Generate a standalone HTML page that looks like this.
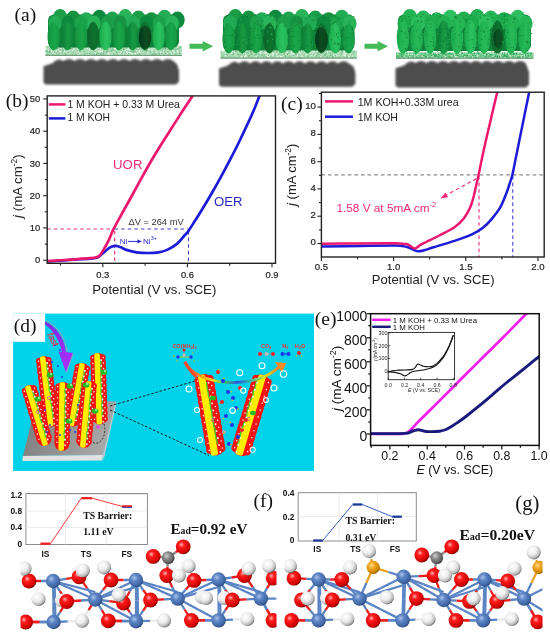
<!DOCTYPE html>
<html><head><meta charset="utf-8"><title>Figure</title>
<style>html,body{margin:0;padding:0;background:#fff;overflow:hidden;} svg{display:block;}</style></head>
<body><svg width="550" height="636" viewBox="0 0 550 636">
<rect width="550" height="636" fill="#fff"/>
<defs>
<filter id="shblur" x="-10%" y="-30%" width="120%" height="160%"><feGaussianBlur stdDeviation="1.1"/></filter>
<filter id="soft" x="-10%" y="-10%" width="120%" height="120%"><feGaussianBlur stdDeviation="0.45"/></filter>
<filter id="fuzz" x="-10%" y="-10%" width="120%" height="120%"><feTurbulence type="fractalNoise" baseFrequency="0.9" numOctaves="1" seed="3" result="n"/><feDisplacementMap in="SourceGraphic" in2="n" scale="2.2" xChannelSelector="R" yChannelSelector="G"/></filter>
<linearGradient id="bm" x1="0" x2="1"><stop offset="0" stop-color="#0c7a33"/><stop offset="0.55" stop-color="#159a44"/><stop offset="1" stop-color="#0f8539"/></linearGradient>
<linearGradient id="bl" x1="0" x2="1"><stop offset="0" stop-color="#18a84a"/><stop offset="0.55" stop-color="#2cc261"/><stop offset="1" stop-color="#20b253"/></linearGradient>
<linearGradient id="bd" x1="0" x2="1"><stop offset="0" stop-color="#07622a"/><stop offset="0.55" stop-color="#0b742f"/><stop offset="1" stop-color="#09682b"/></linearGradient>
<linearGradient id="bk" x1="0" x2="1"><stop offset="0" stop-color="#04361a"/><stop offset="0.55" stop-color="#094a20"/><stop offset="1" stop-color="#063e1a"/></linearGradient>
<linearGradient id="bb" x1="0" x2="1"><stop offset="0" stop-color="#11903d"/><stop offset="0.55" stop-color="#1aa64a"/><stop offset="1" stop-color="#149842"/></linearGradient>
<linearGradient id="b3" x1="0" x2="1"><stop offset="0" stop-color="#18a64a"/><stop offset="0.55" stop-color="#28ba58"/><stop offset="1" stop-color="#1fae50"/></linearGradient>
</defs>
<path d="M43.5,82.4 L43.5,66.3 L52.5,63.3 Q58.0,56.8 63.5,61.1 Q69.0,56.8 74.5,61.1 Q80.0,56.8 85.5,61.1 Q91.0,56.8 96.5,61.1 Q102.0,56.8 107.5,61.1 Q113.0,56.8 118.5,61.1 Q124.0,56.8 129.5,61.1 Q135.0,56.8 140.5,61.1 Q146.0,56.8 151.5,61.1 Q157.0,56.8 162.5,61.1 Q168.0,56.8 173.5,61.1 L177.0,64.3 L179.0,70.3 L179.0,81.4 L176.0,84.4 L45.5,84.4 Z" fill="#4d4d4d" filter="url(#shblur)"/>
<rect x="45.5" y="46.0" width="136.3" height="10.0" fill="#a6dab0"/>
<rect x="89.3" y="47.4" width="1.1" height="1.1" fill="#e6f6e8"/>
<rect x="55.3" y="50.8" width="1.1" height="1.1" fill="#d0eed6"/>
<rect x="124.4" y="54.2" width="1.1" height="1.1" fill="#7cc08a"/>
<rect x="50.6" y="49.9" width="1.1" height="1.1" fill="#e6f6e8"/>
<rect x="78.1" y="51.0" width="1.1" height="1.1" fill="#e6f6e8"/>
<rect x="157.4" y="47.1" width="1.1" height="1.1" fill="#7cc08a"/>
<rect x="130.8" y="51.2" width="1.1" height="1.1" fill="#e6f6e8"/>
<rect x="123.6" y="49.6" width="1.1" height="1.1" fill="#7cc08a"/>
<rect x="51.8" y="53.7" width="1.1" height="1.1" fill="#d0eed6"/>
<rect x="102.2" y="50.9" width="1.1" height="1.1" fill="#ffffff"/>
<rect x="87.2" y="53.3" width="1.1" height="1.1" fill="#7cc08a"/>
<rect x="59.4" y="51.1" width="1.1" height="1.1" fill="#7cc08a"/>
<rect x="95.9" y="50.9" width="1.1" height="1.1" fill="#e6f6e8"/>
<rect x="121.9" y="51.6" width="1.1" height="1.1" fill="#5faa70"/>
<rect x="137.6" y="49.8" width="1.1" height="1.1" fill="#d0eed6"/>
<rect x="108.5" y="54.3" width="1.1" height="1.1" fill="#d0eed6"/>
<rect x="86.1" y="53.1" width="1.1" height="1.1" fill="#7cc08a"/>
<rect x="56.6" y="48.7" width="1.1" height="1.1" fill="#5faa70"/>
<rect x="163.9" y="52.6" width="1.1" height="1.1" fill="#d0eed6"/>
<rect x="127.9" y="46.7" width="1.1" height="1.1" fill="#ffffff"/>
<rect x="102.1" y="52.8" width="1.1" height="1.1" fill="#7cc08a"/>
<rect x="171.8" y="49.8" width="1.1" height="1.1" fill="#e6f6e8"/>
<rect x="148.9" y="51.2" width="1.1" height="1.1" fill="#d0eed6"/>
<rect x="91.5" y="49.2" width="1.1" height="1.1" fill="#5faa70"/>
<rect x="124.0" y="50.1" width="1.1" height="1.1" fill="#e6f6e8"/>
<rect x="173.3" y="50.3" width="1.1" height="1.1" fill="#e6f6e8"/>
<rect x="53.7" y="52.3" width="1.1" height="1.1" fill="#ffffff"/>
<rect x="179.9" y="53.4" width="1.1" height="1.1" fill="#d0eed6"/>
<rect x="142.5" y="54.0" width="1.1" height="1.1" fill="#d0eed6"/>
<rect x="48.6" y="50.2" width="1.1" height="1.1" fill="#7cc08a"/>
<rect x="128.2" y="50.4" width="1.1" height="1.1" fill="#7cc08a"/>
<rect x="149.4" y="47.2" width="1.1" height="1.1" fill="#7cc08a"/>
<rect x="99.3" y="54.3" width="1.1" height="1.1" fill="#5faa70"/>
<rect x="56.4" y="50.0" width="1.1" height="1.1" fill="#ffffff"/>
<rect x="83.1" y="47.2" width="1.1" height="1.1" fill="#5faa70"/>
<rect x="162.4" y="48.5" width="1.1" height="1.1" fill="#5faa70"/>
<rect x="179.0" y="52.1" width="1.1" height="1.1" fill="#5faa70"/>
<rect x="175.1" y="47.4" width="1.1" height="1.1" fill="#7cc08a"/>
<rect x="66.0" y="51.9" width="1.1" height="1.1" fill="#e6f6e8"/>
<rect x="111.1" y="51.3" width="1.1" height="1.1" fill="#d0eed6"/>
<rect x="83.6" y="47.3" width="1.1" height="1.1" fill="#ffffff"/>
<rect x="95.5" y="51.1" width="1.1" height="1.1" fill="#7cc08a"/>
<rect x="138.9" y="50.6" width="1.1" height="1.1" fill="#ffffff"/>
<rect x="134.1" y="52.7" width="1.1" height="1.1" fill="#5faa70"/>
<rect x="167.2" y="53.0" width="1.1" height="1.1" fill="#ffffff"/>
<rect x="98.6" y="49.6" width="1.1" height="1.1" fill="#e6f6e8"/>
<rect x="110.7" y="49.6" width="1.1" height="1.1" fill="#7cc08a"/>
<rect x="54.6" y="47.9" width="1.1" height="1.1" fill="#7cc08a"/>
<rect x="60.4" y="51.4" width="1.1" height="1.1" fill="#e6f6e8"/>
<rect x="45.5" y="47.4" width="1.1" height="1.1" fill="#e6f6e8"/>
<rect x="173.9" y="51.5" width="1.1" height="1.1" fill="#e6f6e8"/>
<rect x="163.8" y="51.5" width="1.1" height="1.1" fill="#7cc08a"/>
<rect x="131.3" y="54.6" width="1.1" height="1.1" fill="#ffffff"/>
<rect x="94.8" y="47.1" width="1.1" height="1.1" fill="#5faa70"/>
<rect x="179.9" y="50.2" width="1.1" height="1.1" fill="#5faa70"/>
<rect x="87.7" y="47.3" width="1.1" height="1.1" fill="#d0eed6"/>
<rect x="145.7" y="50.3" width="1.1" height="1.1" fill="#7cc08a"/>
<rect x="115.4" y="47.8" width="1.1" height="1.1" fill="#ffffff"/>
<rect x="94.4" y="52.2" width="1.1" height="1.1" fill="#e6f6e8"/>
<rect x="148.1" y="48.7" width="1.1" height="1.1" fill="#e6f6e8"/>
<rect x="139.7" y="48.4" width="1.1" height="1.1" fill="#d0eed6"/>
<rect x="168.4" y="49.2" width="1.1" height="1.1" fill="#7cc08a"/>
<rect x="117.6" y="53.0" width="1.1" height="1.1" fill="#d0eed6"/>
<rect x="131.6" y="51.5" width="1.1" height="1.1" fill="#7cc08a"/>
<rect x="154.6" y="53.4" width="1.1" height="1.1" fill="#7cc08a"/>
<rect x="72.5" y="50.4" width="1.1" height="1.1" fill="#e6f6e8"/>
<rect x="179.4" y="53.1" width="1.1" height="1.1" fill="#5faa70"/>
<rect x="80.6" y="52.2" width="1.1" height="1.1" fill="#d0eed6"/>
<rect x="106.0" y="54.4" width="1.1" height="1.1" fill="#d0eed6"/>
<rect x="174.7" y="49.3" width="1.1" height="1.1" fill="#7cc08a"/>
<rect x="59.3" y="50.2" width="1.1" height="1.1" fill="#d0eed6"/>
<rect x="73.2" y="51.6" width="1.1" height="1.1" fill="#ffffff"/>
<rect x="159.2" y="50.3" width="1.1" height="1.1" fill="#d0eed6"/>
<rect x="153.7" y="46.8" width="1.1" height="1.1" fill="#e6f6e8"/>
<rect x="168.6" y="53.0" width="1.1" height="1.1" fill="#7cc08a"/>
<rect x="110.2" y="47.6" width="1.1" height="1.1" fill="#d0eed6"/>
<rect x="57.2" y="54.5" width="1.1" height="1.1" fill="#5faa70"/>
<rect x="108.2" y="52.7" width="1.1" height="1.1" fill="#e6f6e8"/>
<rect x="143.6" y="47.5" width="1.1" height="1.1" fill="#7cc08a"/>
<rect x="49.2" y="51.3" width="1.1" height="1.1" fill="#5faa70"/>
<rect x="154.6" y="47.3" width="1.1" height="1.1" fill="#ffffff"/>
<rect x="178.1" y="51.9" width="1.1" height="1.1" fill="#d0eed6"/>
<rect x="66.6" y="50.9" width="1.1" height="1.1" fill="#e6f6e8"/>
<rect x="47.4" y="54.7" width="1.1" height="1.1" fill="#e6f6e8"/>
<rect x="116.7" y="54.4" width="1.1" height="1.1" fill="#5faa70"/>
<rect x="179.0" y="47.8" width="1.1" height="1.1" fill="#7cc08a"/>
<rect x="49.3" y="47.9" width="1.1" height="1.1" fill="#ffffff"/>
<rect x="78.0" y="51.3" width="1.1" height="1.1" fill="#d0eed6"/>
<rect x="119.2" y="53.5" width="1.1" height="1.1" fill="#e6f6e8"/>
<rect x="168.6" y="49.2" width="1.1" height="1.1" fill="#5faa70"/>
<rect x="135.1" y="53.3" width="1.1" height="1.1" fill="#ffffff"/>
<rect x="102.4" y="54.3" width="1.1" height="1.1" fill="#ffffff"/>
<rect x="63.2" y="47.4" width="1.1" height="1.1" fill="#ffffff"/>
<rect x="48.0" y="50.0" width="1.1" height="1.1" fill="#7cc08a"/>
<rect x="127.8" y="53.0" width="1.1" height="1.1" fill="#7cc08a"/>
<rect x="68.8" y="50.3" width="1.1" height="1.1" fill="#e6f6e8"/>
<rect x="120.8" y="48.9" width="1.1" height="1.1" fill="#ffffff"/>
<rect x="117.3" y="50.3" width="1.1" height="1.1" fill="#e6f6e8"/>
<rect x="165.0" y="46.5" width="1.1" height="1.1" fill="#7cc08a"/>
<rect x="83.0" y="53.0" width="1.1" height="1.1" fill="#ffffff"/>
<rect x="106.7" y="46.3" width="1.1" height="1.1" fill="#e6f6e8"/>
<rect x="105.5" y="51.5" width="1.1" height="1.1" fill="#ffffff"/>
<rect x="127.5" y="47.8" width="1.1" height="1.1" fill="#d0eed6"/>
<rect x="106.7" y="50.8" width="1.1" height="1.1" fill="#5faa70"/>
<rect x="114.2" y="48.2" width="1.1" height="1.1" fill="#ffffff"/>
<rect x="164.1" y="54.5" width="1.1" height="1.1" fill="#d0eed6"/>
<rect x="170.4" y="54.0" width="1.1" height="1.1" fill="#7cc08a"/>
<rect x="159.2" y="47.2" width="1.1" height="1.1" fill="#e6f6e8"/>
<rect x="98.6" y="48.8" width="1.1" height="1.1" fill="#7cc08a"/>
<rect x="103.5" y="47.9" width="1.1" height="1.1" fill="#d0eed6"/>
<rect x="151.6" y="54.1" width="1.1" height="1.1" fill="#7cc08a"/>
<rect x="172.6" y="51.8" width="1.1" height="1.1" fill="#d0eed6"/>
<rect x="64.8" y="53.9" width="1.1" height="1.1" fill="#5faa70"/>
<rect x="75.2" y="54.6" width="1.1" height="1.1" fill="#5faa70"/>
<rect x="165.2" y="47.5" width="1.1" height="1.1" fill="#7cc08a"/>
<rect x="67.3" y="49.9" width="1.1" height="1.1" fill="#ffffff"/>
<rect x="100.1" y="49.8" width="1.1" height="1.1" fill="#d0eed6"/>
<rect x="88.6" y="52.5" width="1.1" height="1.1" fill="#e6f6e8"/>
<rect x="91.2" y="50.1" width="1.1" height="1.1" fill="#e6f6e8"/>
<rect x="97.5" y="50.7" width="1.1" height="1.1" fill="#d0eed6"/>
<rect x="114.8" y="46.6" width="1.1" height="1.1" fill="#7cc08a"/>
<rect x="177.0" y="46.9" width="1.1" height="1.1" fill="#d0eed6"/>
<rect x="82.3" y="54.2" width="1.1" height="1.1" fill="#7cc08a"/>
<rect x="82.1" y="47.2" width="1.1" height="1.1" fill="#5faa70"/>
<rect x="160.4" y="52.1" width="1.1" height="1.1" fill="#d0eed6"/>
<rect x="100.4" y="50.8" width="1.1" height="1.1" fill="#ffffff"/>
<rect x="122.7" y="52.3" width="1.1" height="1.1" fill="#e6f6e8"/>
<rect x="83.3" y="53.2" width="1.1" height="1.1" fill="#7cc08a"/>
<rect x="103.0" y="46.7" width="1.1" height="1.1" fill="#e6f6e8"/>
<rect x="131.3" y="53.2" width="1.1" height="1.1" fill="#e6f6e8"/>
<rect x="127.8" y="48.0" width="1.1" height="1.1" fill="#d0eed6"/>
<rect x="162.2" y="50.1" width="1.1" height="1.1" fill="#d0eed6"/>
<rect x="180.0" y="49.8" width="1.1" height="1.1" fill="#d0eed6"/>
<rect x="129.6" y="46.4" width="1.1" height="1.1" fill="#7cc08a"/>
<rect x="172.4" y="54.7" width="1.1" height="1.1" fill="#d0eed6"/>
<rect x="52.3" y="47.8" width="1.1" height="1.1" fill="#d0eed6"/>
<rect x="130.6" y="50.8" width="1.1" height="1.1" fill="#7cc08a"/>
<rect x="84.7" y="50.5" width="1.1" height="1.1" fill="#7cc08a"/>
<rect x="82.1" y="53.2" width="1.1" height="1.1" fill="#d0eed6"/>
<rect x="50.5" y="46.2" width="1.1" height="1.1" fill="#ffffff"/>
<rect x="120.1" y="47.7" width="1.1" height="1.1" fill="#5faa70"/>
<rect x="78.7" y="50.0" width="1.1" height="1.1" fill="#5faa70"/>
<rect x="134.3" y="50.9" width="1.1" height="1.1" fill="#5faa70"/>
<rect x="176.8" y="48.8" width="1.1" height="1.1" fill="#7cc08a"/>
<rect x="178.4" y="49.1" width="1.1" height="1.1" fill="#7cc08a"/>
<rect x="100.3" y="49.1" width="1.1" height="1.1" fill="#e6f6e8"/>
<rect x="158.7" y="46.1" width="1.1" height="1.1" fill="#d0eed6"/>
<rect x="103.8" y="46.5" width="1.1" height="1.1" fill="#5faa70"/>
<rect x="163.3" y="52.0" width="1.1" height="1.1" fill="#d0eed6"/>
<rect x="126.5" y="52.2" width="1.1" height="1.1" fill="#e6f6e8"/>
<rect x="107.7" y="47.4" width="1.1" height="1.1" fill="#5faa70"/>
<rect x="46.0" y="49.3" width="1.1" height="1.1" fill="#d0eed6"/>
<rect x="177.1" y="50.9" width="1.1" height="1.1" fill="#7cc08a"/>
<rect x="50.2" y="53.9" width="1.1" height="1.1" fill="#7cc08a"/>
<rect x="93.7" y="46.0" width="1.1" height="1.1" fill="#5faa70"/>
<rect x="56.9" y="48.5" width="1.1" height="1.1" fill="#7cc08a"/>
<rect x="79.1" y="53.0" width="1.1" height="1.1" fill="#e6f6e8"/>
<rect x="81.2" y="46.8" width="1.1" height="1.1" fill="#5faa70"/>
<rect x="124.9" y="49.5" width="1.1" height="1.1" fill="#d0eed6"/>
<rect x="86.7" y="48.1" width="1.1" height="1.1" fill="#ffffff"/>
<rect x="175.1" y="53.7" width="1.1" height="1.1" fill="#7cc08a"/>
<rect x="134.5" y="52.4" width="1.1" height="1.1" fill="#ffffff"/>
<rect x="98.2" y="48.9" width="1.1" height="1.1" fill="#5faa70"/>
<rect x="65.7" y="52.5" width="1.1" height="1.1" fill="#7cc08a"/>
<rect x="51.4" y="53.5" width="1.1" height="1.1" fill="#ffffff"/>
<rect x="130.4" y="52.6" width="1.1" height="1.1" fill="#ffffff"/>
<rect x="64.3" y="50.7" width="1.1" height="1.1" fill="#ffffff"/>
<rect x="122.4" y="53.3" width="1.1" height="1.1" fill="#e6f6e8"/>
<rect x="157.3" y="51.3" width="1.1" height="1.1" fill="#7cc08a"/>
<rect x="57.0" y="46.4" width="1.1" height="1.1" fill="#d0eed6"/>
<rect x="175.3" y="49.4" width="1.1" height="1.1" fill="#5faa70"/>
<rect x="121.1" y="51.6" width="1.1" height="1.1" fill="#ffffff"/>
<rect x="137.6" y="50.4" width="1.1" height="1.1" fill="#e6f6e8"/>
<rect x="107.3" y="46.6" width="1.1" height="1.1" fill="#ffffff"/>
<rect x="167.0" y="46.8" width="1.1" height="1.1" fill="#ffffff"/>
<rect x="54.4" y="52.6" width="1.1" height="1.1" fill="#d0eed6"/>
<rect x="155.0" y="53.6" width="1.1" height="1.1" fill="#7cc08a"/>
<rect x="144.2" y="47.8" width="1.1" height="1.1" fill="#5faa70"/>
<rect x="112.3" y="49.4" width="1.1" height="1.1" fill="#5faa70"/>
<rect x="168.7" y="48.6" width="1.1" height="1.1" fill="#e6f6e8"/>
<rect x="129.0" y="51.8" width="1.1" height="1.1" fill="#e6f6e8"/>
<rect x="126.6" y="49.0" width="1.1" height="1.1" fill="#d0eed6"/>
<rect x="129.5" y="47.2" width="1.1" height="1.1" fill="#5faa70"/>
<rect x="53.7" y="48.4" width="1.1" height="1.1" fill="#e6f6e8"/>
<rect x="139.2" y="52.1" width="1.1" height="1.1" fill="#d0eed6"/>
<rect x="141.4" y="48.6" width="1.1" height="1.1" fill="#5faa70"/>
<rect x="108.6" y="47.1" width="1.1" height="1.1" fill="#ffffff"/>
<rect x="72.5" y="54.8" width="1.1" height="1.1" fill="#5faa70"/>
<rect x="47.9" y="50.1" width="1.1" height="1.1" fill="#ffffff"/>
<rect x="176.5" y="50.0" width="1.1" height="1.1" fill="#d0eed6"/>
<rect x="97.8" y="54.2" width="1.1" height="1.1" fill="#7cc08a"/>
<rect x="55.6" y="46.8" width="1.1" height="1.1" fill="#ffffff"/>
<rect x="80.9" y="49.2" width="1.1" height="1.1" fill="#ffffff"/>
<rect x="156.5" y="50.6" width="1.1" height="1.1" fill="#e6f6e8"/>
<rect x="140.7" y="48.1" width="1.1" height="1.1" fill="#5faa70"/>
<rect x="98.8" y="47.4" width="1.1" height="1.1" fill="#5faa70"/>
<rect x="137.7" y="49.6" width="1.1" height="1.1" fill="#7cc08a"/>
<rect x="101.8" y="49.4" width="1.1" height="1.1" fill="#e6f6e8"/>
<rect x="159.2" y="46.0" width="1.1" height="1.1" fill="#d0eed6"/>
<rect x="159.0" y="47.1" width="1.1" height="1.1" fill="#7cc08a"/>
<rect x="142.0" y="54.1" width="1.1" height="1.1" fill="#d0eed6"/>
<rect x="79.8" y="46.6" width="1.1" height="1.1" fill="#5faa70"/>
<rect x="180.6" y="51.3" width="1.1" height="1.1" fill="#d0eed6"/>
<rect x="170.7" y="52.8" width="1.1" height="1.1" fill="#e6f6e8"/>
<rect x="83.5" y="46.5" width="1.1" height="1.1" fill="#d0eed6"/>
<rect x="131.4" y="47.3" width="1.1" height="1.1" fill="#d0eed6"/>
<rect x="104.5" y="48.8" width="1.1" height="1.1" fill="#d0eed6"/>
<rect x="151.7" y="49.8" width="1.1" height="1.1" fill="#e6f6e8"/>
<rect x="155.4" y="51.7" width="1.1" height="1.1" fill="#ffffff"/>
<rect x="119.8" y="52.5" width="1.1" height="1.1" fill="#e6f6e8"/>
<rect x="171.8" y="49.7" width="1.1" height="1.1" fill="#ffffff"/>
<rect x="147.3" y="51.8" width="1.1" height="1.1" fill="#d0eed6"/>
<rect x="111.2" y="54.2" width="1.1" height="1.1" fill="#ffffff"/>
<rect x="62.7" y="50.2" width="1.1" height="1.1" fill="#d0eed6"/>
<rect x="83.6" y="48.3" width="1.1" height="1.1" fill="#d0eed6"/>
<rect x="100.5" y="48.1" width="1.1" height="1.1" fill="#5faa70"/>
<rect x="120.9" y="49.5" width="1.1" height="1.1" fill="#7cc08a"/>
<rect x="132.5" y="46.7" width="1.1" height="1.1" fill="#ffffff"/>
<rect x="168.1" y="50.5" width="1.1" height="1.1" fill="#7cc08a"/>
<rect x="106.8" y="49.0" width="1.1" height="1.1" fill="#5faa70"/>
<rect x="103.3" y="50.9" width="1.1" height="1.1" fill="#7cc08a"/>
<rect x="57.8" y="49.1" width="1.1" height="1.1" fill="#e6f6e8"/>
<rect x="88.7" y="49.3" width="1.1" height="1.1" fill="#ffffff"/>
<rect x="72.8" y="46.2" width="1.1" height="1.1" fill="#5faa70"/>
<rect x="97.3" y="52.7" width="1.1" height="1.1" fill="#7cc08a"/>
<rect x="96.5" y="49.0" width="1.1" height="1.1" fill="#e6f6e8"/>
<rect x="112.9" y="51.2" width="1.1" height="1.1" fill="#d0eed6"/>
<rect x="62.5" y="50.5" width="1.1" height="1.1" fill="#7cc08a"/>
<rect x="58.0" y="54.1" width="1.1" height="1.1" fill="#5faa70"/>
<rect x="99.6" y="50.0" width="1.1" height="1.1" fill="#d0eed6"/>
<rect x="160.3" y="53.9" width="1.1" height="1.1" fill="#e6f6e8"/>
<rect x="62.7" y="49.8" width="1.1" height="1.1" fill="#5faa70"/>
<rect x="176.5" y="50.4" width="1.1" height="1.1" fill="#e6f6e8"/>
<rect x="98.5" y="54.3" width="1.1" height="1.1" fill="#ffffff"/>
<rect x="161.2" y="54.8" width="1.1" height="1.1" fill="#7cc08a"/>
<rect x="151.5" y="48.0" width="1.1" height="1.1" fill="#7cc08a"/>
<rect x="116.2" y="52.1" width="1.1" height="1.1" fill="#5faa70"/>
<rect x="57.0" y="53.0" width="1.1" height="1.1" fill="#e6f6e8"/>
<rect x="151.3" y="48.1" width="1.1" height="1.1" fill="#e6f6e8"/>
<rect x="132.8" y="48.7" width="1.1" height="1.1" fill="#7cc08a"/>
<rect x="130.3" y="50.8" width="1.1" height="1.1" fill="#5faa70"/>
<rect x="140.0" y="47.0" width="1.1" height="1.1" fill="#e6f6e8"/>
<rect x="86.1" y="54.5" width="1.1" height="1.1" fill="#7cc08a"/>
<rect x="98.0" y="48.0" width="1.1" height="1.1" fill="#ffffff"/>
<rect x="45.7" y="50.8" width="1.1" height="1.1" fill="#5faa70"/>
<rect x="83.2" y="48.8" width="1.1" height="1.1" fill="#7cc08a"/>
<rect x="109.8" y="48.1" width="1.1" height="1.1" fill="#7cc08a"/>
<rect x="49.5" y="49.7" width="1.1" height="1.1" fill="#d0eed6"/>
<rect x="53.0" y="47.7" width="1.1" height="1.1" fill="#5faa70"/>
<rect x="56.5" y="48.1" width="1.1" height="1.1" fill="#5faa70"/>
<rect x="170.7" y="48.0" width="1.1" height="1.1" fill="#e6f6e8"/>
<rect x="139.6" y="52.5" width="1.1" height="1.1" fill="#d0eed6"/>
<rect x="137.9" y="47.8" width="1.1" height="1.1" fill="#d0eed6"/>
<rect x="145.5" y="50.5" width="1.1" height="1.1" fill="#7cc08a"/>
<rect x="112.6" y="47.8" width="1.1" height="1.1" fill="#7cc08a"/>
<rect x="76.7" y="48.0" width="1.1" height="1.1" fill="#d0eed6"/>
<rect x="60.2" y="51.6" width="1.1" height="1.1" fill="#ffffff"/>
<rect x="70.8" y="48.0" width="1.1" height="1.1" fill="#5faa70"/>
<rect x="168.7" y="46.5" width="1.1" height="1.1" fill="#ffffff"/>
<rect x="65.3" y="49.5" width="1.1" height="1.1" fill="#7cc08a"/>
<rect x="48.7" y="51.4" width="1.1" height="1.1" fill="#5faa70"/>
<rect x="52.5" y="46.5" width="1.1" height="1.1" fill="#5faa70"/>
<rect x="106.3" y="52.4" width="1.1" height="1.1" fill="#d0eed6"/>
<rect x="144.6" y="55.0" width="1.1" height="1.1" fill="#7cc08a"/>
<rect x="90.0" y="47.7" width="1.1" height="1.1" fill="#ffffff"/>
<rect x="146.5" y="46.3" width="1.1" height="1.1" fill="#5faa70"/>
<rect x="159.0" y="54.9" width="1.1" height="1.1" fill="#5faa70"/>
<rect x="68.4" y="46.0" width="1.1" height="1.1" fill="#d0eed6"/>
<rect x="56.4" y="49.8" width="1.1" height="1.1" fill="#e6f6e8"/>
<rect x="121.4" y="52.8" width="1.1" height="1.1" fill="#5faa70"/>
<rect x="93.8" y="53.4" width="1.1" height="1.1" fill="#5faa70"/>
<rect x="57.4" y="52.3" width="1.1" height="1.1" fill="#7cc08a"/>
<rect x="95.9" y="54.3" width="1.1" height="1.1" fill="#7cc08a"/>
<rect x="89.2" y="52.6" width="1.1" height="1.1" fill="#5faa70"/>
<rect x="49.6" y="49.7" width="1.1" height="1.1" fill="#5faa70"/>
<rect x="51.0" y="46.3" width="1.1" height="1.1" fill="#e6f6e8"/>
<rect x="154.2" y="46.6" width="1.1" height="1.1" fill="#7cc08a"/>
<rect x="146.6" y="54.1" width="1.1" height="1.1" fill="#d0eed6"/>
<rect x="94.6" y="49.0" width="1.1" height="1.1" fill="#ffffff"/>
<rect x="51.4" y="52.7" width="1.1" height="1.1" fill="#d0eed6"/>
<rect x="170.5" y="48.7" width="1.1" height="1.1" fill="#ffffff"/>
<rect x="169.5" y="51.7" width="1.1" height="1.1" fill="#e6f6e8"/>
<rect x="48.8" y="48.1" width="1.1" height="1.1" fill="#5faa70"/>
<rect x="142.3" y="50.2" width="1.1" height="1.1" fill="#5faa70"/>
<rect x="152.4" y="54.2" width="1.1" height="1.1" fill="#5faa70"/>
<rect x="63.5" y="50.5" width="1.1" height="1.1" fill="#e6f6e8"/>
<rect x="154.1" y="52.6" width="1.1" height="1.1" fill="#7cc08a"/>
<rect x="127.7" y="49.0" width="1.1" height="1.1" fill="#d0eed6"/>
<rect x="107.8" y="53.1" width="1.1" height="1.1" fill="#ffffff"/>
<rect x="56.2" y="47.8" width="1.1" height="1.1" fill="#7cc08a"/>
<rect x="79.0" y="46.6" width="1.1" height="1.1" fill="#e6f6e8"/>
<rect x="110.7" y="50.9" width="1.1" height="1.1" fill="#7cc08a"/>
<rect x="178.1" y="54.0" width="1.1" height="1.1" fill="#e6f6e8"/>
<rect x="81.3" y="46.8" width="1.1" height="1.1" fill="#e6f6e8"/>
<rect x="102.5" y="54.9" width="1.1" height="1.1" fill="#5faa70"/>
<rect x="68.9" y="47.2" width="1.1" height="1.1" fill="#5faa70"/>
<rect x="129.4" y="52.1" width="1.1" height="1.1" fill="#ffffff"/>
<rect x="160.1" y="52.0" width="1.1" height="1.1" fill="#e6f6e8"/>
<rect x="151.0" y="48.6" width="1.1" height="1.1" fill="#d0eed6"/>
<rect x="122.2" y="49.4" width="1.1" height="1.1" fill="#d0eed6"/>
<rect x="72.5" y="48.2" width="1.1" height="1.1" fill="#7cc08a"/>
<rect x="77.4" y="48.5" width="1.1" height="1.1" fill="#ffffff"/>
<rect x="71.0" y="46.6" width="1.1" height="1.1" fill="#d0eed6"/>
<rect x="179.8" y="50.6" width="1.1" height="1.1" fill="#7cc08a"/>
<rect x="133.4" y="46.9" width="1.1" height="1.1" fill="#5faa70"/>
<rect x="179.6" y="46.9" width="1.1" height="1.1" fill="#5faa70"/>
<rect x="164.9" y="48.1" width="1.1" height="1.1" fill="#5faa70"/>
<rect x="169.2" y="46.4" width="1.1" height="1.1" fill="#d0eed6"/>
<rect x="77.0" y="46.5" width="1.1" height="1.1" fill="#ffffff"/>
<rect x="177.1" y="51.2" width="1.1" height="1.1" fill="#e6f6e8"/>
<rect x="95.9" y="53.8" width="1.1" height="1.1" fill="#5faa70"/>
<rect x="127.1" y="53.0" width="1.1" height="1.1" fill="#e6f6e8"/>
<rect x="59.8" y="51.4" width="1.1" height="1.1" fill="#ffffff"/>
<rect x="92.8" y="46.3" width="1.1" height="1.1" fill="#d0eed6"/>
<rect x="64.6" y="47.8" width="1.1" height="1.1" fill="#d0eed6"/>
<rect x="50.7" y="52.6" width="1.1" height="1.1" fill="#7cc08a"/>
<rect x="155.7" y="53.4" width="1.1" height="1.1" fill="#5faa70"/>
<rect x="137.3" y="47.7" width="1.1" height="1.1" fill="#d0eed6"/>
<rect x="56.0" y="46.3" width="1.1" height="1.1" fill="#5faa70"/>
<rect x="119.7" y="46.6" width="1.1" height="1.1" fill="#e6f6e8"/>
<rect x="153.2" y="52.0" width="1.1" height="1.1" fill="#7cc08a"/>
<rect x="132.0" y="46.8" width="1.1" height="1.1" fill="#7cc08a"/>
<rect x="99.3" y="48.4" width="1.1" height="1.1" fill="#d0eed6"/>
<rect x="135.9" y="49.8" width="1.1" height="1.1" fill="#e6f6e8"/>
<rect x="87.8" y="51.1" width="1.1" height="1.1" fill="#d0eed6"/>
<rect x="101.5" y="46.2" width="1.1" height="1.1" fill="#d0eed6"/>
<rect x="132.7" y="49.5" width="1.1" height="1.1" fill="#5faa70"/>
<rect x="73.1" y="46.1" width="1.1" height="1.1" fill="#7cc08a"/>
<rect x="102.8" y="53.4" width="1.1" height="1.1" fill="#5faa70"/>
<rect x="123.7" y="49.3" width="1.1" height="1.1" fill="#7cc08a"/>
<rect x="63.1" y="46.5" width="1.1" height="1.1" fill="#7cc08a"/>
<rect x="132.2" y="54.2" width="1.1" height="1.1" fill="#e6f6e8"/>
<rect x="123.0" y="54.3" width="1.1" height="1.1" fill="#ffffff"/>
<rect x="68.7" y="49.1" width="1.1" height="1.1" fill="#7cc08a"/>
<rect x="116.0" y="54.3" width="1.1" height="1.1" fill="#e6f6e8"/>
<rect x="97.4" y="52.8" width="1.1" height="1.1" fill="#7cc08a"/>
<rect x="86.3" y="53.5" width="1.1" height="1.1" fill="#e6f6e8"/>
<rect x="177.5" y="50.3" width="1.1" height="1.1" fill="#e6f6e8"/>
<rect x="127.7" y="51.7" width="1.1" height="1.1" fill="#e6f6e8"/>
<rect x="167.8" y="51.6" width="1.1" height="1.1" fill="#7cc08a"/>
<rect x="132.1" y="53.7" width="1.1" height="1.1" fill="#ffffff"/>
<rect x="100.2" y="53.6" width="1.1" height="1.1" fill="#5faa70"/>
<rect x="70.3" y="48.0" width="1.1" height="1.1" fill="#5faa70"/>
<rect x="172.5" y="47.4" width="1.1" height="1.1" fill="#d0eed6"/>
<rect x="62.1" y="48.2" width="1.1" height="1.1" fill="#7cc08a"/>
<rect x="51.1" y="51.1" width="1.1" height="1.1" fill="#e6f6e8"/>
<rect x="135.9" y="48.9" width="1.1" height="1.1" fill="#5faa70"/>
<rect x="126.6" y="51.0" width="1.1" height="1.1" fill="#d0eed6"/>
<rect x="133.3" y="48.8" width="1.1" height="1.1" fill="#7cc08a"/>
<rect x="103.1" y="51.9" width="1.1" height="1.1" fill="#5faa70"/>
<rect x="113.6" y="47.6" width="1.1" height="1.1" fill="#e6f6e8"/>
<rect x="129.2" y="50.4" width="1.1" height="1.1" fill="#7cc08a"/>
<rect x="106.0" y="51.6" width="1.1" height="1.1" fill="#5faa70"/>
<rect x="158.7" y="53.3" width="1.1" height="1.1" fill="#5faa70"/>
<rect x="60.0" y="47.2" width="1.1" height="1.1" fill="#5faa70"/>
<rect x="94.9" y="53.2" width="1.1" height="1.1" fill="#ffffff"/>
<rect x="114.5" y="46.4" width="1.1" height="1.1" fill="#7cc08a"/>
<rect x="56.6" y="52.6" width="1.1" height="1.1" fill="#ffffff"/>
<rect x="56.3" y="52.8" width="1.1" height="1.1" fill="#5faa70"/>
<rect x="133.8" y="53.1" width="1.1" height="1.1" fill="#e6f6e8"/>
<rect x="161.5" y="55.0" width="1.1" height="1.1" fill="#e6f6e8"/>
<rect x="71.7" y="54.8" width="1.1" height="1.1" fill="#5faa70"/>
<rect x="84.5" y="53.3" width="1.1" height="1.1" fill="#7cc08a"/>
<rect x="138.3" y="52.5" width="1.1" height="1.1" fill="#7cc08a"/>
<rect x="54.4" y="49.2" width="1.1" height="1.1" fill="#d0eed6"/>
<rect x="67.0" y="54.1" width="1.1" height="1.1" fill="#d0eed6"/>
<rect x="168.0" y="50.1" width="1.1" height="1.1" fill="#d0eed6"/>
<rect x="113.5" y="54.3" width="1.1" height="1.1" fill="#7cc08a"/>
<rect x="125.6" y="51.5" width="1.1" height="1.1" fill="#7cc08a"/>
<rect x="88.7" y="46.3" width="1.1" height="1.1" fill="#7cc08a"/>
<rect x="100.1" y="51.7" width="1.1" height="1.1" fill="#d0eed6"/>
<rect x="137.5" y="54.1" width="1.1" height="1.1" fill="#7cc08a"/>
<rect x="152.7" y="48.4" width="1.1" height="1.1" fill="#ffffff"/>
<rect x="52.1" y="53.7" width="1.1" height="1.1" fill="#5faa70"/>
<rect x="120.6" y="51.2" width="1.1" height="1.1" fill="#e6f6e8"/>
<rect x="79.6" y="50.8" width="1.1" height="1.1" fill="#5faa70"/>
<rect x="145.3" y="49.3" width="1.1" height="1.1" fill="#5faa70"/>
<rect x="179.5" y="51.2" width="1.1" height="1.1" fill="#d0eed6"/>
<rect x="90.3" y="46.7" width="1.1" height="1.1" fill="#7cc08a"/>
<rect x="69.4" y="52.7" width="1.1" height="1.1" fill="#e6f6e8"/>
<rect x="85.6" y="50.6" width="1.1" height="1.1" fill="#d0eed6"/>
<rect x="132.0" y="54.9" width="1.1" height="1.1" fill="#ffffff"/>
<rect x="171.1" y="54.1" width="1.1" height="1.1" fill="#e6f6e8"/>
<rect x="146.6" y="48.0" width="1.1" height="1.1" fill="#d0eed6"/>
<rect x="128.9" y="49.9" width="1.1" height="1.1" fill="#ffffff"/>
<rect x="94.8" y="46.4" width="1.1" height="1.1" fill="#5faa70"/>
<rect x="76.2" y="51.9" width="1.1" height="1.1" fill="#e6f6e8"/>
<rect x="52.9" y="51.1" width="1.1" height="1.1" fill="#d0eed6"/>
<rect x="59.9" y="49.2" width="1.1" height="1.1" fill="#7cc08a"/>
<rect x="101.4" y="48.7" width="1.1" height="1.1" fill="#7cc08a"/>
<rect x="73.1" y="51.6" width="1.1" height="1.1" fill="#5faa70"/>
<rect x="67.0" y="46.1" width="1.1" height="1.1" fill="#7cc08a"/>
<rect x="141.2" y="50.1" width="1.1" height="1.1" fill="#e6f6e8"/>
<rect x="131.8" y="53.8" width="1.1" height="1.1" fill="#d0eed6"/>
<rect x="99.9" y="48.4" width="1.1" height="1.1" fill="#e6f6e8"/>
<rect x="53.1" y="53.4" width="1.1" height="1.1" fill="#d0eed6"/>
<rect x="126.0" y="51.2" width="1.1" height="1.1" fill="#ffffff"/>
<rect x="172.3" y="52.6" width="1.1" height="1.1" fill="#7cc08a"/>
<rect x="67.8" y="46.0" width="1.1" height="1.1" fill="#e6f6e8"/>
<rect x="117.4" y="49.7" width="1.1" height="1.1" fill="#7cc08a"/>
<rect x="67.0" y="54.2" width="1.1" height="1.1" fill="#e6f6e8"/>
<rect x="47.2" y="51.0" width="1.1" height="1.1" fill="#7cc08a"/>
<rect x="64.7" y="47.8" width="1.1" height="1.1" fill="#ffffff"/>
<rect x="132.5" y="51.8" width="1.1" height="1.1" fill="#5faa70"/>
<rect x="155.6" y="47.6" width="1.1" height="1.1" fill="#d0eed6"/>
<rect x="54.1" y="51.6" width="1.1" height="1.1" fill="#5faa70"/>
<rect x="142.3" y="46.1" width="1.1" height="1.1" fill="#5faa70"/>
<rect x="146.3" y="50.2" width="1.1" height="1.1" fill="#5faa70"/>
<rect x="69.2" y="55.0" width="1.1" height="1.1" fill="#d0eed6"/>
<rect x="76.9" y="46.3" width="1.1" height="1.1" fill="#d0eed6"/>
<rect x="166.1" y="54.3" width="1.1" height="1.1" fill="#d0eed6"/>
<rect x="141.8" y="48.4" width="1.1" height="1.1" fill="#ffffff"/>
<rect x="137.4" y="52.2" width="1.1" height="1.1" fill="#ffffff"/>
<rect x="177.0" y="48.7" width="1.1" height="1.1" fill="#7cc08a"/>
<rect x="57.1" y="50.6" width="1.1" height="1.1" fill="#7cc08a"/>
<rect x="80.7" y="48.1" width="1.1" height="1.1" fill="#7cc08a"/>
<rect x="173.3" y="52.7" width="1.1" height="1.1" fill="#d0eed6"/>
<rect x="71.5" y="49.5" width="1.1" height="1.1" fill="#ffffff"/>
<rect x="77.9" y="54.2" width="1.1" height="1.1" fill="#ffffff"/>
<rect x="109.0" y="53.6" width="1.1" height="1.1" fill="#e6f6e8"/>
<rect x="161.5" y="49.9" width="1.1" height="1.1" fill="#7cc08a"/>
<rect x="122.7" y="48.8" width="1.1" height="1.1" fill="#7cc08a"/>
<rect x="98.5" y="51.3" width="1.1" height="1.1" fill="#ffffff"/>
<rect x="168.7" y="47.3" width="1.1" height="1.1" fill="#e6f6e8"/>
<rect x="60.6" y="51.6" width="1.1" height="1.1" fill="#7cc08a"/>
<rect x="92.2" y="47.3" width="1.1" height="1.1" fill="#e6f6e8"/>
<rect x="49.7" y="47.2" width="1.1" height="1.1" fill="#e6f6e8"/>
<rect x="139.8" y="52.6" width="1.1" height="1.1" fill="#e6f6e8"/>
<rect x="161.4" y="52.9" width="1.1" height="1.1" fill="#7cc08a"/>
<rect x="156.1" y="53.4" width="1.1" height="1.1" fill="#e6f6e8"/>
<rect x="164.5" y="52.8" width="1.1" height="1.1" fill="#5faa70"/>
<rect x="60.0" y="47.9" width="1.1" height="1.1" fill="#e6f6e8"/>
<rect x="50.1" y="54.5" width="1.1" height="1.1" fill="#e6f6e8"/>
<rect x="157.1" y="51.7" width="1.1" height="1.1" fill="#d0eed6"/>
<rect x="110.1" y="47.2" width="1.1" height="1.1" fill="#7cc08a"/>
<rect x="85.3" y="49.0" width="1.1" height="1.1" fill="#d0eed6"/>
<rect x="48.3" y="48.3" width="1.1" height="1.1" fill="#d0eed6"/>
<rect x="52.0" y="52.8" width="1.1" height="1.1" fill="#d0eed6"/>
<rect x="149.6" y="51.4" width="1.1" height="1.1" fill="#5faa70"/>
<rect x="160.7" y="51.6" width="1.1" height="1.1" fill="#e6f6e8"/>
<rect x="152.3" y="46.3" width="1.1" height="1.1" fill="#ffffff"/>
<rect x="150.1" y="49.1" width="1.1" height="1.1" fill="#e6f6e8"/>
<rect x="118.3" y="47.9" width="1.1" height="1.1" fill="#e6f6e8"/>
<rect x="123.2" y="48.6" width="1.1" height="1.1" fill="#5faa70"/>
<rect x="45.7" y="47.8" width="1.1" height="1.1" fill="#e6f6e8"/>
<rect x="46.1" y="50.4" width="1.1" height="1.1" fill="#5faa70"/>
<rect x="139.6" y="53.4" width="1.1" height="1.1" fill="#5faa70"/>
<rect x="125.7" y="54.6" width="1.1" height="1.1" fill="#ffffff"/>
<rect x="80.8" y="54.5" width="1.1" height="1.1" fill="#d0eed6"/>
<rect x="155.8" y="54.4" width="1.1" height="1.1" fill="#7cc08a"/>
<rect x="112.9" y="47.0" width="1.1" height="1.1" fill="#e6f6e8"/>
<rect x="111.8" y="54.9" width="1.1" height="1.1" fill="#ffffff"/>
<rect x="152.0" y="51.7" width="1.1" height="1.1" fill="#d0eed6"/>
<rect x="58.4" y="54.4" width="1.1" height="1.1" fill="#e6f6e8"/>
<rect x="102.6" y="51.8" width="1.1" height="1.1" fill="#d0eed6"/>
<rect x="73.4" y="48.4" width="1.1" height="1.1" fill="#ffffff"/>
<rect x="113.3" y="49.4" width="1.1" height="1.1" fill="#7cc08a"/>
<rect x="173.2" y="47.1" width="1.1" height="1.1" fill="#ffffff"/>
<rect x="147.6" y="52.8" width="1.1" height="1.1" fill="#e6f6e8"/>
<rect x="92.7" y="48.9" width="1.1" height="1.1" fill="#7cc08a"/>
<rect x="162.9" y="50.1" width="1.1" height="1.1" fill="#ffffff"/>
<rect x="145.9" y="47.5" width="1.1" height="1.1" fill="#5faa70"/>
<rect x="138.7" y="48.3" width="1.1" height="1.1" fill="#7cc08a"/>
<rect x="62.6" y="50.2" width="1.1" height="1.1" fill="#7cc08a"/>
<rect x="114.2" y="48.4" width="1.1" height="1.1" fill="#ffffff"/>
<rect x="66.4" y="47.4" width="1.1" height="1.1" fill="#7cc08a"/>
<rect x="143.3" y="51.4" width="1.1" height="1.1" fill="#d0eed6"/>
<rect x="67.3" y="49.0" width="1.1" height="1.1" fill="#7cc08a"/>
<rect x="80.5" y="54.6" width="1.1" height="1.1" fill="#e6f6e8"/>
<rect x="67.8" y="51.9" width="1.1" height="1.1" fill="#7cc08a"/>
<rect x="97.5" y="54.9" width="1.1" height="1.1" fill="#d0eed6"/>
<rect x="144.7" y="49.9" width="1.1" height="1.1" fill="#7cc08a"/>
<rect x="60.3" y="54.2" width="1.1" height="1.1" fill="#d0eed6"/>
<rect x="73.4" y="49.5" width="1.1" height="1.1" fill="#e6f6e8"/>
<rect x="47.2" y="53.7" width="1.1" height="1.1" fill="#5faa70"/>
<rect x="139.3" y="50.5" width="1.1" height="1.1" fill="#d0eed6"/>
<rect x="108.2" y="47.3" width="1.1" height="1.1" fill="#ffffff"/>
<rect x="45.5" y="54.8" width="136.3" height="1.2" fill="#6f9f7a"/>
<g filter="url(#soft)">
<rect x="48.0" y="14.5" width="131.0" height="33.0" rx="6" fill="#0f8238"/>
<ellipse cx="60.1" cy="17.5" rx="7.2" ry="8.5" fill="#1a9e4a"/>
<ellipse cx="73.2" cy="19.1" rx="7.2" ry="8.5" fill="#14923f"/>
<ellipse cx="86.2" cy="20.7" rx="7.2" ry="8.5" fill="#24ac54"/>
<ellipse cx="99.3" cy="18.3" rx="7.2" ry="8.5" fill="#108a3c"/>
<ellipse cx="112.3" cy="19.9" rx="7.2" ry="8.5" fill="#1ca24c"/>
<ellipse cx="125.3" cy="17.5" rx="7.2" ry="8.5" fill="#2ab45a"/>
<ellipse cx="138.4" cy="19.1" rx="7.2" ry="8.5" fill="#1a9e4a"/>
<ellipse cx="151.4" cy="20.7" rx="7.2" ry="8.5" fill="#14923f"/>
<ellipse cx="164.5" cy="18.3" rx="7.2" ry="8.5" fill="#24ac54"/>
<ellipse cx="177.5" cy="19.9" rx="7.2" ry="8.5" fill="#108a3c"/>
<ellipse cx="54.9" cy="23.5" rx="6.5" ry="8" fill="#24ac54"/>
<ellipse cx="68.0" cy="23.5" rx="6.5" ry="8" fill="#108a3c"/>
<ellipse cx="81.0" cy="23.5" rx="6.5" ry="8" fill="#1ca24c"/>
<ellipse cx="94.1" cy="23.5" rx="6.5" ry="8" fill="#2ab45a"/>
<ellipse cx="107.1" cy="23.5" rx="6.5" ry="8" fill="#1a9e4a"/>
<ellipse cx="120.2" cy="23.5" rx="6.5" ry="8" fill="#14923f"/>
<ellipse cx="133.2" cy="23.5" rx="6.5" ry="8" fill="#24ac54"/>
<ellipse cx="146.3" cy="23.5" rx="6.5" ry="8" fill="#108a3c"/>
<ellipse cx="159.3" cy="23.5" rx="6.5" ry="8" fill="#1ca24c"/>
<ellipse cx="172.3" cy="23.5" rx="6.5" ry="8" fill="#2ab45a"/>
<path d="M53.6,21.5 C61.3,24.4 62.0,48.3 53.6,50.5 C45.2,48.3 45.9,24.4 53.6,21.5 Z" fill="url(#bb)"/>
<path d="M67.3,21.5 C75.0,24.4 75.7,48.3 67.3,50.5 C58.9,48.3 59.6,24.4 67.3,21.5 Z" fill="url(#bm)"/>
<path d="M80.9,21.5 C88.6,24.4 89.3,48.3 80.9,50.5 C72.5,48.3 73.2,24.4 80.9,21.5 Z" fill="url(#bb)"/>
<path d="M93.2,21.5 C100.9,24.4 101.6,48.3 93.2,50.5 C84.8,48.3 85.5,24.4 93.2,21.5 Z" fill="url(#bd)"/>
<path d="M105.5,21.5 C113.2,24.4 113.9,48.3 105.5,50.5 C97.1,48.3 97.8,24.4 105.5,21.5 Z" fill="url(#bl)"/>
<path d="M119.0,21.5 C126.7,24.4 127.4,48.3 119.0,50.5 C110.6,48.3 111.3,24.4 119.0,21.5 Z" fill="url(#bb)"/>
<path d="M132.7,21.5 C140.4,24.4 141.1,48.3 132.7,50.5 C124.3,48.3 125.0,24.4 132.7,21.5 Z" fill="url(#bm)"/>
<path d="M145.0,21.5 C152.7,24.4 153.4,48.3 145.0,50.5 C136.6,48.3 137.3,24.4 145.0,21.5 Z" fill="url(#bd)"/>
<path d="M158.6,21.5 C166.3,24.4 167.0,48.3 158.6,50.5 C150.2,48.3 150.9,24.4 158.6,21.5 Z" fill="url(#bl)"/>
<path d="M171.0,21.5 C178.7,24.4 179.4,48.3 171.0,50.5 C162.6,48.3 163.3,24.4 171.0,21.5 Z" fill="url(#bb)"/>
</g>
<ellipse cx="145.0" cy="37.5" rx="6.3" ry="11.5" fill="url(#bk)" opacity="0.95" filter="url(#soft)"/>
<path d="M219.0,84.8 L219.0,68.6 L228.0,65.6 Q233.5,59.1 239.0,63.4 Q244.5,59.1 250.0,63.4 Q255.5,59.1 261.0,63.4 Q266.5,59.1 272.0,63.4 Q277.5,59.1 283.0,63.4 Q288.5,59.1 294.0,63.4 Q299.5,59.1 305.0,63.4 Q310.5,59.1 316.0,63.4 Q321.5,59.1 327.0,63.4 Q332.5,59.1 338.0,63.4 Q343.5,59.1 349.0,63.4 L353.4,66.6 L355.4,72.6 L355.4,83.8 L352.4,86.8 L221.0,86.8 Z" fill="#4d4d4d" filter="url(#shblur)"/>
<rect x="220.5" y="50.5" width="136.3" height="8.1" fill="#a6dab0"/>
<rect x="320.4" y="50.5" width="1.1" height="1.1" fill="#7cc08a"/>
<rect x="343.4" y="53.6" width="1.1" height="1.1" fill="#ffffff"/>
<rect x="300.0" y="55.1" width="1.1" height="1.1" fill="#7cc08a"/>
<rect x="310.9" y="55.1" width="1.1" height="1.1" fill="#ffffff"/>
<rect x="335.8" y="55.3" width="1.1" height="1.1" fill="#e6f6e8"/>
<rect x="281.9" y="52.7" width="1.1" height="1.1" fill="#e6f6e8"/>
<rect x="341.6" y="52.2" width="1.1" height="1.1" fill="#5faa70"/>
<rect x="317.0" y="55.0" width="1.1" height="1.1" fill="#d0eed6"/>
<rect x="335.4" y="53.9" width="1.1" height="1.1" fill="#e6f6e8"/>
<rect x="304.6" y="53.4" width="1.1" height="1.1" fill="#7cc08a"/>
<rect x="341.5" y="52.8" width="1.1" height="1.1" fill="#e6f6e8"/>
<rect x="273.1" y="54.0" width="1.1" height="1.1" fill="#e6f6e8"/>
<rect x="225.7" y="54.4" width="1.1" height="1.1" fill="#7cc08a"/>
<rect x="317.4" y="57.3" width="1.1" height="1.1" fill="#7cc08a"/>
<rect x="290.8" y="51.2" width="1.1" height="1.1" fill="#ffffff"/>
<rect x="282.3" y="52.0" width="1.1" height="1.1" fill="#5faa70"/>
<rect x="289.8" y="55.0" width="1.1" height="1.1" fill="#d0eed6"/>
<rect x="291.1" y="53.4" width="1.1" height="1.1" fill="#5faa70"/>
<rect x="248.9" y="55.4" width="1.1" height="1.1" fill="#5faa70"/>
<rect x="290.0" y="57.1" width="1.1" height="1.1" fill="#ffffff"/>
<rect x="268.6" y="50.9" width="1.1" height="1.1" fill="#d0eed6"/>
<rect x="272.2" y="50.9" width="1.1" height="1.1" fill="#e6f6e8"/>
<rect x="277.1" y="53.5" width="1.1" height="1.1" fill="#d0eed6"/>
<rect x="299.0" y="51.3" width="1.1" height="1.1" fill="#d0eed6"/>
<rect x="320.8" y="57.2" width="1.1" height="1.1" fill="#ffffff"/>
<rect x="351.9" y="57.6" width="1.1" height="1.1" fill="#5faa70"/>
<rect x="283.0" y="51.7" width="1.1" height="1.1" fill="#e6f6e8"/>
<rect x="330.0" y="55.0" width="1.1" height="1.1" fill="#5faa70"/>
<rect x="307.4" y="55.6" width="1.1" height="1.1" fill="#7cc08a"/>
<rect x="268.3" y="55.0" width="1.1" height="1.1" fill="#5faa70"/>
<rect x="283.8" y="52.6" width="1.1" height="1.1" fill="#ffffff"/>
<rect x="308.4" y="56.0" width="1.1" height="1.1" fill="#5faa70"/>
<rect x="268.5" y="56.5" width="1.1" height="1.1" fill="#d0eed6"/>
<rect x="315.8" y="55.4" width="1.1" height="1.1" fill="#5faa70"/>
<rect x="312.3" y="53.9" width="1.1" height="1.1" fill="#d0eed6"/>
<rect x="268.9" y="55.1" width="1.1" height="1.1" fill="#d0eed6"/>
<rect x="285.4" y="53.5" width="1.1" height="1.1" fill="#e6f6e8"/>
<rect x="309.7" y="53.1" width="1.1" height="1.1" fill="#d0eed6"/>
<rect x="336.1" y="50.9" width="1.1" height="1.1" fill="#ffffff"/>
<rect x="343.1" y="56.1" width="1.1" height="1.1" fill="#7cc08a"/>
<rect x="292.3" y="53.0" width="1.1" height="1.1" fill="#ffffff"/>
<rect x="222.5" y="50.6" width="1.1" height="1.1" fill="#e6f6e8"/>
<rect x="309.3" y="52.3" width="1.1" height="1.1" fill="#e6f6e8"/>
<rect x="298.8" y="56.6" width="1.1" height="1.1" fill="#7cc08a"/>
<rect x="325.5" y="53.0" width="1.1" height="1.1" fill="#7cc08a"/>
<rect x="248.7" y="53.4" width="1.1" height="1.1" fill="#ffffff"/>
<rect x="243.2" y="56.8" width="1.1" height="1.1" fill="#ffffff"/>
<rect x="352.7" y="51.1" width="1.1" height="1.1" fill="#ffffff"/>
<rect x="327.1" y="56.5" width="1.1" height="1.1" fill="#7cc08a"/>
<rect x="287.4" y="52.0" width="1.1" height="1.1" fill="#e6f6e8"/>
<rect x="320.9" y="53.6" width="1.1" height="1.1" fill="#e6f6e8"/>
<rect x="295.6" y="52.4" width="1.1" height="1.1" fill="#7cc08a"/>
<rect x="332.4" y="53.9" width="1.1" height="1.1" fill="#ffffff"/>
<rect x="228.4" y="53.8" width="1.1" height="1.1" fill="#7cc08a"/>
<rect x="315.3" y="52.3" width="1.1" height="1.1" fill="#7cc08a"/>
<rect x="293.5" y="56.6" width="1.1" height="1.1" fill="#e6f6e8"/>
<rect x="242.2" y="52.8" width="1.1" height="1.1" fill="#ffffff"/>
<rect x="287.8" y="52.6" width="1.1" height="1.1" fill="#5faa70"/>
<rect x="271.2" y="53.5" width="1.1" height="1.1" fill="#e6f6e8"/>
<rect x="244.9" y="53.1" width="1.1" height="1.1" fill="#e6f6e8"/>
<rect x="223.3" y="50.8" width="1.1" height="1.1" fill="#d0eed6"/>
<rect x="329.9" y="51.2" width="1.1" height="1.1" fill="#5faa70"/>
<rect x="286.1" y="56.9" width="1.1" height="1.1" fill="#e6f6e8"/>
<rect x="249.4" y="53.5" width="1.1" height="1.1" fill="#7cc08a"/>
<rect x="266.3" y="56.6" width="1.1" height="1.1" fill="#d0eed6"/>
<rect x="266.7" y="56.0" width="1.1" height="1.1" fill="#ffffff"/>
<rect x="324.8" y="52.0" width="1.1" height="1.1" fill="#5faa70"/>
<rect x="266.8" y="52.3" width="1.1" height="1.1" fill="#e6f6e8"/>
<rect x="332.4" y="52.6" width="1.1" height="1.1" fill="#5faa70"/>
<rect x="275.1" y="54.1" width="1.1" height="1.1" fill="#d0eed6"/>
<rect x="338.6" y="52.9" width="1.1" height="1.1" fill="#7cc08a"/>
<rect x="309.1" y="56.1" width="1.1" height="1.1" fill="#d0eed6"/>
<rect x="246.5" y="55.6" width="1.1" height="1.1" fill="#7cc08a"/>
<rect x="299.8" y="55.0" width="1.1" height="1.1" fill="#e6f6e8"/>
<rect x="274.5" y="54.4" width="1.1" height="1.1" fill="#5faa70"/>
<rect x="294.3" y="50.9" width="1.1" height="1.1" fill="#d0eed6"/>
<rect x="235.2" y="50.8" width="1.1" height="1.1" fill="#5faa70"/>
<rect x="302.9" y="55.2" width="1.1" height="1.1" fill="#ffffff"/>
<rect x="343.6" y="54.8" width="1.1" height="1.1" fill="#ffffff"/>
<rect x="240.4" y="55.3" width="1.1" height="1.1" fill="#ffffff"/>
<rect x="339.1" y="51.1" width="1.1" height="1.1" fill="#e6f6e8"/>
<rect x="310.7" y="53.8" width="1.1" height="1.1" fill="#7cc08a"/>
<rect x="234.2" y="51.8" width="1.1" height="1.1" fill="#e6f6e8"/>
<rect x="277.5" y="51.2" width="1.1" height="1.1" fill="#e6f6e8"/>
<rect x="270.4" y="56.3" width="1.1" height="1.1" fill="#d0eed6"/>
<rect x="296.6" y="52.3" width="1.1" height="1.1" fill="#d0eed6"/>
<rect x="245.5" y="50.7" width="1.1" height="1.1" fill="#e6f6e8"/>
<rect x="278.8" y="55.1" width="1.1" height="1.1" fill="#e6f6e8"/>
<rect x="287.8" y="54.2" width="1.1" height="1.1" fill="#e6f6e8"/>
<rect x="325.2" y="53.5" width="1.1" height="1.1" fill="#5faa70"/>
<rect x="280.9" y="50.6" width="1.1" height="1.1" fill="#5faa70"/>
<rect x="300.8" y="57.6" width="1.1" height="1.1" fill="#7cc08a"/>
<rect x="284.8" y="53.4" width="1.1" height="1.1" fill="#e6f6e8"/>
<rect x="231.7" y="53.9" width="1.1" height="1.1" fill="#7cc08a"/>
<rect x="305.3" y="53.5" width="1.1" height="1.1" fill="#e6f6e8"/>
<rect x="313.0" y="51.4" width="1.1" height="1.1" fill="#e6f6e8"/>
<rect x="250.0" y="51.4" width="1.1" height="1.1" fill="#5faa70"/>
<rect x="222.9" y="55.6" width="1.1" height="1.1" fill="#7cc08a"/>
<rect x="281.5" y="55.8" width="1.1" height="1.1" fill="#e6f6e8"/>
<rect x="270.0" y="55.8" width="1.1" height="1.1" fill="#7cc08a"/>
<rect x="319.2" y="51.1" width="1.1" height="1.1" fill="#ffffff"/>
<rect x="316.5" y="53.8" width="1.1" height="1.1" fill="#d0eed6"/>
<rect x="344.1" y="50.9" width="1.1" height="1.1" fill="#e6f6e8"/>
<rect x="222.0" y="50.6" width="1.1" height="1.1" fill="#ffffff"/>
<rect x="231.3" y="52.7" width="1.1" height="1.1" fill="#ffffff"/>
<rect x="243.0" y="56.6" width="1.1" height="1.1" fill="#5faa70"/>
<rect x="302.9" y="52.7" width="1.1" height="1.1" fill="#ffffff"/>
<rect x="319.0" y="53.8" width="1.1" height="1.1" fill="#7cc08a"/>
<rect x="240.1" y="56.2" width="1.1" height="1.1" fill="#d0eed6"/>
<rect x="349.6" y="51.7" width="1.1" height="1.1" fill="#5faa70"/>
<rect x="285.0" y="56.0" width="1.1" height="1.1" fill="#5faa70"/>
<rect x="348.3" y="56.1" width="1.1" height="1.1" fill="#ffffff"/>
<rect x="265.7" y="52.5" width="1.1" height="1.1" fill="#ffffff"/>
<rect x="352.3" y="55.5" width="1.1" height="1.1" fill="#ffffff"/>
<rect x="265.4" y="54.8" width="1.1" height="1.1" fill="#e6f6e8"/>
<rect x="333.0" y="54.8" width="1.1" height="1.1" fill="#d0eed6"/>
<rect x="299.6" y="57.4" width="1.1" height="1.1" fill="#7cc08a"/>
<rect x="271.5" y="55.4" width="1.1" height="1.1" fill="#ffffff"/>
<rect x="324.9" y="52.2" width="1.1" height="1.1" fill="#5faa70"/>
<rect x="258.8" y="50.5" width="1.1" height="1.1" fill="#d0eed6"/>
<rect x="256.8" y="51.6" width="1.1" height="1.1" fill="#e6f6e8"/>
<rect x="259.5" y="51.5" width="1.1" height="1.1" fill="#ffffff"/>
<rect x="240.4" y="57.4" width="1.1" height="1.1" fill="#ffffff"/>
<rect x="313.1" y="57.0" width="1.1" height="1.1" fill="#d0eed6"/>
<rect x="292.8" y="54.3" width="1.1" height="1.1" fill="#5faa70"/>
<rect x="328.4" y="51.9" width="1.1" height="1.1" fill="#7cc08a"/>
<rect x="262.4" y="50.9" width="1.1" height="1.1" fill="#5faa70"/>
<rect x="283.5" y="52.0" width="1.1" height="1.1" fill="#d0eed6"/>
<rect x="299.8" y="50.6" width="1.1" height="1.1" fill="#5faa70"/>
<rect x="282.7" y="51.1" width="1.1" height="1.1" fill="#d0eed6"/>
<rect x="325.0" y="52.2" width="1.1" height="1.1" fill="#ffffff"/>
<rect x="291.0" y="52.3" width="1.1" height="1.1" fill="#ffffff"/>
<rect x="263.9" y="54.1" width="1.1" height="1.1" fill="#7cc08a"/>
<rect x="246.1" y="51.9" width="1.1" height="1.1" fill="#7cc08a"/>
<rect x="329.5" y="52.6" width="1.1" height="1.1" fill="#ffffff"/>
<rect x="296.9" y="53.4" width="1.1" height="1.1" fill="#ffffff"/>
<rect x="336.4" y="52.2" width="1.1" height="1.1" fill="#5faa70"/>
<rect x="271.1" y="51.3" width="1.1" height="1.1" fill="#5faa70"/>
<rect x="327.0" y="51.6" width="1.1" height="1.1" fill="#ffffff"/>
<rect x="224.6" y="52.5" width="1.1" height="1.1" fill="#ffffff"/>
<rect x="223.3" y="50.7" width="1.1" height="1.1" fill="#ffffff"/>
<rect x="286.3" y="54.5" width="1.1" height="1.1" fill="#d0eed6"/>
<rect x="345.7" y="52.5" width="1.1" height="1.1" fill="#e6f6e8"/>
<rect x="348.6" y="55.9" width="1.1" height="1.1" fill="#ffffff"/>
<rect x="350.9" y="52.3" width="1.1" height="1.1" fill="#e6f6e8"/>
<rect x="266.3" y="57.6" width="1.1" height="1.1" fill="#5faa70"/>
<rect x="231.8" y="50.9" width="1.1" height="1.1" fill="#ffffff"/>
<rect x="270.5" y="55.5" width="1.1" height="1.1" fill="#5faa70"/>
<rect x="348.7" y="57.0" width="1.1" height="1.1" fill="#e6f6e8"/>
<rect x="337.3" y="55.0" width="1.1" height="1.1" fill="#e6f6e8"/>
<rect x="316.1" y="51.1" width="1.1" height="1.1" fill="#d0eed6"/>
<rect x="296.9" y="55.0" width="1.1" height="1.1" fill="#ffffff"/>
<rect x="273.7" y="53.7" width="1.1" height="1.1" fill="#7cc08a"/>
<rect x="270.7" y="52.2" width="1.1" height="1.1" fill="#7cc08a"/>
<rect x="243.8" y="57.2" width="1.1" height="1.1" fill="#d0eed6"/>
<rect x="228.5" y="54.4" width="1.1" height="1.1" fill="#e6f6e8"/>
<rect x="333.8" y="50.8" width="1.1" height="1.1" fill="#ffffff"/>
<rect x="316.5" y="55.1" width="1.1" height="1.1" fill="#5faa70"/>
<rect x="228.0" y="51.5" width="1.1" height="1.1" fill="#e6f6e8"/>
<rect x="347.6" y="55.3" width="1.1" height="1.1" fill="#d0eed6"/>
<rect x="300.3" y="53.6" width="1.1" height="1.1" fill="#e6f6e8"/>
<rect x="284.2" y="53.1" width="1.1" height="1.1" fill="#5faa70"/>
<rect x="237.3" y="53.9" width="1.1" height="1.1" fill="#7cc08a"/>
<rect x="280.2" y="56.2" width="1.1" height="1.1" fill="#e6f6e8"/>
<rect x="283.8" y="57.0" width="1.1" height="1.1" fill="#e6f6e8"/>
<rect x="241.7" y="56.4" width="1.1" height="1.1" fill="#e6f6e8"/>
<rect x="346.9" y="56.7" width="1.1" height="1.1" fill="#7cc08a"/>
<rect x="325.8" y="57.3" width="1.1" height="1.1" fill="#5faa70"/>
<rect x="334.5" y="55.0" width="1.1" height="1.1" fill="#5faa70"/>
<rect x="352.1" y="52.8" width="1.1" height="1.1" fill="#7cc08a"/>
<rect x="285.1" y="55.0" width="1.1" height="1.1" fill="#7cc08a"/>
<rect x="265.4" y="55.7" width="1.1" height="1.1" fill="#7cc08a"/>
<rect x="317.1" y="54.4" width="1.1" height="1.1" fill="#7cc08a"/>
<rect x="279.9" y="51.6" width="1.1" height="1.1" fill="#5faa70"/>
<rect x="276.2" y="51.6" width="1.1" height="1.1" fill="#d0eed6"/>
<rect x="297.8" y="52.6" width="1.1" height="1.1" fill="#7cc08a"/>
<rect x="255.8" y="51.3" width="1.1" height="1.1" fill="#5faa70"/>
<rect x="342.7" y="51.3" width="1.1" height="1.1" fill="#ffffff"/>
<rect x="228.2" y="56.9" width="1.1" height="1.1" fill="#7cc08a"/>
<rect x="296.3" y="56.4" width="1.1" height="1.1" fill="#e6f6e8"/>
<rect x="255.4" y="51.9" width="1.1" height="1.1" fill="#d0eed6"/>
<rect x="279.0" y="52.4" width="1.1" height="1.1" fill="#7cc08a"/>
<rect x="345.7" y="51.2" width="1.1" height="1.1" fill="#d0eed6"/>
<rect x="276.7" y="51.7" width="1.1" height="1.1" fill="#d0eed6"/>
<rect x="240.0" y="55.0" width="1.1" height="1.1" fill="#5faa70"/>
<rect x="329.7" y="52.9" width="1.1" height="1.1" fill="#7cc08a"/>
<rect x="280.4" y="56.1" width="1.1" height="1.1" fill="#ffffff"/>
<rect x="259.2" y="53.1" width="1.1" height="1.1" fill="#e6f6e8"/>
<rect x="343.9" y="52.0" width="1.1" height="1.1" fill="#ffffff"/>
<rect x="244.9" y="56.5" width="1.1" height="1.1" fill="#ffffff"/>
<rect x="324.7" y="55.6" width="1.1" height="1.1" fill="#7cc08a"/>
<rect x="301.8" y="56.4" width="1.1" height="1.1" fill="#ffffff"/>
<rect x="319.4" y="55.9" width="1.1" height="1.1" fill="#7cc08a"/>
<rect x="248.4" y="54.8" width="1.1" height="1.1" fill="#7cc08a"/>
<rect x="299.4" y="51.9" width="1.1" height="1.1" fill="#e6f6e8"/>
<rect x="314.2" y="54.2" width="1.1" height="1.1" fill="#e6f6e8"/>
<rect x="290.6" y="53.0" width="1.1" height="1.1" fill="#d0eed6"/>
<rect x="334.4" y="56.6" width="1.1" height="1.1" fill="#5faa70"/>
<rect x="232.7" y="53.4" width="1.1" height="1.1" fill="#5faa70"/>
<rect x="238.5" y="55.2" width="1.1" height="1.1" fill="#7cc08a"/>
<rect x="245.7" y="56.4" width="1.1" height="1.1" fill="#d0eed6"/>
<rect x="225.5" y="55.5" width="1.1" height="1.1" fill="#ffffff"/>
<rect x="301.0" y="50.5" width="1.1" height="1.1" fill="#ffffff"/>
<rect x="346.6" y="57.4" width="1.1" height="1.1" fill="#e6f6e8"/>
<rect x="236.8" y="55.6" width="1.1" height="1.1" fill="#d0eed6"/>
<rect x="325.9" y="56.7" width="1.1" height="1.1" fill="#ffffff"/>
<rect x="322.2" y="50.9" width="1.1" height="1.1" fill="#e6f6e8"/>
<rect x="349.6" y="54.0" width="1.1" height="1.1" fill="#ffffff"/>
<rect x="224.0" y="56.2" width="1.1" height="1.1" fill="#7cc08a"/>
<rect x="223.3" y="57.4" width="1.1" height="1.1" fill="#7cc08a"/>
<rect x="304.3" y="51.7" width="1.1" height="1.1" fill="#d0eed6"/>
<rect x="254.4" y="56.3" width="1.1" height="1.1" fill="#e6f6e8"/>
<rect x="223.1" y="57.1" width="1.1" height="1.1" fill="#7cc08a"/>
<rect x="255.9" y="56.4" width="1.1" height="1.1" fill="#ffffff"/>
<rect x="283.3" y="52.2" width="1.1" height="1.1" fill="#5faa70"/>
<rect x="234.4" y="56.7" width="1.1" height="1.1" fill="#7cc08a"/>
<rect x="226.6" y="51.4" width="1.1" height="1.1" fill="#5faa70"/>
<rect x="299.8" y="55.9" width="1.1" height="1.1" fill="#e6f6e8"/>
<rect x="237.0" y="53.4" width="1.1" height="1.1" fill="#7cc08a"/>
<rect x="293.8" y="52.1" width="1.1" height="1.1" fill="#7cc08a"/>
<rect x="240.4" y="54.6" width="1.1" height="1.1" fill="#5faa70"/>
<rect x="242.7" y="56.4" width="1.1" height="1.1" fill="#5faa70"/>
<rect x="314.4" y="54.7" width="1.1" height="1.1" fill="#ffffff"/>
<rect x="291.6" y="53.3" width="1.1" height="1.1" fill="#e6f6e8"/>
<rect x="325.6" y="52.9" width="1.1" height="1.1" fill="#7cc08a"/>
<rect x="334.0" y="55.6" width="1.1" height="1.1" fill="#ffffff"/>
<rect x="329.3" y="57.0" width="1.1" height="1.1" fill="#5faa70"/>
<rect x="335.2" y="50.9" width="1.1" height="1.1" fill="#ffffff"/>
<rect x="240.3" y="55.3" width="1.1" height="1.1" fill="#d0eed6"/>
<rect x="254.2" y="53.5" width="1.1" height="1.1" fill="#e6f6e8"/>
<rect x="269.8" y="54.3" width="1.1" height="1.1" fill="#e6f6e8"/>
<rect x="264.4" y="51.9" width="1.1" height="1.1" fill="#e6f6e8"/>
<rect x="251.0" y="53.5" width="1.1" height="1.1" fill="#5faa70"/>
<rect x="325.6" y="57.2" width="1.1" height="1.1" fill="#e6f6e8"/>
<rect x="330.0" y="56.8" width="1.1" height="1.1" fill="#e6f6e8"/>
<rect x="225.2" y="55.1" width="1.1" height="1.1" fill="#d0eed6"/>
<rect x="344.7" y="54.9" width="1.1" height="1.1" fill="#ffffff"/>
<rect x="329.6" y="50.8" width="1.1" height="1.1" fill="#e6f6e8"/>
<rect x="254.4" y="54.2" width="1.1" height="1.1" fill="#5faa70"/>
<rect x="252.5" y="50.8" width="1.1" height="1.1" fill="#e6f6e8"/>
<rect x="261.8" y="55.1" width="1.1" height="1.1" fill="#e6f6e8"/>
<rect x="228.7" y="57.3" width="1.1" height="1.1" fill="#ffffff"/>
<rect x="342.5" y="51.1" width="1.1" height="1.1" fill="#ffffff"/>
<rect x="292.7" y="51.6" width="1.1" height="1.1" fill="#e6f6e8"/>
<rect x="289.7" y="56.8" width="1.1" height="1.1" fill="#5faa70"/>
<rect x="298.6" y="52.4" width="1.1" height="1.1" fill="#e6f6e8"/>
<rect x="320.7" y="52.5" width="1.1" height="1.1" fill="#5faa70"/>
<rect x="303.0" y="54.5" width="1.1" height="1.1" fill="#5faa70"/>
<rect x="247.7" y="55.5" width="1.1" height="1.1" fill="#5faa70"/>
<rect x="341.2" y="52.7" width="1.1" height="1.1" fill="#5faa70"/>
<rect x="284.0" y="52.7" width="1.1" height="1.1" fill="#7cc08a"/>
<rect x="265.6" y="51.8" width="1.1" height="1.1" fill="#ffffff"/>
<rect x="272.3" y="54.7" width="1.1" height="1.1" fill="#e6f6e8"/>
<rect x="345.5" y="51.7" width="1.1" height="1.1" fill="#7cc08a"/>
<rect x="264.3" y="52.8" width="1.1" height="1.1" fill="#d0eed6"/>
<rect x="259.0" y="57.5" width="1.1" height="1.1" fill="#d0eed6"/>
<rect x="228.2" y="50.7" width="1.1" height="1.1" fill="#ffffff"/>
<rect x="229.5" y="56.7" width="1.1" height="1.1" fill="#5faa70"/>
<rect x="309.5" y="54.2" width="1.1" height="1.1" fill="#5faa70"/>
<rect x="268.4" y="55.9" width="1.1" height="1.1" fill="#ffffff"/>
<rect x="251.0" y="57.3" width="1.1" height="1.1" fill="#7cc08a"/>
<rect x="276.9" y="55.2" width="1.1" height="1.1" fill="#7cc08a"/>
<rect x="311.9" y="54.9" width="1.1" height="1.1" fill="#d0eed6"/>
<rect x="331.6" y="54.2" width="1.1" height="1.1" fill="#5faa70"/>
<rect x="256.9" y="55.0" width="1.1" height="1.1" fill="#7cc08a"/>
<rect x="276.4" y="51.2" width="1.1" height="1.1" fill="#5faa70"/>
<rect x="324.1" y="54.7" width="1.1" height="1.1" fill="#5faa70"/>
<rect x="274.3" y="57.5" width="1.1" height="1.1" fill="#7cc08a"/>
<rect x="277.0" y="56.1" width="1.1" height="1.1" fill="#ffffff"/>
<rect x="302.7" y="53.2" width="1.1" height="1.1" fill="#5faa70"/>
<rect x="314.2" y="52.5" width="1.1" height="1.1" fill="#d0eed6"/>
<rect x="260.1" y="53.3" width="1.1" height="1.1" fill="#ffffff"/>
<rect x="301.1" y="55.1" width="1.1" height="1.1" fill="#e6f6e8"/>
<rect x="327.0" y="56.5" width="1.1" height="1.1" fill="#5faa70"/>
<rect x="272.0" y="52.6" width="1.1" height="1.1" fill="#ffffff"/>
<rect x="261.6" y="51.5" width="1.1" height="1.1" fill="#ffffff"/>
<rect x="271.5" y="52.1" width="1.1" height="1.1" fill="#d0eed6"/>
<rect x="264.3" y="56.5" width="1.1" height="1.1" fill="#7cc08a"/>
<rect x="350.2" y="52.0" width="1.1" height="1.1" fill="#5faa70"/>
<rect x="341.1" y="57.3" width="1.1" height="1.1" fill="#e6f6e8"/>
<rect x="226.9" y="54.5" width="1.1" height="1.1" fill="#5faa70"/>
<rect x="261.1" y="54.3" width="1.1" height="1.1" fill="#d0eed6"/>
<rect x="293.4" y="57.6" width="1.1" height="1.1" fill="#ffffff"/>
<rect x="332.2" y="55.7" width="1.1" height="1.1" fill="#5faa70"/>
<rect x="273.2" y="53.0" width="1.1" height="1.1" fill="#ffffff"/>
<rect x="312.0" y="53.7" width="1.1" height="1.1" fill="#e6f6e8"/>
<rect x="312.0" y="54.2" width="1.1" height="1.1" fill="#e6f6e8"/>
<rect x="275.9" y="54.1" width="1.1" height="1.1" fill="#ffffff"/>
<rect x="346.1" y="51.6" width="1.1" height="1.1" fill="#7cc08a"/>
<rect x="351.0" y="54.0" width="1.1" height="1.1" fill="#5faa70"/>
<rect x="324.3" y="56.9" width="1.1" height="1.1" fill="#ffffff"/>
<rect x="266.9" y="54.3" width="1.1" height="1.1" fill="#e6f6e8"/>
<rect x="243.6" y="52.8" width="1.1" height="1.1" fill="#e6f6e8"/>
<rect x="332.3" y="54.1" width="1.1" height="1.1" fill="#e6f6e8"/>
<rect x="309.2" y="52.6" width="1.1" height="1.1" fill="#d0eed6"/>
<rect x="331.5" y="57.5" width="1.1" height="1.1" fill="#5faa70"/>
<rect x="305.9" y="54.2" width="1.1" height="1.1" fill="#ffffff"/>
<rect x="248.6" y="56.8" width="1.1" height="1.1" fill="#5faa70"/>
<rect x="245.2" y="55.0" width="1.1" height="1.1" fill="#ffffff"/>
<rect x="234.9" y="54.5" width="1.1" height="1.1" fill="#e6f6e8"/>
<rect x="314.1" y="50.6" width="1.1" height="1.1" fill="#e6f6e8"/>
<rect x="262.0" y="55.4" width="1.1" height="1.1" fill="#e6f6e8"/>
<rect x="344.6" y="53.3" width="1.1" height="1.1" fill="#e6f6e8"/>
<rect x="299.8" y="55.2" width="1.1" height="1.1" fill="#7cc08a"/>
<rect x="244.2" y="56.0" width="1.1" height="1.1" fill="#ffffff"/>
<rect x="256.5" y="55.1" width="1.1" height="1.1" fill="#ffffff"/>
<rect x="290.1" y="51.5" width="1.1" height="1.1" fill="#7cc08a"/>
<rect x="276.1" y="51.4" width="1.1" height="1.1" fill="#7cc08a"/>
<rect x="290.6" y="54.1" width="1.1" height="1.1" fill="#e6f6e8"/>
<rect x="234.0" y="51.7" width="1.1" height="1.1" fill="#ffffff"/>
<rect x="286.9" y="53.8" width="1.1" height="1.1" fill="#5faa70"/>
<rect x="329.6" y="50.9" width="1.1" height="1.1" fill="#e6f6e8"/>
<rect x="313.1" y="54.6" width="1.1" height="1.1" fill="#7cc08a"/>
<rect x="317.3" y="53.0" width="1.1" height="1.1" fill="#7cc08a"/>
<rect x="225.0" y="55.0" width="1.1" height="1.1" fill="#ffffff"/>
<rect x="229.0" y="51.9" width="1.1" height="1.1" fill="#ffffff"/>
<rect x="272.7" y="50.9" width="1.1" height="1.1" fill="#5faa70"/>
<rect x="299.3" y="57.3" width="1.1" height="1.1" fill="#5faa70"/>
<rect x="227.9" y="52.2" width="1.1" height="1.1" fill="#7cc08a"/>
<rect x="226.5" y="57.1" width="1.1" height="1.1" fill="#7cc08a"/>
<rect x="263.1" y="56.9" width="1.1" height="1.1" fill="#5faa70"/>
<rect x="261.6" y="54.8" width="1.1" height="1.1" fill="#5faa70"/>
<rect x="353.0" y="51.0" width="1.1" height="1.1" fill="#5faa70"/>
<rect x="311.8" y="54.7" width="1.1" height="1.1" fill="#5faa70"/>
<rect x="262.3" y="56.7" width="1.1" height="1.1" fill="#5faa70"/>
<rect x="223.5" y="56.7" width="1.1" height="1.1" fill="#e6f6e8"/>
<rect x="244.0" y="53.0" width="1.1" height="1.1" fill="#7cc08a"/>
<rect x="221.5" y="56.8" width="1.1" height="1.1" fill="#5faa70"/>
<rect x="296.5" y="51.3" width="1.1" height="1.1" fill="#ffffff"/>
<rect x="338.4" y="52.9" width="1.1" height="1.1" fill="#e6f6e8"/>
<rect x="350.6" y="53.5" width="1.1" height="1.1" fill="#d0eed6"/>
<rect x="295.4" y="53.3" width="1.1" height="1.1" fill="#5faa70"/>
<rect x="258.9" y="52.2" width="1.1" height="1.1" fill="#e6f6e8"/>
<rect x="258.3" y="50.7" width="1.1" height="1.1" fill="#7cc08a"/>
<rect x="253.2" y="51.4" width="1.1" height="1.1" fill="#7cc08a"/>
<rect x="257.0" y="56.4" width="1.1" height="1.1" fill="#7cc08a"/>
<rect x="295.6" y="53.8" width="1.1" height="1.1" fill="#7cc08a"/>
<rect x="242.0" y="53.0" width="1.1" height="1.1" fill="#5faa70"/>
<rect x="271.5" y="57.3" width="1.1" height="1.1" fill="#7cc08a"/>
<rect x="260.7" y="53.9" width="1.1" height="1.1" fill="#7cc08a"/>
<rect x="251.3" y="53.7" width="1.1" height="1.1" fill="#7cc08a"/>
<rect x="348.0" y="57.6" width="1.1" height="1.1" fill="#ffffff"/>
<rect x="342.2" y="54.7" width="1.1" height="1.1" fill="#d0eed6"/>
<rect x="292.8" y="53.4" width="1.1" height="1.1" fill="#ffffff"/>
<rect x="249.3" y="56.7" width="1.1" height="1.1" fill="#e6f6e8"/>
<rect x="312.2" y="51.1" width="1.1" height="1.1" fill="#d0eed6"/>
<rect x="320.1" y="55.9" width="1.1" height="1.1" fill="#e6f6e8"/>
<rect x="309.5" y="54.5" width="1.1" height="1.1" fill="#d0eed6"/>
<rect x="222.5" y="55.5" width="1.1" height="1.1" fill="#7cc08a"/>
<rect x="325.5" y="52.1" width="1.1" height="1.1" fill="#7cc08a"/>
<rect x="310.2" y="51.3" width="1.1" height="1.1" fill="#ffffff"/>
<rect x="344.1" y="56.2" width="1.1" height="1.1" fill="#d0eed6"/>
<rect x="246.6" y="55.6" width="1.1" height="1.1" fill="#e6f6e8"/>
<rect x="251.1" y="51.4" width="1.1" height="1.1" fill="#5faa70"/>
<rect x="258.7" y="53.4" width="1.1" height="1.1" fill="#5faa70"/>
<rect x="325.4" y="56.8" width="1.1" height="1.1" fill="#7cc08a"/>
<rect x="347.2" y="51.8" width="1.1" height="1.1" fill="#d0eed6"/>
<rect x="312.5" y="55.2" width="1.1" height="1.1" fill="#d0eed6"/>
<rect x="341.9" y="50.7" width="1.1" height="1.1" fill="#5faa70"/>
<rect x="254.1" y="56.5" width="1.1" height="1.1" fill="#d0eed6"/>
<rect x="343.1" y="51.2" width="1.1" height="1.1" fill="#d0eed6"/>
<rect x="236.1" y="57.0" width="1.1" height="1.1" fill="#7cc08a"/>
<rect x="316.9" y="50.8" width="1.1" height="1.1" fill="#e6f6e8"/>
<rect x="302.8" y="53.6" width="1.1" height="1.1" fill="#d0eed6"/>
<rect x="241.6" y="55.7" width="1.1" height="1.1" fill="#ffffff"/>
<rect x="262.6" y="55.0" width="1.1" height="1.1" fill="#7cc08a"/>
<rect x="296.9" y="52.1" width="1.1" height="1.1" fill="#5faa70"/>
<rect x="317.5" y="52.3" width="1.1" height="1.1" fill="#5faa70"/>
<rect x="311.2" y="54.6" width="1.1" height="1.1" fill="#e6f6e8"/>
<rect x="235.6" y="55.9" width="1.1" height="1.1" fill="#d0eed6"/>
<rect x="342.4" y="56.7" width="1.1" height="1.1" fill="#ffffff"/>
<rect x="302.7" y="50.8" width="1.1" height="1.1" fill="#7cc08a"/>
<rect x="312.6" y="50.8" width="1.1" height="1.1" fill="#d0eed6"/>
<rect x="248.9" y="57.0" width="1.1" height="1.1" fill="#e6f6e8"/>
<rect x="277.0" y="55.8" width="1.1" height="1.1" fill="#ffffff"/>
<rect x="332.6" y="52.5" width="1.1" height="1.1" fill="#e6f6e8"/>
<rect x="267.7" y="57.2" width="1.1" height="1.1" fill="#5faa70"/>
<rect x="346.4" y="55.4" width="1.1" height="1.1" fill="#5faa70"/>
<rect x="289.3" y="55.3" width="1.1" height="1.1" fill="#7cc08a"/>
<rect x="278.5" y="54.1" width="1.1" height="1.1" fill="#7cc08a"/>
<rect x="286.7" y="51.8" width="1.1" height="1.1" fill="#ffffff"/>
<rect x="255.8" y="54.4" width="1.1" height="1.1" fill="#7cc08a"/>
<rect x="294.1" y="52.3" width="1.1" height="1.1" fill="#e6f6e8"/>
<rect x="243.2" y="53.0" width="1.1" height="1.1" fill="#e6f6e8"/>
<rect x="247.8" y="52.7" width="1.1" height="1.1" fill="#7cc08a"/>
<rect x="313.3" y="54.0" width="1.1" height="1.1" fill="#5faa70"/>
<rect x="220.5" y="57.4" width="136.3" height="1.2" fill="#6f9f7a"/>
<g filter="url(#soft)">
<rect x="223.0" y="14.5" width="131.5" height="36.0" rx="6" fill="#0f8238"/>
<ellipse cx="235.3" cy="17.5" rx="7.3" ry="8.5" fill="#1a9e4a"/>
<ellipse cx="248.6" cy="19.1" rx="7.3" ry="8.5" fill="#14923f"/>
<ellipse cx="261.9" cy="20.7" rx="7.3" ry="8.5" fill="#24ac54"/>
<ellipse cx="275.3" cy="18.3" rx="7.3" ry="8.5" fill="#108a3c"/>
<ellipse cx="288.6" cy="19.9" rx="7.3" ry="8.5" fill="#1ca24c"/>
<ellipse cx="301.9" cy="17.5" rx="7.3" ry="8.5" fill="#2ab45a"/>
<ellipse cx="315.3" cy="19.1" rx="7.3" ry="8.5" fill="#1a9e4a"/>
<ellipse cx="328.6" cy="20.7" rx="7.3" ry="8.5" fill="#14923f"/>
<ellipse cx="341.9" cy="18.3" rx="7.3" ry="8.5" fill="#24ac54"/>
<ellipse cx="229.9" cy="23.5" rx="6.7" ry="8" fill="#24ac54"/>
<ellipse cx="243.3" cy="23.5" rx="6.7" ry="8" fill="#108a3c"/>
<ellipse cx="256.6" cy="23.5" rx="6.7" ry="8" fill="#1ca24c"/>
<ellipse cx="269.9" cy="23.5" rx="6.7" ry="8" fill="#2ab45a"/>
<ellipse cx="283.3" cy="23.5" rx="6.7" ry="8" fill="#1a9e4a"/>
<ellipse cx="296.6" cy="23.5" rx="6.7" ry="8" fill="#14923f"/>
<ellipse cx="309.9" cy="23.5" rx="6.7" ry="8" fill="#24ac54"/>
<ellipse cx="323.3" cy="23.5" rx="6.7" ry="8" fill="#108a3c"/>
<ellipse cx="336.6" cy="23.5" rx="6.7" ry="8" fill="#1ca24c"/>
<ellipse cx="349.9" cy="23.5" rx="6.7" ry="8" fill="#2ab45a"/>
<path d="M228.6,23.0 C236.4,26.0 237.2,51.2 228.6,53.5 C220.0,51.2 220.8,26.0 228.6,23.0 Z" fill="url(#bb)"/>
<path d="M242.3,23.0 C250.1,26.0 250.9,51.2 242.3,53.5 C233.7,51.2 234.5,26.0 242.3,23.0 Z" fill="url(#bm)"/>
<path d="M256.0,23.0 C263.8,26.0 264.6,51.2 256.0,53.5 C247.4,51.2 248.2,26.0 256.0,23.0 Z" fill="url(#bb)"/>
<path d="M269.5,23.0 C277.3,26.0 278.1,51.2 269.5,53.5 C260.9,51.2 261.7,26.0 269.5,23.0 Z" fill="url(#bd)"/>
<path d="M281.8,23.0 C289.6,26.0 290.4,51.2 281.8,53.5 C273.2,51.2 274.0,26.0 281.8,23.0 Z" fill="url(#bl)"/>
<path d="M295.4,23.0 C303.2,26.0 304.0,51.2 295.4,53.5 C286.8,51.2 287.6,26.0 295.4,23.0 Z" fill="url(#bb)"/>
<path d="M307.7,23.0 C315.5,26.0 316.3,51.2 307.7,53.5 C299.1,51.2 299.9,26.0 307.7,23.0 Z" fill="url(#bm)"/>
<path d="M321.4,23.0 C329.2,26.0 330.0,51.2 321.4,53.5 C312.8,51.2 313.6,26.0 321.4,23.0 Z" fill="url(#bd)"/>
<path d="M335.0,23.0 C342.8,26.0 343.6,51.2 335.0,53.5 C326.4,51.2 327.2,26.0 335.0,23.0 Z" fill="url(#bl)"/>
<path d="M348.6,23.0 C356.4,26.0 357.2,51.2 348.6,53.5 C340.0,51.2 340.8,26.0 348.6,23.0 Z" fill="url(#bb)"/>
</g>
<rect x="254.8" y="22.7" width="1" height="1" fill="#0d7a34" opacity="0.85"/>
<rect x="313.6" y="18.6" width="1" height="1" fill="#2fc062" opacity="0.85"/>
<rect x="314.4" y="18.6" width="1" height="1" fill="#1a9e48" opacity="0.85"/>
<rect x="300.1" y="22.6" width="1" height="1" fill="#0b6e2e" opacity="0.85"/>
<rect x="295.0" y="42.4" width="1" height="1" fill="#1a9e48" opacity="0.85"/>
<rect x="311.7" y="19.4" width="1" height="1" fill="#0a6a2c" opacity="0.85"/>
<rect x="332.7" y="28.9" width="1" height="1" fill="#1a9e48" opacity="0.85"/>
<rect x="238.8" y="24.5" width="1" height="1" fill="#2fc062" opacity="0.85"/>
<rect x="287.0" y="15.1" width="1" height="1" fill="#2fc062" opacity="0.85"/>
<rect x="263.4" y="17.7" width="1" height="1" fill="#2fc062" opacity="0.85"/>
<rect x="282.0" y="17.8" width="1" height="1" fill="#2fc062" opacity="0.85"/>
<rect x="281.6" y="35.1" width="1" height="1" fill="#2fc062" opacity="0.85"/>
<rect x="245.8" y="16.2" width="1" height="1" fill="#0b6e2e" opacity="0.85"/>
<rect x="284.7" y="50.7" width="1" height="1" fill="#0a6a2c" opacity="0.85"/>
<rect x="234.9" y="40.8" width="1" height="1" fill="#0d7a34" opacity="0.85"/>
<rect x="258.2" y="38.0" width="1" height="1" fill="#0a6a2c" opacity="0.85"/>
<rect x="287.2" y="43.3" width="1" height="1" fill="#2fc062" opacity="0.85"/>
<rect x="225.1" y="48.4" width="1" height="1" fill="#2fc062" opacity="0.85"/>
<rect x="305.3" y="49.0" width="1" height="1" fill="#2fc062" opacity="0.85"/>
<rect x="308.6" y="16.5" width="1" height="1" fill="#0b6e2e" opacity="0.85"/>
<rect x="227.3" y="28.5" width="1" height="1" fill="#1a9e48" opacity="0.85"/>
<rect x="262.4" y="20.6" width="1" height="1" fill="#0d7a34" opacity="0.85"/>
<rect x="333.5" y="48.7" width="1" height="1" fill="#1a9e48" opacity="0.85"/>
<rect x="237.2" y="40.8" width="1" height="1" fill="#2fc062" opacity="0.85"/>
<rect x="320.1" y="25.9" width="1" height="1" fill="#1a9e48" opacity="0.85"/>
<rect x="307.8" y="27.0" width="1" height="1" fill="#1a9e48" opacity="0.85"/>
<rect x="271.7" y="34.4" width="1" height="1" fill="#2fc062" opacity="0.85"/>
<rect x="332.5" y="23.1" width="1" height="1" fill="#0b6e2e" opacity="0.85"/>
<rect x="229.3" y="35.0" width="1" height="1" fill="#0a6a2c" opacity="0.85"/>
<rect x="341.2" y="49.4" width="1" height="1" fill="#0a6a2c" opacity="0.85"/>
<rect x="278.8" y="41.3" width="1" height="1" fill="#2fc062" opacity="0.85"/>
<rect x="302.0" y="37.3" width="1" height="1" fill="#1a9e48" opacity="0.85"/>
<rect x="313.1" y="19.7" width="1" height="1" fill="#0a6a2c" opacity="0.85"/>
<rect x="306.5" y="28.8" width="1" height="1" fill="#0b6e2e" opacity="0.85"/>
<rect x="334.2" y="31.7" width="1" height="1" fill="#1a9e48" opacity="0.85"/>
<rect x="317.6" y="13.6" width="1" height="1" fill="#0d7a34" opacity="0.85"/>
<rect x="334.8" y="43.4" width="1" height="1" fill="#0a6a2c" opacity="0.85"/>
<rect x="242.5" y="16.2" width="1" height="1" fill="#0b6e2e" opacity="0.85"/>
<rect x="290.6" y="29.5" width="1" height="1" fill="#2fc062" opacity="0.85"/>
<rect x="232.1" y="13.8" width="1" height="1" fill="#1a9e48" opacity="0.85"/>
<rect x="341.1" y="19.7" width="1" height="1" fill="#2fc062" opacity="0.85"/>
<rect x="224.5" y="44.1" width="1" height="1" fill="#2fc062" opacity="0.85"/>
<rect x="297.5" y="31.3" width="1" height="1" fill="#0d7a34" opacity="0.85"/>
<rect x="265.9" y="31.0" width="1" height="1" fill="#0d7a34" opacity="0.85"/>
<rect x="341.7" y="46.4" width="1" height="1" fill="#0a6a2c" opacity="0.85"/>
<rect x="348.6" y="37.1" width="1" height="1" fill="#0b6e2e" opacity="0.85"/>
<rect x="317.6" y="26.1" width="1" height="1" fill="#2fc062" opacity="0.85"/>
<rect x="297.2" y="29.5" width="1" height="1" fill="#2fc062" opacity="0.85"/>
<rect x="286.3" y="38.1" width="1" height="1" fill="#2fc062" opacity="0.85"/>
<rect x="336.1" y="33.7" width="1" height="1" fill="#0b6e2e" opacity="0.85"/>
<rect x="333.8" y="22.0" width="1" height="1" fill="#0a6a2c" opacity="0.85"/>
<rect x="313.5" y="19.1" width="1" height="1" fill="#0d7a34" opacity="0.85"/>
<rect x="272.2" y="35.6" width="1" height="1" fill="#0a6a2c" opacity="0.85"/>
<rect x="270.6" y="22.6" width="1" height="1" fill="#0a6a2c" opacity="0.85"/>
<rect x="275.3" y="17.8" width="1" height="1" fill="#1a9e48" opacity="0.85"/>
<rect x="349.4" y="21.2" width="1" height="1" fill="#0b6e2e" opacity="0.85"/>
<rect x="252.7" y="45.3" width="1" height="1" fill="#0b6e2e" opacity="0.85"/>
<rect x="248.3" y="39.0" width="1" height="1" fill="#0a6a2c" opacity="0.85"/>
<rect x="253.4" y="30.9" width="1" height="1" fill="#0d7a34" opacity="0.85"/>
<rect x="298.2" y="17.8" width="1" height="1" fill="#0d7a34" opacity="0.85"/>
<rect x="341.7" y="35.0" width="1" height="1" fill="#0a6a2c" opacity="0.85"/>
<rect x="312.0" y="43.9" width="1" height="1" fill="#1a9e48" opacity="0.85"/>
<rect x="335.8" y="34.4" width="1" height="1" fill="#0b6e2e" opacity="0.85"/>
<rect x="305.1" y="50.0" width="1" height="1" fill="#0d7a34" opacity="0.85"/>
<rect x="237.2" y="45.0" width="1" height="1" fill="#0a6a2c" opacity="0.85"/>
<rect x="294.5" y="50.3" width="1" height="1" fill="#1a9e48" opacity="0.85"/>
<rect x="296.9" y="42.9" width="1" height="1" fill="#1a9e48" opacity="0.85"/>
<rect x="272.4" y="37.0" width="1" height="1" fill="#0a6a2c" opacity="0.85"/>
<rect x="254.7" y="27.6" width="1" height="1" fill="#0b6e2e" opacity="0.85"/>
<rect x="314.9" y="49.8" width="1" height="1" fill="#0a6a2c" opacity="0.85"/>
<rect x="262.8" y="40.4" width="1" height="1" fill="#0a6a2c" opacity="0.85"/>
<rect x="341.7" y="16.8" width="1" height="1" fill="#1a9e48" opacity="0.85"/>
<rect x="296.9" y="48.4" width="1" height="1" fill="#2fc062" opacity="0.85"/>
<rect x="245.8" y="41.8" width="1" height="1" fill="#2fc062" opacity="0.85"/>
<rect x="328.1" y="41.5" width="1" height="1" fill="#0b6e2e" opacity="0.85"/>
<rect x="330.9" y="18.2" width="1" height="1" fill="#2fc062" opacity="0.85"/>
<rect x="290.5" y="33.4" width="1" height="1" fill="#2fc062" opacity="0.85"/>
<rect x="317.5" y="15.2" width="1" height="1" fill="#0d7a34" opacity="0.85"/>
<rect x="269.8" y="27.0" width="1" height="1" fill="#2fc062" opacity="0.85"/>
<rect x="328.0" y="17.8" width="1" height="1" fill="#1a9e48" opacity="0.85"/>
<rect x="257.0" y="20.8" width="1" height="1" fill="#0a6a2c" opacity="0.85"/>
<rect x="226.8" y="51.1" width="1" height="1" fill="#0a6a2c" opacity="0.85"/>
<rect x="238.7" y="14.3" width="1" height="1" fill="#0b6e2e" opacity="0.85"/>
<rect x="233.6" y="23.3" width="1" height="1" fill="#1a9e48" opacity="0.85"/>
<rect x="295.8" y="24.5" width="1" height="1" fill="#0a6a2c" opacity="0.85"/>
<rect x="332.3" y="35.9" width="1" height="1" fill="#2fc062" opacity="0.85"/>
<rect x="293.7" y="39.7" width="1" height="1" fill="#2fc062" opacity="0.85"/>
<rect x="346.9" y="14.0" width="1" height="1" fill="#2fc062" opacity="0.85"/>
<rect x="352.8" y="32.0" width="1" height="1" fill="#0a6a2c" opacity="0.85"/>
<rect x="337.1" y="43.9" width="1" height="1" fill="#0b6e2e" opacity="0.85"/>
<rect x="233.7" y="37.1" width="1" height="1" fill="#0d7a34" opacity="0.85"/>
<rect x="274.8" y="31.6" width="1" height="1" fill="#1a9e48" opacity="0.85"/>
<rect x="313.7" y="30.5" width="1" height="1" fill="#1a9e48" opacity="0.85"/>
<rect x="337.1" y="36.7" width="1" height="1" fill="#0b6e2e" opacity="0.85"/>
<rect x="270.7" y="33.6" width="1" height="1" fill="#2fc062" opacity="0.85"/>
<rect x="339.8" y="35.9" width="1" height="1" fill="#0b6e2e" opacity="0.85"/>
<rect x="251.4" y="44.6" width="1" height="1" fill="#0a6a2c" opacity="0.85"/>
<rect x="266.9" y="31.3" width="1" height="1" fill="#2fc062" opacity="0.85"/>
<rect x="264.7" y="26.2" width="1" height="1" fill="#0a6a2c" opacity="0.85"/>
<rect x="267.2" y="14.3" width="1" height="1" fill="#0a6a2c" opacity="0.85"/>
<rect x="337.5" y="36.6" width="1" height="1" fill="#1a9e48" opacity="0.85"/>
<rect x="318.1" y="19.0" width="1" height="1" fill="#0a6a2c" opacity="0.85"/>
<rect x="259.4" y="32.5" width="1" height="1" fill="#2fc062" opacity="0.85"/>
<rect x="270.2" y="35.3" width="1" height="1" fill="#0d7a34" opacity="0.85"/>
<rect x="347.9" y="51.2" width="1" height="1" fill="#0b6e2e" opacity="0.85"/>
<rect x="342.5" y="47.8" width="1" height="1" fill="#0b6e2e" opacity="0.85"/>
<rect x="337.0" y="42.9" width="1" height="1" fill="#0d7a34" opacity="0.85"/>
<rect x="306.2" y="27.3" width="1" height="1" fill="#2fc062" opacity="0.85"/>
<rect x="326.7" y="22.5" width="1" height="1" fill="#1a9e48" opacity="0.85"/>
<rect x="312.2" y="25.1" width="1" height="1" fill="#2fc062" opacity="0.85"/>
<rect x="319.8" y="32.8" width="1" height="1" fill="#1a9e48" opacity="0.85"/>
<rect x="269.4" y="34.4" width="1" height="1" fill="#0a6a2c" opacity="0.85"/>
<rect x="267.3" y="40.3" width="1" height="1" fill="#2fc062" opacity="0.85"/>
<rect x="338.4" y="43.2" width="1" height="1" fill="#0d7a34" opacity="0.85"/>
<rect x="271.6" y="22.8" width="1" height="1" fill="#1a9e48" opacity="0.85"/>
<rect x="353.1" y="19.2" width="1" height="1" fill="#1a9e48" opacity="0.85"/>
<rect x="224.9" y="46.6" width="1" height="1" fill="#0a6a2c" opacity="0.85"/>
<rect x="276.4" y="28.6" width="1" height="1" fill="#2fc062" opacity="0.85"/>
<rect x="344.4" y="35.8" width="1" height="1" fill="#1a9e48" opacity="0.85"/>
<rect x="263.0" y="25.2" width="1" height="1" fill="#0d7a34" opacity="0.85"/>
<rect x="295.4" y="49.1" width="1" height="1" fill="#2fc062" opacity="0.85"/>
<rect x="233.5" y="20.7" width="1" height="1" fill="#0b6e2e" opacity="0.85"/>
<rect x="299.7" y="25.1" width="1" height="1" fill="#2fc062" opacity="0.85"/>
<rect x="351.9" y="27.1" width="1" height="1" fill="#0a6a2c" opacity="0.85"/>
<rect x="317.4" y="48.5" width="1" height="1" fill="#0a6a2c" opacity="0.85"/>
<rect x="265.3" y="20.2" width="1" height="1" fill="#2fc062" opacity="0.85"/>
<rect x="294.8" y="42.3" width="1" height="1" fill="#2fc062" opacity="0.85"/>
<rect x="254.7" y="14.3" width="1" height="1" fill="#0b6e2e" opacity="0.85"/>
<rect x="275.7" y="21.1" width="1" height="1" fill="#0d7a34" opacity="0.85"/>
<rect x="260.6" y="32.6" width="1" height="1" fill="#0b6e2e" opacity="0.85"/>
<rect x="249.5" y="41.4" width="1" height="1" fill="#1a9e48" opacity="0.85"/>
<rect x="301.8" y="16.5" width="1" height="1" fill="#0d7a34" opacity="0.85"/>
<rect x="268.2" y="18.7" width="1" height="1" fill="#1a9e48" opacity="0.85"/>
<rect x="259.0" y="37.9" width="1" height="1" fill="#0b6e2e" opacity="0.85"/>
<rect x="306.9" y="48.6" width="1" height="1" fill="#1a9e48" opacity="0.85"/>
<rect x="265.6" y="46.5" width="1" height="1" fill="#0b6e2e" opacity="0.85"/>
<rect x="308.0" y="28.9" width="1" height="1" fill="#2fc062" opacity="0.85"/>
<rect x="246.6" y="46.3" width="1" height="1" fill="#0b6e2e" opacity="0.85"/>
<rect x="235.3" y="36.8" width="1" height="1" fill="#0a6a2c" opacity="0.85"/>
<rect x="351.9" y="28.7" width="1" height="1" fill="#0a6a2c" opacity="0.85"/>
<rect x="337.1" y="14.5" width="1" height="1" fill="#2fc062" opacity="0.85"/>
<rect x="297.1" y="51.0" width="1" height="1" fill="#0b6e2e" opacity="0.85"/>
<rect x="277.8" y="40.5" width="1" height="1" fill="#2fc062" opacity="0.85"/>
<rect x="244.3" y="14.2" width="1" height="1" fill="#1a9e48" opacity="0.85"/>
<rect x="242.5" y="42.7" width="1" height="1" fill="#0b6e2e" opacity="0.85"/>
<rect x="270.3" y="27.2" width="1" height="1" fill="#2fc062" opacity="0.85"/>
<rect x="293.8" y="35.9" width="1" height="1" fill="#0d7a34" opacity="0.85"/>
<rect x="243.9" y="50.8" width="1" height="1" fill="#0d7a34" opacity="0.85"/>
<rect x="266.8" y="41.7" width="1" height="1" fill="#2fc062" opacity="0.85"/>
<rect x="329.3" y="31.6" width="1" height="1" fill="#0b6e2e" opacity="0.85"/>
<rect x="324.5" y="25.3" width="1" height="1" fill="#0d7a34" opacity="0.85"/>
<rect x="350.6" y="30.7" width="1" height="1" fill="#2fc062" opacity="0.85"/>
<rect x="270.8" y="33.6" width="1" height="1" fill="#2fc062" opacity="0.85"/>
<rect x="241.1" y="13.8" width="1" height="1" fill="#0a6a2c" opacity="0.85"/>
<rect x="236.9" y="44.2" width="1" height="1" fill="#2fc062" opacity="0.85"/>
<rect x="243.5" y="37.4" width="1" height="1" fill="#0a6a2c" opacity="0.85"/>
<rect x="322.0" y="16.9" width="1" height="1" fill="#0b6e2e" opacity="0.85"/>
<rect x="304.9" y="18.1" width="1" height="1" fill="#0d7a34" opacity="0.85"/>
<rect x="289.0" y="34.6" width="1" height="1" fill="#1a9e48" opacity="0.85"/>
<rect x="257.6" y="36.5" width="1" height="1" fill="#1a9e48" opacity="0.85"/>
<rect x="340.9" y="46.6" width="1" height="1" fill="#1a9e48" opacity="0.85"/>
<rect x="292.4" y="26.8" width="1" height="1" fill="#1a9e48" opacity="0.85"/>
<rect x="281.2" y="46.2" width="1" height="1" fill="#1a9e48" opacity="0.85"/>
<rect x="306.4" y="26.6" width="1" height="1" fill="#0a6a2c" opacity="0.85"/>
<rect x="283.6" y="25.8" width="1" height="1" fill="#0b6e2e" opacity="0.85"/>
<rect x="238.0" y="41.4" width="1" height="1" fill="#0b6e2e" opacity="0.85"/>
<rect x="328.5" y="48.2" width="1" height="1" fill="#2fc062" opacity="0.85"/>
<rect x="231.8" y="34.9" width="1" height="1" fill="#0a6a2c" opacity="0.85"/>
<rect x="341.5" y="27.8" width="1" height="1" fill="#1a9e48" opacity="0.85"/>
<rect x="228.0" y="14.3" width="1" height="1" fill="#0a6a2c" opacity="0.85"/>
<rect x="255.3" y="27.0" width="1" height="1" fill="#2fc062" opacity="0.85"/>
<rect x="322.3" y="37.9" width="1" height="1" fill="#2fc062" opacity="0.85"/>
<rect x="337.9" y="32.4" width="1" height="1" fill="#0d7a34" opacity="0.85"/>
<rect x="326.4" y="31.6" width="1" height="1" fill="#2fc062" opacity="0.85"/>
<rect x="347.6" y="18.7" width="1" height="1" fill="#2fc062" opacity="0.85"/>
<rect x="260.6" y="26.1" width="1" height="1" fill="#0a6a2c" opacity="0.85"/>
<rect x="336.9" y="23.0" width="1" height="1" fill="#2fc062" opacity="0.85"/>
<rect x="312.4" y="36.2" width="1" height="1" fill="#0a6a2c" opacity="0.85"/>
<rect x="251.5" y="15.5" width="1" height="1" fill="#1a9e48" opacity="0.85"/>
<rect x="334.2" y="41.4" width="1" height="1" fill="#0b6e2e" opacity="0.85"/>
<rect x="325.0" y="46.3" width="1" height="1" fill="#1a9e48" opacity="0.85"/>
<rect x="280.3" y="18.8" width="1" height="1" fill="#2fc062" opacity="0.85"/>
<rect x="312.7" y="44.1" width="1" height="1" fill="#1a9e48" opacity="0.85"/>
<rect x="350.2" y="13.9" width="1" height="1" fill="#2fc062" opacity="0.85"/>
<rect x="243.5" y="41.5" width="1" height="1" fill="#0b6e2e" opacity="0.85"/>
<rect x="321.3" y="31.2" width="1" height="1" fill="#0a6a2c" opacity="0.85"/>
<rect x="235.7" y="26.4" width="1" height="1" fill="#0a6a2c" opacity="0.85"/>
<rect x="338.2" y="50.7" width="1" height="1" fill="#0b6e2e" opacity="0.85"/>
<rect x="299.8" y="21.2" width="1" height="1" fill="#0b6e2e" opacity="0.85"/>
<rect x="228.9" y="32.7" width="1" height="1" fill="#1a9e48" opacity="0.85"/>
<rect x="298.4" y="40.0" width="1" height="1" fill="#0b6e2e" opacity="0.85"/>
<rect x="230.3" y="47.5" width="1" height="1" fill="#0b6e2e" opacity="0.85"/>
<rect x="337.8" y="18.1" width="1" height="1" fill="#0a6a2c" opacity="0.85"/>
<rect x="349.7" y="33.5" width="1" height="1" fill="#0b6e2e" opacity="0.85"/>
<rect x="247.2" y="39.5" width="1" height="1" fill="#1a9e48" opacity="0.85"/>
<rect x="306.0" y="34.2" width="1" height="1" fill="#0b6e2e" opacity="0.85"/>
<rect x="292.6" y="45.4" width="1" height="1" fill="#0b6e2e" opacity="0.85"/>
<rect x="269.3" y="21.7" width="1" height="1" fill="#1a9e48" opacity="0.85"/>
<rect x="318.7" y="23.9" width="1" height="1" fill="#1a9e48" opacity="0.85"/>
<rect x="226.0" y="23.7" width="1" height="1" fill="#0b6e2e" opacity="0.85"/>
<rect x="249.4" y="15.3" width="1" height="1" fill="#0d7a34" opacity="0.85"/>
<rect x="347.3" y="23.7" width="1" height="1" fill="#2fc062" opacity="0.85"/>
<rect x="313.1" y="38.3" width="1" height="1" fill="#0d7a34" opacity="0.85"/>
<rect x="260.5" y="26.1" width="1" height="1" fill="#0a6a2c" opacity="0.85"/>
<rect x="351.2" y="46.7" width="1" height="1" fill="#2fc062" opacity="0.85"/>
<rect x="275.7" y="25.6" width="1" height="1" fill="#0a6a2c" opacity="0.85"/>
<rect x="273.6" y="19.2" width="1" height="1" fill="#0a6a2c" opacity="0.85"/>
<rect x="338.2" y="44.0" width="1" height="1" fill="#0b6e2e" opacity="0.85"/>
<rect x="255.0" y="32.5" width="1" height="1" fill="#2fc062" opacity="0.85"/>
<rect x="313.8" y="41.2" width="1" height="1" fill="#1a9e48" opacity="0.85"/>
<rect x="330.9" y="38.7" width="1" height="1" fill="#0b6e2e" opacity="0.85"/>
<rect x="333.2" y="43.3" width="1" height="1" fill="#0b6e2e" opacity="0.85"/>
<rect x="276.6" y="34.7" width="1" height="1" fill="#0a6a2c" opacity="0.85"/>
<rect x="295.1" y="25.5" width="1" height="1" fill="#0d7a34" opacity="0.85"/>
<rect x="224.1" y="41.9" width="1" height="1" fill="#0a6a2c" opacity="0.85"/>
<rect x="290.1" y="36.0" width="1" height="1" fill="#0a6a2c" opacity="0.85"/>
<rect x="254.4" y="37.4" width="1" height="1" fill="#0a6a2c" opacity="0.85"/>
<rect x="270.0" y="15.9" width="1" height="1" fill="#0d7a34" opacity="0.85"/>
<rect x="258.5" y="38.6" width="1" height="1" fill="#2fc062" opacity="0.85"/>
<rect x="233.3" y="43.8" width="1" height="1" fill="#1a9e48" opacity="0.85"/>
<rect x="343.7" y="42.6" width="1" height="1" fill="#2fc062" opacity="0.85"/>
<rect x="341.7" y="31.5" width="1" height="1" fill="#2fc062" opacity="0.85"/>
<rect x="291.6" y="31.6" width="1" height="1" fill="#1a9e48" opacity="0.85"/>
<rect x="353.4" y="16.0" width="1" height="1" fill="#0d7a34" opacity="0.85"/>
<rect x="271.2" y="21.3" width="1" height="1" fill="#1a9e48" opacity="0.85"/>
<rect x="329.3" y="22.6" width="1" height="1" fill="#1a9e48" opacity="0.85"/>
<rect x="243.7" y="38.6" width="1" height="1" fill="#1a9e48" opacity="0.85"/>
<rect x="306.9" y="44.9" width="1" height="1" fill="#0b6e2e" opacity="0.85"/>
<rect x="265.7" y="27.2" width="1" height="1" fill="#0a6a2c" opacity="0.85"/>
<rect x="239.9" y="19.3" width="1" height="1" fill="#2fc062" opacity="0.85"/>
<rect x="272.6" y="27.4" width="1" height="1" fill="#0d7a34" opacity="0.85"/>
<rect x="291.5" y="30.7" width="1" height="1" fill="#0b6e2e" opacity="0.85"/>
<rect x="259.6" y="24.5" width="1" height="1" fill="#0a6a2c" opacity="0.85"/>
<rect x="314.0" y="30.6" width="1" height="1" fill="#0a6a2c" opacity="0.85"/>
<rect x="318.6" y="20.1" width="1" height="1" fill="#0d7a34" opacity="0.85"/>
<rect x="243.4" y="39.3" width="1" height="1" fill="#2fc062" opacity="0.85"/>
<rect x="287.3" y="38.6" width="1" height="1" fill="#0d7a34" opacity="0.85"/>
<rect x="272.0" y="26.4" width="1" height="1" fill="#0a6a2c" opacity="0.85"/>
<rect x="256.7" y="34.6" width="1" height="1" fill="#0b6e2e" opacity="0.85"/>
<rect x="297.9" y="15.7" width="1" height="1" fill="#1a9e48" opacity="0.85"/>
<rect x="263.7" y="34.2" width="1" height="1" fill="#2fc062" opacity="0.85"/>
<rect x="257.1" y="23.6" width="1" height="1" fill="#0a6a2c" opacity="0.85"/>
<rect x="235.8" y="37.7" width="1" height="1" fill="#0b6e2e" opacity="0.85"/>
<rect x="250.1" y="29.6" width="1" height="1" fill="#2fc062" opacity="0.85"/>
<rect x="304.0" y="27.6" width="1" height="1" fill="#0b6e2e" opacity="0.85"/>
<rect x="316.9" y="27.8" width="1" height="1" fill="#0b6e2e" opacity="0.85"/>
<rect x="316.3" y="24.7" width="1" height="1" fill="#0a6a2c" opacity="0.85"/>
<rect x="279.8" y="36.6" width="1" height="1" fill="#2fc062" opacity="0.85"/>
<rect x="269.6" y="28.1" width="1" height="1" fill="#0d7a34" opacity="0.85"/>
<rect x="240.8" y="37.0" width="1" height="1" fill="#0d7a34" opacity="0.85"/>
<rect x="272.2" y="38.8" width="1" height="1" fill="#2fc062" opacity="0.85"/>
<rect x="335.4" y="16.5" width="1" height="1" fill="#0a6a2c" opacity="0.85"/>
<rect x="273.1" y="33.5" width="1" height="1" fill="#0a6a2c" opacity="0.85"/>
<rect x="345.2" y="37.9" width="1" height="1" fill="#0b6e2e" opacity="0.85"/>
<rect x="238.0" y="34.9" width="1" height="1" fill="#0a6a2c" opacity="0.85"/>
<rect x="314.8" y="30.1" width="1" height="1" fill="#0a6a2c" opacity="0.85"/>
<rect x="246.8" y="16.0" width="1" height="1" fill="#0a6a2c" opacity="0.85"/>
<rect x="287.6" y="32.9" width="1" height="1" fill="#0b6e2e" opacity="0.85"/>
<rect x="310.8" y="41.6" width="1" height="1" fill="#0a6a2c" opacity="0.85"/>
<rect x="294.1" y="48.7" width="1" height="1" fill="#2fc062" opacity="0.85"/>
<ellipse cx="321.4" cy="39.8" rx="6.4" ry="12.2" fill="url(#bk)" opacity="0.95" filter="url(#soft)"/>
<path d="M395.5,85.4 L395.5,68.3 L404.5,65.3 Q410.0,58.8 415.5,63.1 Q421.0,58.8 426.5,63.1 Q432.0,58.8 437.5,63.1 Q443.0,58.8 448.5,63.1 Q454.0,58.8 459.5,63.1 Q465.0,58.8 470.5,63.1 Q476.0,58.8 481.5,63.1 Q487.0,58.8 492.5,63.1 Q498.0,58.8 503.5,63.1 Q509.0,58.8 514.5,63.1 Q520.0,58.8 525.5,63.1 L527.0,66.3 L529.0,72.3 L529.0,84.4 L526.0,87.4 L397.5,87.4 Z" fill="#4d4d4d" filter="url(#shblur)"/>
<rect x="396.0" y="52.5" width="137.5" height="6.3" fill="#6cc88a"/>
<rect x="471.6" y="56.6" width="1.1" height="1.1" fill="#1c9a44"/>
<rect x="412.1" y="53.7" width="1.1" height="1.1" fill="#e0f4e4"/>
<rect x="473.9" y="52.6" width="1.1" height="1.1" fill="#1c9a44"/>
<rect x="408.0" y="56.5" width="1.1" height="1.1" fill="#1c9a44"/>
<rect x="403.5" y="56.1" width="1.1" height="1.1" fill="#c8ecd0"/>
<rect x="461.9" y="52.8" width="1.1" height="1.1" fill="#1c9a44"/>
<rect x="511.2" y="53.2" width="1.1" height="1.1" fill="#1c9a44"/>
<rect x="507.5" y="57.1" width="1.1" height="1.1" fill="#2aa850"/>
<rect x="439.7" y="53.5" width="1.1" height="1.1" fill="#e0f4e4"/>
<rect x="421.4" y="55.4" width="1.1" height="1.1" fill="#c8ecd0"/>
<rect x="407.8" y="54.5" width="1.1" height="1.1" fill="#c8ecd0"/>
<rect x="471.9" y="55.2" width="1.1" height="1.1" fill="#1c9a44"/>
<rect x="489.0" y="54.1" width="1.1" height="1.1" fill="#2aa850"/>
<rect x="514.3" y="56.8" width="1.1" height="1.1" fill="#c8ecd0"/>
<rect x="437.6" y="53.2" width="1.1" height="1.1" fill="#2aa850"/>
<rect x="469.3" y="54.5" width="1.1" height="1.1" fill="#1c9a44"/>
<rect x="485.6" y="56.3" width="1.1" height="1.1" fill="#2aa850"/>
<rect x="445.9" y="56.7" width="1.1" height="1.1" fill="#2aa850"/>
<rect x="458.3" y="56.2" width="1.1" height="1.1" fill="#e0f4e4"/>
<rect x="495.5" y="52.5" width="1.1" height="1.1" fill="#e0f4e4"/>
<rect x="451.8" y="55.5" width="1.1" height="1.1" fill="#c8ecd0"/>
<rect x="400.8" y="53.7" width="1.1" height="1.1" fill="#1c9a44"/>
<rect x="435.8" y="56.3" width="1.1" height="1.1" fill="#1c9a44"/>
<rect x="451.4" y="56.4" width="1.1" height="1.1" fill="#2aa850"/>
<rect x="515.9" y="52.8" width="1.1" height="1.1" fill="#1c9a44"/>
<rect x="513.1" y="53.2" width="1.1" height="1.1" fill="#2aa850"/>
<rect x="513.7" y="52.9" width="1.1" height="1.1" fill="#1c9a44"/>
<rect x="420.6" y="57.4" width="1.1" height="1.1" fill="#2aa850"/>
<rect x="464.0" y="56.1" width="1.1" height="1.1" fill="#c8ecd0"/>
<rect x="505.5" y="55.3" width="1.1" height="1.1" fill="#2aa850"/>
<rect x="415.9" y="57.4" width="1.1" height="1.1" fill="#2aa850"/>
<rect x="466.5" y="55.0" width="1.1" height="1.1" fill="#2aa850"/>
<rect x="503.1" y="57.5" width="1.1" height="1.1" fill="#1c9a44"/>
<rect x="426.5" y="56.9" width="1.1" height="1.1" fill="#1c9a44"/>
<rect x="489.6" y="53.3" width="1.1" height="1.1" fill="#e0f4e4"/>
<rect x="522.1" y="53.2" width="1.1" height="1.1" fill="#2aa850"/>
<rect x="510.1" y="54.1" width="1.1" height="1.1" fill="#2aa850"/>
<rect x="515.4" y="56.7" width="1.1" height="1.1" fill="#2aa850"/>
<rect x="438.3" y="53.9" width="1.1" height="1.1" fill="#2aa850"/>
<rect x="416.7" y="56.7" width="1.1" height="1.1" fill="#2aa850"/>
<rect x="449.4" y="52.7" width="1.1" height="1.1" fill="#1c9a44"/>
<rect x="417.3" y="54.0" width="1.1" height="1.1" fill="#e0f4e4"/>
<rect x="423.0" y="53.3" width="1.1" height="1.1" fill="#2aa850"/>
<rect x="454.7" y="56.1" width="1.1" height="1.1" fill="#e0f4e4"/>
<rect x="401.3" y="54.4" width="1.1" height="1.1" fill="#2aa850"/>
<rect x="532.0" y="57.5" width="1.1" height="1.1" fill="#e0f4e4"/>
<rect x="435.7" y="54.3" width="1.1" height="1.1" fill="#1c9a44"/>
<rect x="517.4" y="57.3" width="1.1" height="1.1" fill="#2aa850"/>
<rect x="462.2" y="57.1" width="1.1" height="1.1" fill="#e0f4e4"/>
<rect x="423.5" y="55.0" width="1.1" height="1.1" fill="#2aa850"/>
<rect x="475.0" y="54.1" width="1.1" height="1.1" fill="#e0f4e4"/>
<rect x="528.0" y="54.3" width="1.1" height="1.1" fill="#2aa850"/>
<rect x="485.6" y="52.8" width="1.1" height="1.1" fill="#c8ecd0"/>
<rect x="443.8" y="55.0" width="1.1" height="1.1" fill="#c8ecd0"/>
<rect x="497.3" y="53.4" width="1.1" height="1.1" fill="#c8ecd0"/>
<rect x="506.4" y="56.3" width="1.1" height="1.1" fill="#1c9a44"/>
<rect x="409.1" y="55.4" width="1.1" height="1.1" fill="#2aa850"/>
<rect x="477.3" y="54.9" width="1.1" height="1.1" fill="#e0f4e4"/>
<rect x="401.4" y="55.6" width="1.1" height="1.1" fill="#1c9a44"/>
<rect x="484.3" y="53.2" width="1.1" height="1.1" fill="#c8ecd0"/>
<rect x="406.4" y="56.4" width="1.1" height="1.1" fill="#2aa850"/>
<rect x="445.1" y="56.0" width="1.1" height="1.1" fill="#e0f4e4"/>
<rect x="441.3" y="57.0" width="1.1" height="1.1" fill="#1c9a44"/>
<rect x="437.4" y="53.9" width="1.1" height="1.1" fill="#e0f4e4"/>
<rect x="516.0" y="53.1" width="1.1" height="1.1" fill="#1c9a44"/>
<rect x="432.9" y="55.4" width="1.1" height="1.1" fill="#c8ecd0"/>
<rect x="459.9" y="53.4" width="1.1" height="1.1" fill="#e0f4e4"/>
<rect x="465.2" y="54.4" width="1.1" height="1.1" fill="#2aa850"/>
<rect x="434.7" y="55.4" width="1.1" height="1.1" fill="#2aa850"/>
<rect x="520.0" y="56.4" width="1.1" height="1.1" fill="#2aa850"/>
<rect x="517.6" y="52.6" width="1.1" height="1.1" fill="#e0f4e4"/>
<rect x="462.7" y="56.7" width="1.1" height="1.1" fill="#2aa850"/>
<rect x="490.0" y="53.7" width="1.1" height="1.1" fill="#2aa850"/>
<rect x="417.0" y="53.9" width="1.1" height="1.1" fill="#e0f4e4"/>
<rect x="453.9" y="55.8" width="1.1" height="1.1" fill="#e0f4e4"/>
<rect x="435.9" y="57.2" width="1.1" height="1.1" fill="#e0f4e4"/>
<rect x="486.6" y="53.7" width="1.1" height="1.1" fill="#2aa850"/>
<rect x="477.3" y="56.7" width="1.1" height="1.1" fill="#e0f4e4"/>
<rect x="508.1" y="52.9" width="1.1" height="1.1" fill="#c8ecd0"/>
<rect x="530.2" y="52.7" width="1.1" height="1.1" fill="#2aa850"/>
<rect x="507.2" y="54.3" width="1.1" height="1.1" fill="#1c9a44"/>
<rect x="476.8" y="53.5" width="1.1" height="1.1" fill="#c8ecd0"/>
<rect x="524.4" y="54.7" width="1.1" height="1.1" fill="#1c9a44"/>
<rect x="400.4" y="56.7" width="1.1" height="1.1" fill="#2aa850"/>
<rect x="496.2" y="56.1" width="1.1" height="1.1" fill="#2aa850"/>
<rect x="504.9" y="56.6" width="1.1" height="1.1" fill="#2aa850"/>
<rect x="423.1" y="53.7" width="1.1" height="1.1" fill="#c8ecd0"/>
<rect x="492.7" y="52.9" width="1.1" height="1.1" fill="#e0f4e4"/>
<rect x="504.1" y="55.0" width="1.1" height="1.1" fill="#1c9a44"/>
<rect x="467.7" y="54.2" width="1.1" height="1.1" fill="#e0f4e4"/>
<rect x="498.6" y="55.9" width="1.1" height="1.1" fill="#2aa850"/>
<rect x="514.3" y="52.8" width="1.1" height="1.1" fill="#c8ecd0"/>
<rect x="503.4" y="53.0" width="1.1" height="1.1" fill="#c8ecd0"/>
<rect x="475.5" y="56.8" width="1.1" height="1.1" fill="#1c9a44"/>
<rect x="487.8" y="56.5" width="1.1" height="1.1" fill="#2aa850"/>
<rect x="431.4" y="56.2" width="1.1" height="1.1" fill="#c8ecd0"/>
<rect x="519.5" y="56.4" width="1.1" height="1.1" fill="#2aa850"/>
<rect x="455.4" y="56.9" width="1.1" height="1.1" fill="#c8ecd0"/>
<rect x="498.1" y="55.6" width="1.1" height="1.1" fill="#e0f4e4"/>
<rect x="405.3" y="56.7" width="1.1" height="1.1" fill="#c8ecd0"/>
<rect x="498.5" y="57.0" width="1.1" height="1.1" fill="#2aa850"/>
<rect x="423.0" y="54.9" width="1.1" height="1.1" fill="#2aa850"/>
<rect x="515.8" y="55.5" width="1.1" height="1.1" fill="#e0f4e4"/>
<rect x="449.5" y="56.7" width="1.1" height="1.1" fill="#c8ecd0"/>
<rect x="508.7" y="54.7" width="1.1" height="1.1" fill="#e0f4e4"/>
<rect x="427.2" y="56.1" width="1.1" height="1.1" fill="#c8ecd0"/>
<rect x="486.5" y="57.3" width="1.1" height="1.1" fill="#1c9a44"/>
<rect x="504.2" y="52.5" width="1.1" height="1.1" fill="#1c9a44"/>
<rect x="478.4" y="57.5" width="1.1" height="1.1" fill="#1c9a44"/>
<rect x="453.1" y="55.7" width="1.1" height="1.1" fill="#1c9a44"/>
<rect x="415.9" y="55.4" width="1.1" height="1.1" fill="#e0f4e4"/>
<rect x="444.3" y="57.0" width="1.1" height="1.1" fill="#e0f4e4"/>
<rect x="435.9" y="53.0" width="1.1" height="1.1" fill="#c8ecd0"/>
<rect x="421.6" y="57.2" width="1.1" height="1.1" fill="#1c9a44"/>
<rect x="486.2" y="56.8" width="1.1" height="1.1" fill="#e0f4e4"/>
<rect x="425.5" y="55.8" width="1.1" height="1.1" fill="#1c9a44"/>
<rect x="508.3" y="53.5" width="1.1" height="1.1" fill="#c8ecd0"/>
<rect x="441.4" y="53.3" width="1.1" height="1.1" fill="#2aa850"/>
<rect x="426.6" y="57.2" width="1.1" height="1.1" fill="#1c9a44"/>
<rect x="438.1" y="54.2" width="1.1" height="1.1" fill="#2aa850"/>
<rect x="512.9" y="57.6" width="1.1" height="1.1" fill="#1c9a44"/>
<rect x="468.0" y="52.5" width="1.1" height="1.1" fill="#2aa850"/>
<rect x="410.2" y="53.8" width="1.1" height="1.1" fill="#c8ecd0"/>
<rect x="496.5" y="56.1" width="1.1" height="1.1" fill="#1c9a44"/>
<rect x="414.4" y="56.5" width="1.1" height="1.1" fill="#c8ecd0"/>
<rect x="487.0" y="52.9" width="1.1" height="1.1" fill="#c8ecd0"/>
<rect x="456.6" y="57.6" width="1.1" height="1.1" fill="#c8ecd0"/>
<rect x="437.7" y="56.3" width="1.1" height="1.1" fill="#1c9a44"/>
<rect x="524.0" y="56.8" width="1.1" height="1.1" fill="#e0f4e4"/>
<rect x="519.8" y="55.1" width="1.1" height="1.1" fill="#c8ecd0"/>
<rect x="490.4" y="52.6" width="1.1" height="1.1" fill="#e0f4e4"/>
<rect x="472.1" y="54.9" width="1.1" height="1.1" fill="#2aa850"/>
<rect x="495.5" y="56.5" width="1.1" height="1.1" fill="#e0f4e4"/>
<rect x="525.4" y="55.1" width="1.1" height="1.1" fill="#e0f4e4"/>
<rect x="526.1" y="57.2" width="1.1" height="1.1" fill="#2aa850"/>
<rect x="421.6" y="57.4" width="1.1" height="1.1" fill="#e0f4e4"/>
<rect x="532.2" y="53.4" width="1.1" height="1.1" fill="#c8ecd0"/>
<rect x="481.6" y="53.8" width="1.1" height="1.1" fill="#e0f4e4"/>
<rect x="453.4" y="57.7" width="1.1" height="1.1" fill="#e0f4e4"/>
<rect x="505.9" y="56.1" width="1.1" height="1.1" fill="#1c9a44"/>
<rect x="463.3" y="57.7" width="1.1" height="1.1" fill="#c8ecd0"/>
<rect x="490.3" y="54.0" width="1.1" height="1.1" fill="#2aa850"/>
<rect x="509.8" y="55.1" width="1.1" height="1.1" fill="#e0f4e4"/>
<rect x="504.3" y="54.3" width="1.1" height="1.1" fill="#2aa850"/>
<rect x="423.4" y="56.8" width="1.1" height="1.1" fill="#e0f4e4"/>
<rect x="418.1" y="56.4" width="1.1" height="1.1" fill="#2aa850"/>
<rect x="489.0" y="57.3" width="1.1" height="1.1" fill="#c8ecd0"/>
<rect x="528.6" y="56.6" width="1.1" height="1.1" fill="#c8ecd0"/>
<rect x="527.3" y="53.5" width="1.1" height="1.1" fill="#c8ecd0"/>
<rect x="517.7" y="55.0" width="1.1" height="1.1" fill="#c8ecd0"/>
<rect x="522.7" y="54.6" width="1.1" height="1.1" fill="#c8ecd0"/>
<rect x="445.4" y="54.2" width="1.1" height="1.1" fill="#1c9a44"/>
<rect x="432.4" y="53.6" width="1.1" height="1.1" fill="#1c9a44"/>
<rect x="464.4" y="54.7" width="1.1" height="1.1" fill="#2aa850"/>
<rect x="502.3" y="54.2" width="1.1" height="1.1" fill="#2aa850"/>
<rect x="434.1" y="55.3" width="1.1" height="1.1" fill="#1c9a44"/>
<rect x="498.7" y="54.0" width="1.1" height="1.1" fill="#c8ecd0"/>
<rect x="493.9" y="54.6" width="1.1" height="1.1" fill="#c8ecd0"/>
<rect x="512.2" y="53.1" width="1.1" height="1.1" fill="#1c9a44"/>
<rect x="501.3" y="52.7" width="1.1" height="1.1" fill="#c8ecd0"/>
<rect x="444.3" y="57.5" width="1.1" height="1.1" fill="#c8ecd0"/>
<rect x="529.8" y="57.2" width="1.1" height="1.1" fill="#e0f4e4"/>
<rect x="498.9" y="56.1" width="1.1" height="1.1" fill="#1c9a44"/>
<rect x="509.9" y="56.3" width="1.1" height="1.1" fill="#c8ecd0"/>
<rect x="418.6" y="53.4" width="1.1" height="1.1" fill="#e0f4e4"/>
<rect x="501.7" y="54.6" width="1.1" height="1.1" fill="#c8ecd0"/>
<rect x="450.6" y="55.1" width="1.1" height="1.1" fill="#c8ecd0"/>
<rect x="443.7" y="53.5" width="1.1" height="1.1" fill="#2aa850"/>
<rect x="468.6" y="55.3" width="1.1" height="1.1" fill="#c8ecd0"/>
<rect x="414.2" y="54.3" width="1.1" height="1.1" fill="#e0f4e4"/>
<rect x="522.2" y="52.9" width="1.1" height="1.1" fill="#e0f4e4"/>
<rect x="512.3" y="56.0" width="1.1" height="1.1" fill="#1c9a44"/>
<rect x="451.1" y="55.5" width="1.1" height="1.1" fill="#c8ecd0"/>
<rect x="503.2" y="56.1" width="1.1" height="1.1" fill="#2aa850"/>
<rect x="416.6" y="56.1" width="1.1" height="1.1" fill="#2aa850"/>
<rect x="464.3" y="57.3" width="1.1" height="1.1" fill="#e0f4e4"/>
<rect x="497.4" y="56.9" width="1.1" height="1.1" fill="#1c9a44"/>
<rect x="515.9" y="53.2" width="1.1" height="1.1" fill="#1c9a44"/>
<rect x="479.6" y="54.0" width="1.1" height="1.1" fill="#e0f4e4"/>
<rect x="501.3" y="55.7" width="1.1" height="1.1" fill="#c8ecd0"/>
<rect x="478.9" y="57.3" width="1.1" height="1.1" fill="#c8ecd0"/>
<rect x="408.8" y="56.1" width="1.1" height="1.1" fill="#e0f4e4"/>
<rect x="445.1" y="56.2" width="1.1" height="1.1" fill="#e0f4e4"/>
<rect x="412.6" y="57.6" width="1.1" height="1.1" fill="#2aa850"/>
<rect x="396.5" y="55.8" width="1.1" height="1.1" fill="#2aa850"/>
<rect x="457.0" y="55.2" width="1.1" height="1.1" fill="#1c9a44"/>
<rect x="476.6" y="55.7" width="1.1" height="1.1" fill="#e0f4e4"/>
<rect x="401.4" y="56.9" width="1.1" height="1.1" fill="#e0f4e4"/>
<rect x="462.0" y="54.1" width="1.1" height="1.1" fill="#c8ecd0"/>
<rect x="527.7" y="55.3" width="1.1" height="1.1" fill="#2aa850"/>
<rect x="425.7" y="56.7" width="1.1" height="1.1" fill="#2aa850"/>
<rect x="434.5" y="57.7" width="1.1" height="1.1" fill="#e0f4e4"/>
<rect x="426.4" y="53.4" width="1.1" height="1.1" fill="#c8ecd0"/>
<rect x="453.9" y="52.8" width="1.1" height="1.1" fill="#c8ecd0"/>
<rect x="494.9" y="55.6" width="1.1" height="1.1" fill="#1c9a44"/>
<rect x="449.3" y="57.6" width="1.1" height="1.1" fill="#1c9a44"/>
<rect x="426.9" y="57.1" width="1.1" height="1.1" fill="#e0f4e4"/>
<rect x="505.8" y="57.6" width="1.1" height="1.1" fill="#c8ecd0"/>
<rect x="485.8" y="53.8" width="1.1" height="1.1" fill="#1c9a44"/>
<rect x="474.6" y="54.8" width="1.1" height="1.1" fill="#1c9a44"/>
<rect x="422.0" y="55.8" width="1.1" height="1.1" fill="#e0f4e4"/>
<rect x="451.0" y="54.0" width="1.1" height="1.1" fill="#2aa850"/>
<rect x="406.4" y="57.3" width="1.1" height="1.1" fill="#e0f4e4"/>
<rect x="455.9" y="53.5" width="1.1" height="1.1" fill="#2aa850"/>
<rect x="501.6" y="53.6" width="1.1" height="1.1" fill="#c8ecd0"/>
<rect x="498.1" y="57.5" width="1.1" height="1.1" fill="#e0f4e4"/>
<rect x="404.6" y="53.6" width="1.1" height="1.1" fill="#e0f4e4"/>
<rect x="510.0" y="55.9" width="1.1" height="1.1" fill="#c8ecd0"/>
<rect x="472.1" y="55.8" width="1.1" height="1.1" fill="#c8ecd0"/>
<rect x="531.3" y="54.1" width="1.1" height="1.1" fill="#e0f4e4"/>
<rect x="496.9" y="56.2" width="1.1" height="1.1" fill="#1c9a44"/>
<rect x="518.7" y="56.8" width="1.1" height="1.1" fill="#1c9a44"/>
<rect x="501.5" y="54.3" width="1.1" height="1.1" fill="#2aa850"/>
<rect x="445.7" y="57.2" width="1.1" height="1.1" fill="#1c9a44"/>
<rect x="531.2" y="57.3" width="1.1" height="1.1" fill="#c8ecd0"/>
<rect x="461.0" y="56.9" width="1.1" height="1.1" fill="#2aa850"/>
<rect x="512.0" y="55.3" width="1.1" height="1.1" fill="#c8ecd0"/>
<rect x="465.3" y="53.6" width="1.1" height="1.1" fill="#c8ecd0"/>
<rect x="485.6" y="57.5" width="1.1" height="1.1" fill="#2aa850"/>
<rect x="492.9" y="57.5" width="1.1" height="1.1" fill="#1c9a44"/>
<rect x="501.7" y="56.3" width="1.1" height="1.1" fill="#2aa850"/>
<rect x="506.8" y="57.0" width="1.1" height="1.1" fill="#2aa850"/>
<rect x="414.9" y="53.1" width="1.1" height="1.1" fill="#1c9a44"/>
<rect x="399.8" y="56.8" width="1.1" height="1.1" fill="#e0f4e4"/>
<rect x="459.3" y="52.7" width="1.1" height="1.1" fill="#e0f4e4"/>
<rect x="513.2" y="54.3" width="1.1" height="1.1" fill="#1c9a44"/>
<rect x="462.1" y="55.9" width="1.1" height="1.1" fill="#2aa850"/>
<rect x="397.0" y="53.6" width="1.1" height="1.1" fill="#c8ecd0"/>
<rect x="448.2" y="53.1" width="1.1" height="1.1" fill="#2aa850"/>
<rect x="525.0" y="54.8" width="1.1" height="1.1" fill="#1c9a44"/>
<rect x="500.0" y="55.5" width="1.1" height="1.1" fill="#e0f4e4"/>
<rect x="513.6" y="53.4" width="1.1" height="1.1" fill="#2aa850"/>
<rect x="493.8" y="55.0" width="1.1" height="1.1" fill="#1c9a44"/>
<rect x="478.7" y="53.1" width="1.1" height="1.1" fill="#1c9a44"/>
<rect x="477.8" y="52.8" width="1.1" height="1.1" fill="#2aa850"/>
<rect x="505.2" y="57.2" width="1.1" height="1.1" fill="#e0f4e4"/>
<rect x="449.5" y="56.7" width="1.1" height="1.1" fill="#2aa850"/>
<rect x="482.5" y="56.4" width="1.1" height="1.1" fill="#e0f4e4"/>
<rect x="429.1" y="57.3" width="1.1" height="1.1" fill="#2aa850"/>
<rect x="505.6" y="52.7" width="1.1" height="1.1" fill="#e0f4e4"/>
<rect x="450.9" y="57.5" width="1.1" height="1.1" fill="#2aa850"/>
<rect x="501.8" y="52.7" width="1.1" height="1.1" fill="#1c9a44"/>
<rect x="431.9" y="53.3" width="1.1" height="1.1" fill="#e0f4e4"/>
<rect x="461.4" y="57.6" width="1.1" height="1.1" fill="#e0f4e4"/>
<rect x="421.5" y="56.8" width="1.1" height="1.1" fill="#2aa850"/>
<rect x="480.1" y="54.2" width="1.1" height="1.1" fill="#1c9a44"/>
<rect x="521.1" y="52.5" width="1.1" height="1.1" fill="#e0f4e4"/>
<rect x="471.9" y="56.9" width="1.1" height="1.1" fill="#e0f4e4"/>
<rect x="492.4" y="56.0" width="1.1" height="1.1" fill="#c8ecd0"/>
<rect x="458.4" y="56.1" width="1.1" height="1.1" fill="#2aa850"/>
<rect x="399.3" y="56.9" width="1.1" height="1.1" fill="#1c9a44"/>
<rect x="424.5" y="56.3" width="1.1" height="1.1" fill="#2aa850"/>
<rect x="487.7" y="57.7" width="1.1" height="1.1" fill="#e0f4e4"/>
<rect x="470.5" y="54.4" width="1.1" height="1.1" fill="#e0f4e4"/>
<rect x="408.0" y="53.8" width="1.1" height="1.1" fill="#e0f4e4"/>
<rect x="408.3" y="54.0" width="1.1" height="1.1" fill="#c8ecd0"/>
<rect x="500.1" y="53.3" width="1.1" height="1.1" fill="#c8ecd0"/>
<rect x="500.9" y="52.5" width="1.1" height="1.1" fill="#e0f4e4"/>
<rect x="401.9" y="56.1" width="1.1" height="1.1" fill="#2aa850"/>
<rect x="467.0" y="54.9" width="1.1" height="1.1" fill="#1c9a44"/>
<rect x="522.1" y="55.5" width="1.1" height="1.1" fill="#2aa850"/>
<rect x="521.1" y="56.4" width="1.1" height="1.1" fill="#e0f4e4"/>
<rect x="520.6" y="56.9" width="1.1" height="1.1" fill="#e0f4e4"/>
<rect x="487.5" y="53.2" width="1.1" height="1.1" fill="#1c9a44"/>
<rect x="505.4" y="52.8" width="1.1" height="1.1" fill="#c8ecd0"/>
<rect x="456.3" y="56.2" width="1.1" height="1.1" fill="#c8ecd0"/>
<rect x="503.5" y="57.0" width="1.1" height="1.1" fill="#e0f4e4"/>
<rect x="440.3" y="53.0" width="1.1" height="1.1" fill="#1c9a44"/>
<rect x="418.2" y="57.5" width="1.1" height="1.1" fill="#1c9a44"/>
<rect x="500.1" y="56.9" width="1.1" height="1.1" fill="#c8ecd0"/>
<rect x="433.4" y="53.8" width="1.1" height="1.1" fill="#1c9a44"/>
<rect x="469.4" y="54.3" width="1.1" height="1.1" fill="#c8ecd0"/>
<rect x="521.7" y="54.2" width="1.1" height="1.1" fill="#2aa850"/>
<rect x="517.5" y="56.7" width="1.1" height="1.1" fill="#2aa850"/>
<rect x="410.3" y="56.9" width="1.1" height="1.1" fill="#c8ecd0"/>
<rect x="454.0" y="54.3" width="1.1" height="1.1" fill="#e0f4e4"/>
<rect x="469.3" y="57.6" width="1.1" height="1.1" fill="#2aa850"/>
<rect x="424.9" y="52.8" width="1.1" height="1.1" fill="#2aa850"/>
<rect x="524.0" y="54.7" width="1.1" height="1.1" fill="#e0f4e4"/>
<rect x="484.4" y="53.7" width="1.1" height="1.1" fill="#e0f4e4"/>
<rect x="493.5" y="54.8" width="1.1" height="1.1" fill="#e0f4e4"/>
<rect x="531.1" y="53.4" width="1.1" height="1.1" fill="#1c9a44"/>
<rect x="479.8" y="53.4" width="1.1" height="1.1" fill="#c8ecd0"/>
<rect x="498.8" y="53.8" width="1.1" height="1.1" fill="#c8ecd0"/>
<rect x="527.1" y="53.0" width="1.1" height="1.1" fill="#2aa850"/>
<rect x="483.5" y="55.8" width="1.1" height="1.1" fill="#2aa850"/>
<rect x="485.6" y="55.7" width="1.1" height="1.1" fill="#1c9a44"/>
<rect x="437.5" y="52.8" width="1.1" height="1.1" fill="#e0f4e4"/>
<rect x="469.1" y="52.9" width="1.1" height="1.1" fill="#e0f4e4"/>
<rect x="415.4" y="53.1" width="1.1" height="1.1" fill="#1c9a44"/>
<rect x="484.5" y="55.2" width="1.1" height="1.1" fill="#c8ecd0"/>
<rect x="521.7" y="54.9" width="1.1" height="1.1" fill="#e0f4e4"/>
<rect x="430.8" y="54.6" width="1.1" height="1.1" fill="#2aa850"/>
<rect x="456.7" y="56.4" width="1.1" height="1.1" fill="#e0f4e4"/>
<rect x="513.6" y="54.9" width="1.1" height="1.1" fill="#c8ecd0"/>
<rect x="509.6" y="52.7" width="1.1" height="1.1" fill="#2aa850"/>
<rect x="410.5" y="53.6" width="1.1" height="1.1" fill="#c8ecd0"/>
<rect x="487.6" y="54.0" width="1.1" height="1.1" fill="#e0f4e4"/>
<rect x="511.4" y="52.9" width="1.1" height="1.1" fill="#e0f4e4"/>
<rect x="417.6" y="56.0" width="1.1" height="1.1" fill="#c8ecd0"/>
<rect x="486.3" y="53.5" width="1.1" height="1.1" fill="#2aa850"/>
<rect x="461.7" y="56.9" width="1.1" height="1.1" fill="#e0f4e4"/>
<rect x="448.3" y="56.0" width="1.1" height="1.1" fill="#2aa850"/>
<rect x="396.0" y="57.6" width="137.5" height="1.2" fill="#6f9f7a"/>
<g filter="url(#fuzz)">
<rect x="398.0" y="14.5" width="133.0" height="36.5" rx="6" fill="#0f8238"/>
<ellipse cx="409.8" cy="17.5" rx="7.4" ry="8.5" fill="#22b252"/>
<ellipse cx="423.2" cy="19.1" rx="7.4" ry="8.5" fill="#26b657"/>
<ellipse cx="436.8" cy="20.7" rx="7.4" ry="8.5" fill="#1caa4c"/>
<ellipse cx="450.2" cy="18.3" rx="7.4" ry="8.5" fill="#2fc060"/>
<ellipse cx="463.8" cy="19.9" rx="7.4" ry="8.5" fill="#20ae50"/>
<ellipse cx="477.2" cy="17.5" rx="7.4" ry="8.5" fill="#22b252"/>
<ellipse cx="490.8" cy="19.1" rx="7.4" ry="8.5" fill="#26b657"/>
<ellipse cx="504.2" cy="20.7" rx="7.4" ry="8.5" fill="#1caa4c"/>
<ellipse cx="517.8" cy="18.3" rx="7.4" ry="8.5" fill="#2fc060"/>
<ellipse cx="404.3" cy="23.5" rx="6.8" ry="8" fill="#1caa4c"/>
<ellipse cx="417.8" cy="23.5" rx="6.8" ry="8" fill="#2fc060"/>
<ellipse cx="431.3" cy="23.5" rx="6.8" ry="8" fill="#20ae50"/>
<ellipse cx="444.8" cy="23.5" rx="6.8" ry="8" fill="#22b252"/>
<ellipse cx="458.3" cy="23.5" rx="6.8" ry="8" fill="#26b657"/>
<ellipse cx="471.8" cy="23.5" rx="6.8" ry="8" fill="#1caa4c"/>
<ellipse cx="485.3" cy="23.5" rx="6.8" ry="8" fill="#2fc060"/>
<ellipse cx="498.8" cy="23.5" rx="6.8" ry="8" fill="#20ae50"/>
<ellipse cx="512.3" cy="23.5" rx="6.8" ry="8" fill="#22b252"/>
<ellipse cx="525.8" cy="23.5" rx="6.8" ry="8" fill="#26b657"/>
<path d="M403.0,20.0 C410.9,23.4 411.7,51.5 403.0,54.0 C394.3,51.5 395.1,23.4 403.0,20.0 Z" fill="url(#b3)"/>
<path d="M416.5,20.0 C424.4,23.4 425.2,51.5 416.5,54.0 C407.8,51.5 408.6,23.4 416.5,20.0 Z" fill="url(#b3)"/>
<path d="M430.0,20.0 C437.9,23.4 438.7,51.5 430.0,54.0 C421.3,51.5 422.1,23.4 430.0,20.0 Z" fill="url(#b3)"/>
<path d="M443.5,20.0 C451.4,23.4 452.2,51.5 443.5,54.0 C434.8,51.5 435.6,23.4 443.5,20.0 Z" fill="url(#bm)"/>
<path d="M457.0,20.0 C464.9,23.4 465.7,51.5 457.0,54.0 C448.3,51.5 449.1,23.4 457.0,20.0 Z" fill="url(#b3)"/>
<path d="M470.5,20.0 C478.4,23.4 479.2,51.5 470.5,54.0 C461.8,51.5 462.6,23.4 470.5,20.0 Z" fill="url(#bl)"/>
<path d="M484.0,20.0 C491.9,23.4 492.7,51.5 484.0,54.0 C475.3,51.5 476.1,23.4 484.0,20.0 Z" fill="url(#b3)"/>
<path d="M497.5,20.0 C505.4,23.4 506.2,51.5 497.5,54.0 C488.8,51.5 489.6,23.4 497.5,20.0 Z" fill="url(#bd)"/>
<path d="M511.0,20.0 C518.9,23.4 519.7,51.5 511.0,54.0 C502.3,51.5 503.1,23.4 511.0,20.0 Z" fill="url(#b3)"/>
<path d="M524.5,20.0 C532.4,23.4 533.2,51.5 524.5,54.0 C515.8,51.5 516.6,23.4 524.5,20.0 Z" fill="url(#b3)"/>
</g>
<rect x="407.1" y="24.9" width="1" height="1" fill="#2fc062" opacity="0.85"/>
<rect x="510.7" y="18.5" width="1" height="1" fill="#2fc062" opacity="0.85"/>
<rect x="446.6" y="41.3" width="1" height="1" fill="#1a9e48" opacity="0.85"/>
<rect x="447.4" y="41.9" width="1" height="1" fill="#2fc062" opacity="0.85"/>
<rect x="447.0" y="33.6" width="1" height="1" fill="#0b6e2e" opacity="0.85"/>
<rect x="513.3" y="48.5" width="1" height="1" fill="#1a9e48" opacity="0.85"/>
<rect x="436.4" y="28.2" width="1" height="1" fill="#0b6e2e" opacity="0.85"/>
<rect x="428.3" y="21.0" width="1" height="1" fill="#1a9e48" opacity="0.85"/>
<rect x="498.9" y="46.3" width="1" height="1" fill="#1a9e48" opacity="0.85"/>
<rect x="483.0" y="31.7" width="1" height="1" fill="#0b6e2e" opacity="0.85"/>
<rect x="405.6" y="39.0" width="1" height="1" fill="#2fc062" opacity="0.85"/>
<rect x="429.8" y="14.6" width="1" height="1" fill="#0a6a2c" opacity="0.85"/>
<rect x="462.9" y="17.7" width="1" height="1" fill="#0d7a34" opacity="0.85"/>
<rect x="492.2" y="17.1" width="1" height="1" fill="#0b6e2e" opacity="0.85"/>
<rect x="462.5" y="49.0" width="1" height="1" fill="#1a9e48" opacity="0.85"/>
<rect x="454.8" y="15.8" width="1" height="1" fill="#1a9e48" opacity="0.85"/>
<rect x="407.9" y="27.4" width="1" height="1" fill="#0a6a2c" opacity="0.85"/>
<rect x="430.3" y="26.5" width="1" height="1" fill="#0b6e2e" opacity="0.85"/>
<rect x="408.4" y="22.1" width="1" height="1" fill="#1a9e48" opacity="0.85"/>
<rect x="472.7" y="47.0" width="1" height="1" fill="#0a6a2c" opacity="0.85"/>
<rect x="413.4" y="49.8" width="1" height="1" fill="#0d7a34" opacity="0.85"/>
<rect x="406.3" y="33.6" width="1" height="1" fill="#0d7a34" opacity="0.85"/>
<rect x="512.3" y="21.7" width="1" height="1" fill="#0b6e2e" opacity="0.85"/>
<rect x="461.5" y="31.5" width="1" height="1" fill="#0a6a2c" opacity="0.85"/>
<rect x="501.8" y="18.6" width="1" height="1" fill="#0a6a2c" opacity="0.85"/>
<rect x="481.7" y="17.3" width="1" height="1" fill="#2fc062" opacity="0.85"/>
<rect x="485.8" y="27.4" width="1" height="1" fill="#0b6e2e" opacity="0.85"/>
<rect x="491.2" y="31.8" width="1" height="1" fill="#2fc062" opacity="0.85"/>
<rect x="422.6" y="13.9" width="1" height="1" fill="#0d7a34" opacity="0.85"/>
<rect x="517.2" y="38.3" width="1" height="1" fill="#0b6e2e" opacity="0.85"/>
<rect x="469.4" y="22.5" width="1" height="1" fill="#0a6a2c" opacity="0.85"/>
<rect x="486.0" y="18.9" width="1" height="1" fill="#2fc062" opacity="0.85"/>
<rect x="418.0" y="44.4" width="1" height="1" fill="#2fc062" opacity="0.85"/>
<rect x="496.0" y="46.5" width="1" height="1" fill="#2fc062" opacity="0.85"/>
<rect x="485.0" y="38.6" width="1" height="1" fill="#1a9e48" opacity="0.85"/>
<rect x="401.1" y="31.2" width="1" height="1" fill="#0b6e2e" opacity="0.85"/>
<rect x="457.9" y="46.2" width="1" height="1" fill="#2fc062" opacity="0.85"/>
<rect x="456.5" y="18.9" width="1" height="1" fill="#1a9e48" opacity="0.85"/>
<rect x="438.9" y="25.6" width="1" height="1" fill="#1a9e48" opacity="0.85"/>
<rect x="522.1" y="29.0" width="1" height="1" fill="#1a9e48" opacity="0.85"/>
<rect x="400.7" y="50.0" width="1" height="1" fill="#1a9e48" opacity="0.85"/>
<rect x="407.6" y="27.9" width="1" height="1" fill="#0a6a2c" opacity="0.85"/>
<rect x="487.1" y="21.7" width="1" height="1" fill="#1a9e48" opacity="0.85"/>
<rect x="424.2" y="31.6" width="1" height="1" fill="#2fc062" opacity="0.85"/>
<rect x="529.9" y="31.1" width="1" height="1" fill="#1a9e48" opacity="0.85"/>
<rect x="526.7" y="42.6" width="1" height="1" fill="#0b6e2e" opacity="0.85"/>
<rect x="452.3" y="26.7" width="1" height="1" fill="#0b6e2e" opacity="0.85"/>
<rect x="473.5" y="43.1" width="1" height="1" fill="#1a9e48" opacity="0.85"/>
<rect x="507.5" y="13.5" width="1" height="1" fill="#0d7a34" opacity="0.85"/>
<rect x="505.3" y="36.9" width="1" height="1" fill="#0a6a2c" opacity="0.85"/>
<rect x="472.6" y="40.9" width="1" height="1" fill="#1a9e48" opacity="0.85"/>
<rect x="433.2" y="35.1" width="1" height="1" fill="#2fc062" opacity="0.85"/>
<rect x="524.8" y="19.2" width="1" height="1" fill="#1a9e48" opacity="0.85"/>
<rect x="529.8" y="18.7" width="1" height="1" fill="#2fc062" opacity="0.85"/>
<rect x="515.1" y="15.7" width="1" height="1" fill="#1a9e48" opacity="0.85"/>
<rect x="454.4" y="16.6" width="1" height="1" fill="#0a6a2c" opacity="0.85"/>
<rect x="502.5" y="23.2" width="1" height="1" fill="#0d7a34" opacity="0.85"/>
<rect x="485.7" y="46.6" width="1" height="1" fill="#2fc062" opacity="0.85"/>
<rect x="525.8" y="40.9" width="1" height="1" fill="#0b6e2e" opacity="0.85"/>
<rect x="405.8" y="48.7" width="1" height="1" fill="#0b6e2e" opacity="0.85"/>
<rect x="525.7" y="48.3" width="1" height="1" fill="#0b6e2e" opacity="0.85"/>
<rect x="436.9" y="50.7" width="1" height="1" fill="#1a9e48" opacity="0.85"/>
<rect x="454.0" y="33.9" width="1" height="1" fill="#2fc062" opacity="0.85"/>
<rect x="504.7" y="38.7" width="1" height="1" fill="#0d7a34" opacity="0.85"/>
<rect x="475.4" y="30.7" width="1" height="1" fill="#0a6a2c" opacity="0.85"/>
<rect x="485.2" y="36.1" width="1" height="1" fill="#2fc062" opacity="0.85"/>
<rect x="516.7" y="50.6" width="1" height="1" fill="#1a9e48" opacity="0.85"/>
<rect x="456.1" y="36.3" width="1" height="1" fill="#2fc062" opacity="0.85"/>
<rect x="473.7" y="20.5" width="1" height="1" fill="#2fc062" opacity="0.85"/>
<rect x="483.3" y="29.4" width="1" height="1" fill="#0d7a34" opacity="0.85"/>
<rect x="432.7" y="45.1" width="1" height="1" fill="#0b6e2e" opacity="0.85"/>
<rect x="480.8" y="31.7" width="1" height="1" fill="#2fc062" opacity="0.85"/>
<rect x="503.7" y="13.9" width="1" height="1" fill="#0a6a2c" opacity="0.85"/>
<rect x="443.5" y="42.8" width="1" height="1" fill="#1a9e48" opacity="0.85"/>
<rect x="460.0" y="26.0" width="1" height="1" fill="#1a9e48" opacity="0.85"/>
<rect x="527.1" y="16.9" width="1" height="1" fill="#1a9e48" opacity="0.85"/>
<rect x="470.1" y="28.9" width="1" height="1" fill="#1a9e48" opacity="0.85"/>
<rect x="516.9" y="22.5" width="1" height="1" fill="#2fc062" opacity="0.85"/>
<rect x="448.8" y="32.5" width="1" height="1" fill="#2fc062" opacity="0.85"/>
<rect x="415.7" y="22.1" width="1" height="1" fill="#1a9e48" opacity="0.85"/>
<rect x="514.1" y="17.9" width="1" height="1" fill="#0d7a34" opacity="0.85"/>
<rect x="416.8" y="29.1" width="1" height="1" fill="#0a6a2c" opacity="0.85"/>
<rect x="483.7" y="31.6" width="1" height="1" fill="#0a6a2c" opacity="0.85"/>
<rect x="522.5" y="35.7" width="1" height="1" fill="#2fc062" opacity="0.85"/>
<rect x="444.2" y="42.7" width="1" height="1" fill="#2fc062" opacity="0.85"/>
<rect x="422.0" y="32.0" width="1" height="1" fill="#0b6e2e" opacity="0.85"/>
<rect x="487.6" y="43.6" width="1" height="1" fill="#0a6a2c" opacity="0.85"/>
<rect x="447.4" y="50.6" width="1" height="1" fill="#2fc062" opacity="0.85"/>
<rect x="508.5" y="38.2" width="1" height="1" fill="#1a9e48" opacity="0.85"/>
<rect x="491.3" y="50.7" width="1" height="1" fill="#1a9e48" opacity="0.85"/>
<rect x="447.4" y="46.2" width="1" height="1" fill="#2fc062" opacity="0.85"/>
<rect x="420.4" y="16.0" width="1" height="1" fill="#0a6a2c" opacity="0.85"/>
<rect x="510.3" y="47.2" width="1" height="1" fill="#0d7a34" opacity="0.85"/>
<rect x="405.0" y="48.0" width="1" height="1" fill="#0d7a34" opacity="0.85"/>
<rect x="469.1" y="41.4" width="1" height="1" fill="#2fc062" opacity="0.85"/>
<rect x="402.8" y="44.2" width="1" height="1" fill="#1a9e48" opacity="0.85"/>
<rect x="410.2" y="23.1" width="1" height="1" fill="#1a9e48" opacity="0.85"/>
<rect x="429.1" y="23.7" width="1" height="1" fill="#1a9e48" opacity="0.85"/>
<rect x="401.5" y="17.9" width="1" height="1" fill="#0b6e2e" opacity="0.85"/>
<rect x="526.1" y="19.2" width="1" height="1" fill="#2fc062" opacity="0.85"/>
<rect x="408.6" y="26.9" width="1" height="1" fill="#2fc062" opacity="0.85"/>
<rect x="453.7" y="31.9" width="1" height="1" fill="#2fc062" opacity="0.85"/>
<rect x="442.6" y="49.2" width="1" height="1" fill="#2fc062" opacity="0.85"/>
<rect x="420.3" y="17.0" width="1" height="1" fill="#0d7a34" opacity="0.85"/>
<rect x="405.9" y="51.0" width="1" height="1" fill="#1a9e48" opacity="0.85"/>
<rect x="502.7" y="41.6" width="1" height="1" fill="#2fc062" opacity="0.85"/>
<rect x="464.7" y="18.9" width="1" height="1" fill="#0d7a34" opacity="0.85"/>
<rect x="520.7" y="35.1" width="1" height="1" fill="#0b6e2e" opacity="0.85"/>
<rect x="497.4" y="45.8" width="1" height="1" fill="#0a6a2c" opacity="0.85"/>
<rect x="449.5" y="41.1" width="1" height="1" fill="#1a9e48" opacity="0.85"/>
<rect x="439.8" y="16.3" width="1" height="1" fill="#0a6a2c" opacity="0.85"/>
<rect x="411.3" y="36.1" width="1" height="1" fill="#1a9e48" opacity="0.85"/>
<rect x="503.0" y="30.9" width="1" height="1" fill="#0a6a2c" opacity="0.85"/>
<rect x="502.7" y="22.4" width="1" height="1" fill="#0b6e2e" opacity="0.85"/>
<rect x="507.1" y="31.7" width="1" height="1" fill="#0a6a2c" opacity="0.85"/>
<rect x="417.1" y="20.9" width="1" height="1" fill="#0d7a34" opacity="0.85"/>
<rect x="427.3" y="45.8" width="1" height="1" fill="#0a6a2c" opacity="0.85"/>
<rect x="430.6" y="23.5" width="1" height="1" fill="#0a6a2c" opacity="0.85"/>
<rect x="467.4" y="26.3" width="1" height="1" fill="#0b6e2e" opacity="0.85"/>
<rect x="403.0" y="41.4" width="1" height="1" fill="#1a9e48" opacity="0.85"/>
<rect x="466.2" y="21.6" width="1" height="1" fill="#0a6a2c" opacity="0.85"/>
<rect x="479.5" y="48.2" width="1" height="1" fill="#1a9e48" opacity="0.85"/>
<rect x="528.2" y="51.8" width="1" height="1" fill="#2fc062" opacity="0.85"/>
<rect x="416.2" y="15.9" width="1" height="1" fill="#0a6a2c" opacity="0.85"/>
<rect x="500.0" y="45.3" width="1" height="1" fill="#2fc062" opacity="0.85"/>
<rect x="450.9" y="33.6" width="1" height="1" fill="#2fc062" opacity="0.85"/>
<rect x="406.3" y="37.0" width="1" height="1" fill="#0b6e2e" opacity="0.85"/>
<rect x="437.4" y="26.0" width="1" height="1" fill="#1a9e48" opacity="0.85"/>
<rect x="418.8" y="49.4" width="1" height="1" fill="#1a9e48" opacity="0.85"/>
<rect x="459.5" y="21.1" width="1" height="1" fill="#0b6e2e" opacity="0.85"/>
<rect x="501.8" y="41.2" width="1" height="1" fill="#2fc062" opacity="0.85"/>
<rect x="488.8" y="31.8" width="1" height="1" fill="#2fc062" opacity="0.85"/>
<rect x="500.6" y="17.6" width="1" height="1" fill="#0b6e2e" opacity="0.85"/>
<rect x="480.7" y="30.3" width="1" height="1" fill="#0b6e2e" opacity="0.85"/>
<rect x="432.1" y="39.2" width="1" height="1" fill="#1a9e48" opacity="0.85"/>
<rect x="457.9" y="46.3" width="1" height="1" fill="#0a6a2c" opacity="0.85"/>
<rect x="499.9" y="27.8" width="1" height="1" fill="#0a6a2c" opacity="0.85"/>
<rect x="501.1" y="41.4" width="1" height="1" fill="#2fc062" opacity="0.85"/>
<rect x="480.1" y="17.5" width="1" height="1" fill="#0a6a2c" opacity="0.85"/>
<rect x="410.5" y="49.0" width="1" height="1" fill="#1a9e48" opacity="0.85"/>
<rect x="403.9" y="51.3" width="1" height="1" fill="#0d7a34" opacity="0.85"/>
<rect x="415.9" y="31.4" width="1" height="1" fill="#0d7a34" opacity="0.85"/>
<rect x="403.6" y="38.8" width="1" height="1" fill="#2fc062" opacity="0.85"/>
<rect x="456.3" y="16.8" width="1" height="1" fill="#0a6a2c" opacity="0.85"/>
<rect x="490.4" y="41.1" width="1" height="1" fill="#0b6e2e" opacity="0.85"/>
<rect x="403.2" y="48.5" width="1" height="1" fill="#1a9e48" opacity="0.85"/>
<rect x="468.4" y="40.5" width="1" height="1" fill="#2fc062" opacity="0.85"/>
<rect x="420.5" y="34.0" width="1" height="1" fill="#0a6a2c" opacity="0.85"/>
<rect x="421.2" y="20.2" width="1" height="1" fill="#0a6a2c" opacity="0.85"/>
<rect x="491.7" y="27.5" width="1" height="1" fill="#1a9e48" opacity="0.85"/>
<rect x="459.0" y="34.7" width="1" height="1" fill="#0b6e2e" opacity="0.85"/>
<rect x="433.0" y="42.0" width="1" height="1" fill="#0a6a2c" opacity="0.85"/>
<rect x="460.9" y="50.3" width="1" height="1" fill="#0d7a34" opacity="0.85"/>
<rect x="505.2" y="42.7" width="1" height="1" fill="#0a6a2c" opacity="0.85"/>
<rect x="492.8" y="41.8" width="1" height="1" fill="#1a9e48" opacity="0.85"/>
<rect x="497.1" y="48.7" width="1" height="1" fill="#0a6a2c" opacity="0.85"/>
<rect x="413.0" y="44.8" width="1" height="1" fill="#2fc062" opacity="0.85"/>
<rect x="504.1" y="14.6" width="1" height="1" fill="#0d7a34" opacity="0.85"/>
<rect x="460.5" y="51.6" width="1" height="1" fill="#1a9e48" opacity="0.85"/>
<rect x="526.9" y="37.2" width="1" height="1" fill="#2fc062" opacity="0.85"/>
<rect x="421.6" y="42.2" width="1" height="1" fill="#2fc062" opacity="0.85"/>
<rect x="488.4" y="38.9" width="1" height="1" fill="#0b6e2e" opacity="0.85"/>
<rect x="506.6" y="46.7" width="1" height="1" fill="#0d7a34" opacity="0.85"/>
<rect x="444.0" y="43.8" width="1" height="1" fill="#2fc062" opacity="0.85"/>
<rect x="478.5" y="48.1" width="1" height="1" fill="#2fc062" opacity="0.85"/>
<rect x="428.9" y="25.7" width="1" height="1" fill="#2fc062" opacity="0.85"/>
<rect x="523.4" y="25.1" width="1" height="1" fill="#0d7a34" opacity="0.85"/>
<rect x="445.2" y="28.1" width="1" height="1" fill="#0b6e2e" opacity="0.85"/>
<rect x="522.5" y="14.0" width="1" height="1" fill="#0a6a2c" opacity="0.85"/>
<rect x="498.1" y="43.1" width="1" height="1" fill="#0d7a34" opacity="0.85"/>
<rect x="498.0" y="22.9" width="1" height="1" fill="#0b6e2e" opacity="0.85"/>
<rect x="528.8" y="41.5" width="1" height="1" fill="#1a9e48" opacity="0.85"/>
<rect x="505.5" y="23.2" width="1" height="1" fill="#2fc062" opacity="0.85"/>
<rect x="448.9" y="45.8" width="1" height="1" fill="#1a9e48" opacity="0.85"/>
<rect x="430.4" y="41.0" width="1" height="1" fill="#0b6e2e" opacity="0.85"/>
<rect x="444.2" y="46.0" width="1" height="1" fill="#2fc062" opacity="0.85"/>
<rect x="514.1" y="18.9" width="1" height="1" fill="#0d7a34" opacity="0.85"/>
<rect x="484.5" y="15.3" width="1" height="1" fill="#0d7a34" opacity="0.85"/>
<rect x="527.3" y="49.9" width="1" height="1" fill="#0a6a2c" opacity="0.85"/>
<rect x="501.6" y="43.6" width="1" height="1" fill="#1a9e48" opacity="0.85"/>
<rect x="494.6" y="27.4" width="1" height="1" fill="#0b6e2e" opacity="0.85"/>
<rect x="412.2" y="26.1" width="1" height="1" fill="#0b6e2e" opacity="0.85"/>
<rect x="517.3" y="14.5" width="1" height="1" fill="#2fc062" opacity="0.85"/>
<rect x="408.3" y="16.1" width="1" height="1" fill="#0b6e2e" opacity="0.85"/>
<rect x="425.0" y="31.3" width="1" height="1" fill="#0a6a2c" opacity="0.85"/>
<rect x="439.8" y="31.9" width="1" height="1" fill="#0a6a2c" opacity="0.85"/>
<rect x="439.6" y="37.8" width="1" height="1" fill="#0d7a34" opacity="0.85"/>
<rect x="460.6" y="48.1" width="1" height="1" fill="#2fc062" opacity="0.85"/>
<rect x="495.8" y="27.1" width="1" height="1" fill="#0b6e2e" opacity="0.85"/>
<rect x="477.6" y="51.9" width="1" height="1" fill="#0d7a34" opacity="0.85"/>
<rect x="408.0" y="30.7" width="1" height="1" fill="#0b6e2e" opacity="0.85"/>
<rect x="514.3" y="39.1" width="1" height="1" fill="#1a9e48" opacity="0.85"/>
<rect x="426.3" y="34.4" width="1" height="1" fill="#0b6e2e" opacity="0.85"/>
<rect x="484.8" y="35.4" width="1" height="1" fill="#0a6a2c" opacity="0.85"/>
<rect x="476.4" y="30.1" width="1" height="1" fill="#1a9e48" opacity="0.85"/>
<rect x="455.2" y="17.1" width="1" height="1" fill="#0d7a34" opacity="0.85"/>
<rect x="437.1" y="33.3" width="1" height="1" fill="#2fc062" opacity="0.85"/>
<rect x="412.3" y="44.1" width="1" height="1" fill="#0d7a34" opacity="0.85"/>
<rect x="504.0" y="21.9" width="1" height="1" fill="#0a6a2c" opacity="0.85"/>
<rect x="419.7" y="38.0" width="1" height="1" fill="#0b6e2e" opacity="0.85"/>
<rect x="520.8" y="21.3" width="1" height="1" fill="#2fc062" opacity="0.85"/>
<rect x="528.9" y="33.3" width="1" height="1" fill="#1a9e48" opacity="0.85"/>
<rect x="463.4" y="42.5" width="1" height="1" fill="#0b6e2e" opacity="0.85"/>
<rect x="486.6" y="19.0" width="1" height="1" fill="#0a6a2c" opacity="0.85"/>
<rect x="530.0" y="35.1" width="1" height="1" fill="#1a9e48" opacity="0.85"/>
<rect x="423.0" y="48.5" width="1" height="1" fill="#0d7a34" opacity="0.85"/>
<rect x="514.1" y="17.8" width="1" height="1" fill="#0d7a34" opacity="0.85"/>
<rect x="446.4" y="49.1" width="1" height="1" fill="#1a9e48" opacity="0.85"/>
<rect x="465.1" y="48.2" width="1" height="1" fill="#1a9e48" opacity="0.85"/>
<rect x="465.9" y="49.4" width="1" height="1" fill="#0d7a34" opacity="0.85"/>
<rect x="427.0" y="19.4" width="1" height="1" fill="#0a6a2c" opacity="0.85"/>
<rect x="504.2" y="29.8" width="1" height="1" fill="#0d7a34" opacity="0.85"/>
<rect x="489.1" y="36.8" width="1" height="1" fill="#1a9e48" opacity="0.85"/>
<rect x="454.1" y="33.3" width="1" height="1" fill="#0a6a2c" opacity="0.85"/>
<rect x="406.1" y="43.3" width="1" height="1" fill="#2fc062" opacity="0.85"/>
<rect x="517.3" y="19.9" width="1" height="1" fill="#1a9e48" opacity="0.85"/>
<rect x="469.6" y="22.4" width="1" height="1" fill="#1a9e48" opacity="0.85"/>
<rect x="429.4" y="20.2" width="1" height="1" fill="#1a9e48" opacity="0.85"/>
<rect x="526.9" y="41.3" width="1" height="1" fill="#0b6e2e" opacity="0.85"/>
<rect x="497.1" y="40.9" width="1" height="1" fill="#1a9e48" opacity="0.85"/>
<rect x="434.7" y="45.8" width="1" height="1" fill="#0d7a34" opacity="0.85"/>
<rect x="405.9" y="49.8" width="1" height="1" fill="#0a6a2c" opacity="0.85"/>
<rect x="512.9" y="46.9" width="1" height="1" fill="#0d7a34" opacity="0.85"/>
<rect x="487.8" y="19.0" width="1" height="1" fill="#0a6a2c" opacity="0.85"/>
<rect x="421.5" y="21.8" width="1" height="1" fill="#0d7a34" opacity="0.85"/>
<rect x="443.0" y="43.0" width="1" height="1" fill="#1a9e48" opacity="0.85"/>
<rect x="529.5" y="22.3" width="1" height="1" fill="#0a6a2c" opacity="0.85"/>
<rect x="445.7" y="30.3" width="1" height="1" fill="#2fc062" opacity="0.85"/>
<rect x="420.2" y="21.9" width="1" height="1" fill="#0b6e2e" opacity="0.85"/>
<rect x="417.7" y="36.2" width="1" height="1" fill="#0b6e2e" opacity="0.85"/>
<rect x="465.1" y="20.6" width="1" height="1" fill="#0a6a2c" opacity="0.85"/>
<rect x="509.0" y="43.1" width="1" height="1" fill="#0d7a34" opacity="0.85"/>
<rect x="462.7" y="49.9" width="1" height="1" fill="#0a6a2c" opacity="0.85"/>
<rect x="466.9" y="31.7" width="1" height="1" fill="#0d7a34" opacity="0.85"/>
<rect x="417.9" y="20.0" width="1" height="1" fill="#0b6e2e" opacity="0.85"/>
<rect x="445.1" y="28.3" width="1" height="1" fill="#0b6e2e" opacity="0.85"/>
<rect x="451.8" y="27.1" width="1" height="1" fill="#0a6a2c" opacity="0.85"/>
<rect x="443.0" y="40.6" width="1" height="1" fill="#0a6a2c" opacity="0.85"/>
<rect x="483.6" y="31.4" width="1" height="1" fill="#0d7a34" opacity="0.85"/>
<rect x="470.8" y="15.1" width="1" height="1" fill="#0a6a2c" opacity="0.85"/>
<rect x="445.4" y="37.8" width="1" height="1" fill="#0a6a2c" opacity="0.85"/>
<rect x="523.7" y="37.4" width="1" height="1" fill="#1a9e48" opacity="0.85"/>
<rect x="471.6" y="39.0" width="1" height="1" fill="#0b6e2e" opacity="0.85"/>
<rect x="523.4" y="19.1" width="1" height="1" fill="#2fc062" opacity="0.85"/>
<rect x="487.8" y="28.9" width="1" height="1" fill="#2fc062" opacity="0.85"/>
<rect x="476.3" y="39.6" width="1" height="1" fill="#2fc062" opacity="0.85"/>
<rect x="503.9" y="19.5" width="1" height="1" fill="#0d7a34" opacity="0.85"/>
<rect x="451.7" y="20.5" width="1" height="1" fill="#0b6e2e" opacity="0.85"/>
<rect x="416.8" y="48.3" width="1" height="1" fill="#0b6e2e" opacity="0.85"/>
<rect x="479.7" y="44.6" width="1" height="1" fill="#0a6a2c" opacity="0.85"/>
<rect x="463.9" y="27.5" width="1" height="1" fill="#0b6e2e" opacity="0.85"/>
<rect x="444.8" y="34.0" width="1" height="1" fill="#2fc062" opacity="0.85"/>
<rect x="482.7" y="31.9" width="1" height="1" fill="#2fc062" opacity="0.85"/>
<rect x="432.3" y="37.0" width="1" height="1" fill="#0d7a34" opacity="0.85"/>
<rect x="502.0" y="23.5" width="1" height="1" fill="#2fc062" opacity="0.85"/>
<rect x="503.8" y="16.1" width="1" height="1" fill="#0d7a34" opacity="0.85"/>
<rect x="400.6" y="47.8" width="1" height="1" fill="#2fc062" opacity="0.85"/>
<rect x="506.6" y="19.7" width="1" height="1" fill="#0a6a2c" opacity="0.85"/>
<rect x="401.9" y="20.9" width="1" height="1" fill="#0b6e2e" opacity="0.85"/>
<rect x="495.5" y="18.9" width="1" height="1" fill="#2fc062" opacity="0.85"/>
<rect x="428.9" y="15.7" width="1" height="1" fill="#2fc062" opacity="0.85"/>
<rect x="415.0" y="50.9" width="1" height="1" fill="#0b6e2e" opacity="0.85"/>
<rect x="523.0" y="34.7" width="1" height="1" fill="#0b6e2e" opacity="0.85"/>
<rect x="500.2" y="19.2" width="1" height="1" fill="#1a9e48" opacity="0.85"/>
<rect x="404.2" y="32.6" width="1" height="1" fill="#0a6a2c" opacity="0.85"/>
<rect x="454.3" y="37.7" width="1" height="1" fill="#1a9e48" opacity="0.85"/>
<rect x="477.2" y="51.1" width="1" height="1" fill="#0b6e2e" opacity="0.85"/>
<rect x="410.0" y="19.7" width="1" height="1" fill="#0b6e2e" opacity="0.85"/>
<rect x="401.9" y="40.8" width="1" height="1" fill="#1a9e48" opacity="0.85"/>
<rect x="413.7" y="19.7" width="1" height="1" fill="#1a9e48" opacity="0.85"/>
<rect x="424.9" y="27.3" width="1" height="1" fill="#1a9e48" opacity="0.85"/>
<rect x="446.2" y="51.2" width="1" height="1" fill="#0a6a2c" opacity="0.85"/>
<rect x="441.6" y="29.2" width="1" height="1" fill="#0a6a2c" opacity="0.85"/>
<rect x="429.5" y="51.0" width="1" height="1" fill="#1a9e48" opacity="0.85"/>
<rect x="420.7" y="47.9" width="1" height="1" fill="#2fc062" opacity="0.85"/>
<rect x="481.0" y="38.7" width="1" height="1" fill="#0a6a2c" opacity="0.85"/>
<rect x="468.5" y="39.7" width="1" height="1" fill="#0b6e2e" opacity="0.85"/>
<rect x="501.6" y="34.6" width="1" height="1" fill="#0d7a34" opacity="0.85"/>
<rect x="400.8" y="30.4" width="1" height="1" fill="#0b6e2e" opacity="0.85"/>
<rect x="477.7" y="26.5" width="1" height="1" fill="#0a6a2c" opacity="0.85"/>
<rect x="466.0" y="19.2" width="1" height="1" fill="#0b6e2e" opacity="0.85"/>
<rect x="518.8" y="35.1" width="1" height="1" fill="#1a9e48" opacity="0.85"/>
<rect x="464.1" y="40.0" width="1" height="1" fill="#1a9e48" opacity="0.85"/>
<rect x="489.5" y="13.7" width="1" height="1" fill="#0d7a34" opacity="0.85"/>
<rect x="522.0" y="46.0" width="1" height="1" fill="#2fc062" opacity="0.85"/>
<rect x="453.2" y="39.3" width="1" height="1" fill="#0d7a34" opacity="0.85"/>
<rect x="448.8" y="39.0" width="1" height="1" fill="#2fc062" opacity="0.85"/>
<rect x="524.8" y="50.3" width="1" height="1" fill="#0d7a34" opacity="0.85"/>
<rect x="420.1" y="48.0" width="1" height="1" fill="#1a9e48" opacity="0.85"/>
<rect x="434.2" y="48.3" width="1" height="1" fill="#0d7a34" opacity="0.85"/>
<rect x="506.6" y="51.6" width="1" height="1" fill="#2fc062" opacity="0.85"/>
<rect x="440.7" y="42.7" width="1" height="1" fill="#2fc062" opacity="0.85"/>
<rect x="503.9" y="26.5" width="1" height="1" fill="#0d7a34" opacity="0.85"/>
<rect x="511.4" y="32.3" width="1" height="1" fill="#2fc062" opacity="0.85"/>
<rect x="511.5" y="51.6" width="1" height="1" fill="#0a6a2c" opacity="0.85"/>
<rect x="520.9" y="42.6" width="1" height="1" fill="#1a9e48" opacity="0.85"/>
<rect x="455.1" y="16.7" width="1" height="1" fill="#0a6a2c" opacity="0.85"/>
<rect x="517.8" y="36.1" width="1" height="1" fill="#0a6a2c" opacity="0.85"/>
<rect x="491.4" y="13.7" width="1" height="1" fill="#0d7a34" opacity="0.85"/>
<rect x="500.8" y="17.5" width="1" height="1" fill="#2fc062" opacity="0.85"/>
<ellipse cx="498.0" cy="38.5" rx="4.5" ry="9.8" fill="url(#bk)" opacity="0.8" filter="url(#soft)"/>
<path d="M189.5,43.7 L202.7,43.7 L202.7,40.900000000000006 L213.2,46.2 L202.7,51.5 L202.7,48.7 L189.5,48.7 Z" fill="#45bb57"/>
<path d="M364.5,43.7 L377.5,43.7 L377.5,40.900000000000006 L388,46.2 L377.5,51.5 L377.5,48.7 L364.5,48.7 Z" fill="#45bb57"/>
<text x="14.6" y="20.8" font-family="'Liberation Serif', 'Times New Roman', serif" font-size="19.5" fill="#111" text-anchor="start" font-weight="normal" font-style="normal" >(a)</text>
<clipPath id="cb"><rect x="47.2" y="95.9" width="228.3" height="167.4"/></clipPath>
<g stroke-width="1.1" stroke-dasharray="3.6,3" fill="none"><line x1="47.2" y1="229" x2="114.5" y2="229" stroke="#e0307a"/><line x1="114.5" y1="229" x2="188.5" y2="229" stroke="#4040c0"/><line x1="114.7" y1="231" x2="114.7" y2="263.3" stroke="#e0307a"/><line x1="188.5" y1="231" x2="188.5" y2="263.3" stroke="#4040c0"/></g>
<g clip-path="url(#cb)">
<path d="M47.5,261.5 C51.2,261.2 62.9,260.5 70.0,260.0 C77.1,259.5 85.5,259.0 90.0,258.6 C94.5,258.2 95.4,258.3 97.3,257.6 C99.2,256.9 99.9,255.7 101.6,254.3 C103.3,252.9 105.8,250.5 107.5,249.2 C109.2,247.9 110.5,247.2 112.0,246.6 C113.5,246.0 114.7,245.7 116.2,245.8 C117.7,245.9 119.3,246.6 121.0,247.3 C122.7,248.0 123.8,249.1 126.4,249.9 C129.0,250.7 132.9,251.8 136.5,252.3 C140.1,252.8 144.5,253.0 148.2,253.0 C151.8,253.0 155.2,252.9 158.4,252.4 C161.6,251.9 163.9,251.4 167.1,249.9 C170.2,248.4 174.4,246.0 177.3,243.6 C180.2,241.2 182.6,237.6 184.5,235.5 C186.4,233.4 186.7,233.5 188.5,230.9 C190.3,228.3 192.8,224.2 195.5,220.0 C198.2,215.8 201.5,210.5 204.5,205.5 C207.5,200.5 210.6,195.3 213.6,190.0 C216.6,184.7 219.7,179.2 222.7,173.6 C225.7,168.0 228.9,162.0 231.8,156.4 C234.7,150.8 237.2,145.9 240.0,140.0 C242.8,134.1 246.5,126.3 248.9,121.1 C251.3,115.8 252.7,112.9 254.5,108.5 C256.4,104.1 259.1,96.8 260.0,94.5" fill="none" stroke="#1c1cd8" stroke-width="2.7" stroke-linejoin="round" stroke-linecap="round" />
<path d="M47.5,261.2 C51.2,260.9 62.9,260.1 70.0,259.6 C77.1,259.1 85.5,258.6 90.0,258.2 C94.5,257.8 95.5,257.6 97.3,257.0 C99.0,256.4 99.4,255.9 100.5,254.6 C101.6,253.3 102.6,251.5 104.0,249.0 C105.4,246.5 107.3,243.1 108.9,239.8 C110.5,236.5 111.3,233.6 113.5,229.2 C115.7,224.8 118.9,219.1 122.0,213.5 C125.1,207.9 128.8,201.4 132.0,195.5 C135.2,189.6 138.3,184.0 141.5,178.2 C144.7,172.4 148.0,166.5 151.3,160.8 C154.6,155.1 158.1,149.6 161.5,144.0 C164.9,138.4 168.6,132.9 172.0,127.5 C175.4,122.1 178.8,116.9 182.2,111.6 C185.6,106.3 190.5,98.9 192.5,95.9 C194.5,92.9 193.8,94.0 194.0,93.6" fill="none" stroke="#ec1870" stroke-width="2.7" stroke-linejoin="round" stroke-linecap="round" />
</g>
<rect x="47.2" y="95.9" width="228.3" height="167.4" fill="none" stroke="#222" stroke-width="1.4"/>
<line x1="43.2" y1="260.2" x2="47.2" y2="260.2" stroke="#222" stroke-width="1.1" />
<text x="40.2" y="263.3" font-family="'Liberation Sans', Arial, sans-serif" font-size="9.4" fill="#222" text-anchor="end" font-weight="normal" font-style="normal" stroke="#222" stroke-width="0.2">0</text>
<line x1="44.8" y1="244.1" x2="47.2" y2="244.1" stroke="#222" stroke-width="1.1" />
<line x1="43.2" y1="227.9" x2="47.2" y2="227.9" stroke="#222" stroke-width="1.1" />
<text x="40.2" y="231.0" font-family="'Liberation Sans', Arial, sans-serif" font-size="9.4" fill="#222" text-anchor="end" font-weight="normal" font-style="normal" stroke="#222" stroke-width="0.2">10</text>
<line x1="44.8" y1="211.8" x2="47.2" y2="211.8" stroke="#222" stroke-width="1.1" />
<line x1="43.2" y1="195.7" x2="47.2" y2="195.7" stroke="#222" stroke-width="1.1" />
<text x="40.2" y="198.8" font-family="'Liberation Sans', Arial, sans-serif" font-size="9.4" fill="#222" text-anchor="end" font-weight="normal" font-style="normal" stroke="#222" stroke-width="0.2">20</text>
<line x1="44.8" y1="179.6" x2="47.2" y2="179.6" stroke="#222" stroke-width="1.1" />
<line x1="43.2" y1="163.4" x2="47.2" y2="163.4" stroke="#222" stroke-width="1.1" />
<text x="40.2" y="166.5" font-family="'Liberation Sans', Arial, sans-serif" font-size="9.4" fill="#222" text-anchor="end" font-weight="normal" font-style="normal" stroke="#222" stroke-width="0.2">30</text>
<line x1="44.8" y1="147.3" x2="47.2" y2="147.3" stroke="#222" stroke-width="1.1" />
<line x1="43.2" y1="131.2" x2="47.2" y2="131.2" stroke="#222" stroke-width="1.1" />
<text x="40.2" y="134.3" font-family="'Liberation Sans', Arial, sans-serif" font-size="9.4" fill="#222" text-anchor="end" font-weight="normal" font-style="normal" stroke="#222" stroke-width="0.2">40</text>
<line x1="44.8" y1="115.1" x2="47.2" y2="115.1" stroke="#222" stroke-width="1.1" />
<line x1="43.2" y1="98.9" x2="47.2" y2="98.9" stroke="#222" stroke-width="1.1" />
<text x="40.2" y="102.0" font-family="'Liberation Sans', Arial, sans-serif" font-size="9.4" fill="#222" text-anchor="end" font-weight="normal" font-style="normal" stroke="#222" stroke-width="0.2">50</text>
<line x1="60.5" y1="263.3" x2="60.5" y2="265.7" stroke="#222" stroke-width="1.1" />
<line x1="102.8" y1="263.3" x2="102.8" y2="267.3" stroke="#222" stroke-width="1.1" />
<text x="102.8" y="277.7" font-family="'Liberation Sans', Arial, sans-serif" font-size="9.4" fill="#222" text-anchor="middle" font-weight="normal" font-style="normal" stroke="#222" stroke-width="0.2">0.3</text>
<line x1="145.1" y1="263.3" x2="145.1" y2="265.7" stroke="#222" stroke-width="1.1" />
<line x1="187.4" y1="263.3" x2="187.4" y2="267.3" stroke="#222" stroke-width="1.1" />
<text x="187.4" y="277.7" font-family="'Liberation Sans', Arial, sans-serif" font-size="9.4" fill="#222" text-anchor="middle" font-weight="normal" font-style="normal" stroke="#222" stroke-width="0.2">0.6</text>
<line x1="229.7" y1="263.3" x2="229.7" y2="265.7" stroke="#222" stroke-width="1.1" />
<line x1="272.0" y1="263.3" x2="272.0" y2="267.3" stroke="#222" stroke-width="1.1" />
<text x="272.0" y="277.7" font-family="'Liberation Sans', Arial, sans-serif" font-size="9.4" fill="#222" text-anchor="middle" font-weight="normal" font-style="normal" stroke="#222" stroke-width="0.2">0.9</text>
<text x="92.3" y="294" font-family="'Liberation Sans', Arial, sans-serif" font-size="13.2" fill="#222" textLength="124" lengthAdjust="spacingAndGlyphs">Potential (V vs. SCE)</text>
<text transform="translate(21.6,186.1) rotate(-90)" font-family="'Liberation Sans', Arial, sans-serif" font-size="13.3" fill="#222" text-anchor="middle"><tspan font-style="italic">j</tspan> (mA cm<tspan font-size="8.5" dy="-5">-2</tspan><tspan dy="5">)</tspan></text>
<line x1="48.8" y1="104.4" x2="65.4" y2="104.4" stroke="#ec1870" stroke-width="2.5" />
<line x1="48.8" y1="118.4" x2="65.4" y2="118.4" stroke="#1c1cd8" stroke-width="2.5" />
<text x="67.4" y="107.7" font-family="'Liberation Sans', Arial, sans-serif" font-size="10.4" fill="#222" textLength="112.5" lengthAdjust="spacingAndGlyphs">1 M KOH + 0.33 M Urea</text>
<text x="67.4" y="121.2" font-family="'Liberation Sans', Arial, sans-serif" font-size="10.4" fill="#222" text-anchor="start" font-weight="normal" font-style="normal" >1 M KOH</text>
<text x="113.1" y="168.8" font-family="'Liberation Sans', Arial, sans-serif" font-size="13.2" fill="#e8307a" text-anchor="start" font-weight="normal" font-style="normal" >UOR</text>
<text x="214.0" y="206.4" font-family="'Liberation Sans', Arial, sans-serif" font-size="13.2" fill="#2828c0" text-anchor="start" font-weight="normal" font-style="normal" >OER</text>
<text x="128.5" y="225.2" font-family="'Liberation Sans', Arial, sans-serif" font-size="9" fill="#333" textLength="55.1" lengthAdjust="spacingAndGlyphs">ΔV = 264 mV</text>
<text x="119.8" y="244.1" font-family="'Liberation Sans', Arial, sans-serif" font-size="8" fill="#2a2ad0" text-anchor="start" font-weight="normal" font-style="normal" >Ni</text>
<line x1="128.0" y1="241.4" x2="138.5" y2="241.4" stroke="#2a2ad0" stroke-width="1" />
<path d="M137.5,239.3 L141.8,241.4 L137.5,243.5 Z" fill="#2a2ad0"/>
<text x="143.1" y="244.1" font-family="'Liberation Sans', Arial, sans-serif" font-size="8" fill="#2a2ad0">Ni<tspan font-size="5.5" dy="-3.8">3+</tspan></text>
<text x="5.8" y="106.8" font-family="'Liberation Serif', 'Times New Roman', serif" font-size="19.5" fill="#111" text-anchor="start" font-weight="normal" font-style="normal" >(b)</text>
<clipPath id="cc"><rect x="321.4" y="92.2" width="222.80000000000007" height="164.8"/></clipPath>
<g stroke-width="1.1" stroke-dasharray="3.6,3" fill="none"><line x1="321.4" y1="174.9" x2="544.2" y2="174.9" stroke="#8a8a8a"/><line x1="479" y1="176" x2="479" y2="257.0" stroke="#ee2a7b"/><line x1="512.8" y1="176" x2="512.8" y2="257.0" stroke="#4040c8"/><line x1="476.4" y1="178.7" x2="445" y2="195.8" stroke="#ee2a7b"/></g>
<path d="M440.4,198.4 L445.6,192.6 L448,197.2 Z" fill="#ee2a7b"/>
<g clip-path="url(#cc)">
<path d="M322.0,246.6 C328.3,246.5 347.8,246.2 360.0,246.0 C372.2,245.8 388.0,245.6 395.0,245.6 C402.0,245.6 399.7,245.7 402.0,246.0 C404.3,246.3 406.1,246.6 408.7,247.5 C411.3,248.4 414.8,250.8 417.5,251.2 C420.2,251.6 422.5,250.6 425.0,250.0 C427.5,249.4 427.8,249.0 432.7,247.5 C437.6,246.0 447.9,243.1 454.5,240.9 C461.1,238.7 467.3,236.6 472.0,234.4 C476.7,232.2 479.6,230.4 482.9,227.8 C486.2,225.2 488.7,222.6 491.6,219.1 C494.5,215.6 497.8,211.6 500.4,207.1 C502.9,202.6 505.4,195.7 506.9,191.8 C508.4,188.0 508.6,186.8 509.5,184.0 C510.4,181.2 511.3,179.5 512.4,174.8 C513.5,170.1 514.9,162.3 516.2,156.0 C517.5,149.7 518.6,144.1 520.0,137.2 C521.4,130.3 523.1,122.1 524.6,114.6 C526.1,107.1 528.4,96.1 529.2,92.0 C530.0,87.9 529.5,90.3 529.6,90.0" fill="none" stroke="#1c1cd8" stroke-width="2.5" stroke-linejoin="round" stroke-linecap="round" />
<path d="M322.0,243.8 C328.3,243.7 347.8,243.5 360.0,243.4 C372.2,243.3 387.7,243.2 395.0,243.3 C402.3,243.4 401.7,243.7 404.0,243.9 C406.3,244.2 406.9,244.0 408.7,244.8 C410.5,245.6 412.9,248.5 414.8,248.6 C416.7,248.7 418.1,246.3 420.0,245.2 C421.9,244.1 423.0,243.6 426.2,242.0 C429.4,240.4 434.6,238.0 439.3,235.5 C444.0,233.0 450.5,229.9 454.5,227.2 C458.5,224.5 460.8,222.3 463.3,219.1 C465.9,215.9 468.2,211.5 469.8,208.2 C471.4,204.8 472.0,202.4 473.0,199.0 C474.0,195.6 474.7,192.0 475.6,188.0 C476.5,184.0 477.4,180.6 478.6,174.8 C479.8,169.1 481.5,160.4 483.0,153.5 C484.5,146.6 485.9,140.3 487.5,133.5 C489.1,126.7 490.8,119.4 492.4,112.5 C494.0,105.6 496.4,95.8 497.3,92.0 C498.2,88.2 497.7,90.3 497.8,90.0" fill="none" stroke="#ec1870" stroke-width="2.5" stroke-linejoin="round" stroke-linecap="round" />
</g>
<rect x="321.4" y="92.2" width="222.80000000000007" height="164.8" fill="none" stroke="#222" stroke-width="1.4"/>
<line x1="317.4" y1="243.5" x2="321.4" y2="243.5" stroke="#222" stroke-width="1.1" />
<text x="315.8" y="245.4" font-family="'Liberation Sans', Arial, sans-serif" font-size="9.6" fill="#222" text-anchor="end" font-weight="normal" font-style="normal" stroke="#222" stroke-width="0.2">0</text>
<line x1="319.0" y1="229.9" x2="321.4" y2="229.9" stroke="#222" stroke-width="1.1" />
<line x1="317.4" y1="216.2" x2="321.4" y2="216.2" stroke="#222" stroke-width="1.1" />
<text x="315.8" y="218.1" font-family="'Liberation Sans', Arial, sans-serif" font-size="9.6" fill="#222" text-anchor="end" font-weight="normal" font-style="normal" stroke="#222" stroke-width="0.2">2</text>
<line x1="319.0" y1="202.6" x2="321.4" y2="202.6" stroke="#222" stroke-width="1.1" />
<line x1="317.4" y1="188.9" x2="321.4" y2="188.9" stroke="#222" stroke-width="1.1" />
<text x="315.8" y="190.8" font-family="'Liberation Sans', Arial, sans-serif" font-size="9.6" fill="#222" text-anchor="end" font-weight="normal" font-style="normal" stroke="#222" stroke-width="0.2">4</text>
<line x1="319.0" y1="175.3" x2="321.4" y2="175.3" stroke="#222" stroke-width="1.1" />
<line x1="317.4" y1="161.7" x2="321.4" y2="161.7" stroke="#222" stroke-width="1.1" />
<text x="315.8" y="163.6" font-family="'Liberation Sans', Arial, sans-serif" font-size="9.6" fill="#222" text-anchor="end" font-weight="normal" font-style="normal" stroke="#222" stroke-width="0.2">6</text>
<line x1="319.0" y1="148.0" x2="321.4" y2="148.0" stroke="#222" stroke-width="1.1" />
<line x1="317.4" y1="134.4" x2="321.4" y2="134.4" stroke="#222" stroke-width="1.1" />
<text x="315.8" y="136.3" font-family="'Liberation Sans', Arial, sans-serif" font-size="9.6" fill="#222" text-anchor="end" font-weight="normal" font-style="normal" stroke="#222" stroke-width="0.2">8</text>
<line x1="319.0" y1="120.7" x2="321.4" y2="120.7" stroke="#222" stroke-width="1.1" />
<line x1="317.4" y1="107.1" x2="321.4" y2="107.1" stroke="#222" stroke-width="1.1" />
<text x="315.8" y="109.0" font-family="'Liberation Sans', Arial, sans-serif" font-size="9.6" fill="#222" text-anchor="end" font-weight="normal" font-style="normal" stroke="#222" stroke-width="0.2">10</text>
<line x1="319.0" y1="93.5" x2="321.4" y2="93.5" stroke="#222" stroke-width="1.1" />
<line x1="321.4" y1="257.0" x2="321.4" y2="261.0" stroke="#222" stroke-width="1.1" />
<text x="321.4" y="270.3" font-family="'Liberation Sans', Arial, sans-serif" font-size="9.6" fill="#222" text-anchor="middle" font-weight="normal" font-style="normal" stroke="#222" stroke-width="0.2">0.5</text>
<line x1="357.5" y1="257.0" x2="357.5" y2="259.4" stroke="#222" stroke-width="1.1" />
<line x1="393.6" y1="257.0" x2="393.6" y2="261.0" stroke="#222" stroke-width="1.1" />
<text x="393.6" y="270.3" font-family="'Liberation Sans', Arial, sans-serif" font-size="9.6" fill="#222" text-anchor="middle" font-weight="normal" font-style="normal" stroke="#222" stroke-width="0.2">1.0</text>
<line x1="429.7" y1="257.0" x2="429.7" y2="259.4" stroke="#222" stroke-width="1.1" />
<line x1="465.8" y1="257.0" x2="465.8" y2="261.0" stroke="#222" stroke-width="1.1" />
<text x="465.8" y="270.3" font-family="'Liberation Sans', Arial, sans-serif" font-size="9.6" fill="#222" text-anchor="middle" font-weight="normal" font-style="normal" stroke="#222" stroke-width="0.2">1.5</text>
<line x1="501.9" y1="257.0" x2="501.9" y2="259.4" stroke="#222" stroke-width="1.1" />
<line x1="538.0" y1="257.0" x2="538.0" y2="261.0" stroke="#222" stroke-width="1.1" />
<text x="538.0" y="270.3" font-family="'Liberation Sans', Arial, sans-serif" font-size="9.6" fill="#222" text-anchor="middle" font-weight="normal" font-style="normal" stroke="#222" stroke-width="0.2">2.0</text>
<text x="371.8" y="284.1" font-family="'Liberation Sans', Arial, sans-serif" font-size="12.8" fill="#222" textLength="122.7" lengthAdjust="spacingAndGlyphs">Potential (V vs. SCE)</text>
<text transform="translate(296,174.8) rotate(-90)" font-family="'Liberation Sans', Arial, sans-serif" font-size="13" fill="#222" text-anchor="middle"><tspan font-style="italic">j</tspan> (mA cm<tspan font-size="8.3" dy="-5">-2</tspan><tspan dy="5">)</tspan></text>
<line x1="325.0" y1="101.4" x2="353.0" y2="101.4" stroke="#ec1870" stroke-width="2.5" />
<line x1="325.0" y1="116.7" x2="353.0" y2="116.7" stroke="#1c1cd8" stroke-width="2.5" />
<text x="357.7" y="106" font-family="'Liberation Sans', Arial, sans-serif" font-size="10.5" fill="#222" textLength="101" lengthAdjust="spacingAndGlyphs">1M KOH+0.33M urea</text>
<text x="357.7" y="120.5" font-family="'Liberation Sans', Arial, sans-serif" font-size="10.5" fill="#222" text-anchor="start" font-weight="normal" font-style="normal" >1M KOH</text>
<text x="336.4" y="211.7" font-family="'Liberation Sans', Arial, sans-serif" font-size="11.8" fill="#ee2a7b">1.58 V at 5mA cm<tspan font-size="7.5" dy="-4.5">-2</tspan></text>
<text x="281.0" y="110.0" font-family="'Liberation Serif', 'Times New Roman', serif" font-size="19.5" fill="#111" text-anchor="start" font-weight="normal" font-style="normal" >(c)</text>
<rect x="13.1" y="313.6" width="300.9" height="157.3" fill="#00d2ea"/>
<rect x="13.1" y="313.6" width="32" height="28.2" fill="#ffffff"/>
<text x="13.8" y="331.5" font-family="'Liberation Serif', 'Times New Roman', serif" font-size="19.5" fill="#111" text-anchor="start" font-weight="normal" font-style="normal" >(d)</text>
<defs><linearGradient id="plateg" x1="0" y1="0" x2="1" y2="0.3"><stop offset="0" stop-color="#767676"/><stop offset="1" stop-color="#a8a8a8"/></linearGradient></defs>
<path d="M36,402 L115.5,401.5 L103,455 L23,456 Z" fill="url(#plateg)"/>
<path d="M23,456 L103,455 L102.2,460.5 L22.2,461 Z" fill="#e2e2e2"/>
<path d="M103,455 L115.5,401.5 L116.5,403 L103.5,460.5 Z" fill="#c8c8c8"/>
<path d="M100,405 C88,420 84,440 94,443 C102,445 107,433 104,424" fill="none" stroke="#222" stroke-width="0.8" stroke-dasharray="2,1.5"/>
<g transform="translate(44.0,362.5) rotate(-6.94)"><rect x="-7.5" y="-6.5" width="14.9" height="70.9" rx="7.4" fill="#f41414"/><g fill="#f41414"><circle cx="-4.7" cy="-1.9" r="3.1"/><circle cx="4.7" cy="-1.9" r="3.1"/><circle cx="-4.7" cy="3.7" r="3.1"/><circle cx="4.7" cy="3.7" r="3.1"/><circle cx="-4.7" cy="9.3" r="3.1"/><circle cx="4.7" cy="9.3" r="3.1"/><circle cx="-4.7" cy="14.9" r="3.1"/><circle cx="4.7" cy="14.9" r="3.1"/><circle cx="-4.7" cy="20.5" r="3.1"/><circle cx="4.7" cy="20.5" r="3.1"/><circle cx="-4.7" cy="26.0" r="3.1"/><circle cx="4.7" cy="26.0" r="3.1"/><circle cx="-4.7" cy="31.6" r="3.1"/><circle cx="4.7" cy="31.6" r="3.1"/><circle cx="-4.7" cy="37.2" r="3.1"/><circle cx="4.7" cy="37.2" r="3.1"/><circle cx="-4.7" cy="42.8" r="3.1"/><circle cx="4.7" cy="42.8" r="3.1"/><circle cx="-4.7" cy="48.4" r="3.1"/><circle cx="4.7" cy="48.4" r="3.1"/><circle cx="-4.7" cy="53.9" r="3.1"/><circle cx="4.7" cy="53.9" r="3.1"/><circle cx="-4.7" cy="59.5" r="3.1"/><circle cx="4.7" cy="59.5" r="3.1"/></g><rect x="-3.6" y="-6.2" width="5.6" height="70.3" rx="1.7" fill="#ffee00"/><path d="M2.9,0.0 L2.6,3.5 L2.3,7.0 L3.0,10.5 L2.8,14.0 L1.8,17.5 L2.3,21.0 L2.2,24.5 L1.8,28.0 L2.9,31.5 L2.1,35.0 L1.8,38.5 L2.1,42.0 L2.8,45.5 L2.0,49.0 L2.4,52.5 L2.4,56.0" fill="none" stroke="#30e030" stroke-width="1.2"/><g fill="#ffffff" opacity="0.9"><circle cx="-5.3" cy="-1.9" r="0.75"/><circle cx="5.3" cy="-1.9" r="0.75"/><circle cx="3.1" cy="0.9" r="0.95"/><circle cx="-5.3" cy="3.7" r="0.75"/><circle cx="5.3" cy="3.7" r="0.75"/><circle cx="3.1" cy="6.5" r="0.95"/><circle cx="-5.3" cy="9.3" r="0.75"/><circle cx="5.3" cy="9.3" r="0.75"/><circle cx="3.1" cy="12.1" r="0.95"/><circle cx="-5.3" cy="14.9" r="0.75"/><circle cx="5.3" cy="14.9" r="0.75"/><circle cx="3.1" cy="17.7" r="0.95"/><circle cx="-5.3" cy="20.5" r="0.75"/><circle cx="5.3" cy="20.5" r="0.75"/><circle cx="3.1" cy="23.2" r="0.95"/><circle cx="-5.3" cy="26.0" r="0.75"/><circle cx="5.3" cy="26.0" r="0.75"/><circle cx="3.1" cy="28.8" r="0.95"/><circle cx="-5.3" cy="31.6" r="0.75"/><circle cx="5.3" cy="31.6" r="0.75"/><circle cx="3.1" cy="34.4" r="0.95"/><circle cx="-5.3" cy="37.2" r="0.75"/><circle cx="5.3" cy="37.2" r="0.75"/><circle cx="3.1" cy="40.0" r="0.95"/><circle cx="-5.3" cy="42.8" r="0.75"/><circle cx="5.3" cy="42.8" r="0.75"/><circle cx="3.1" cy="45.6" r="0.95"/><circle cx="-5.3" cy="48.4" r="0.75"/><circle cx="5.3" cy="48.4" r="0.75"/><circle cx="3.1" cy="51.1" r="0.95"/><circle cx="-5.3" cy="53.9" r="0.75"/><circle cx="5.3" cy="53.9" r="0.75"/><circle cx="3.1" cy="56.7" r="0.95"/><circle cx="-5.3" cy="59.5" r="0.75"/><circle cx="5.3" cy="59.5" r="0.75"/><circle cx="3.1" cy="62.3" r="0.95"/></g></g>
<g transform="translate(82.0,369.5) rotate(10.11)"><rect x="-7.5" y="-6.5" width="14.9" height="64.3" rx="7.4" fill="#f41414"/><g fill="#f41414"><circle cx="-4.7" cy="-1.9" r="3.1"/><circle cx="4.7" cy="-1.9" r="3.1"/><circle cx="-4.7" cy="3.7" r="3.1"/><circle cx="4.7" cy="3.7" r="3.1"/><circle cx="-4.7" cy="9.3" r="3.1"/><circle cx="4.7" cy="9.3" r="3.1"/><circle cx="-4.7" cy="14.9" r="3.1"/><circle cx="4.7" cy="14.9" r="3.1"/><circle cx="-4.7" cy="20.5" r="3.1"/><circle cx="4.7" cy="20.5" r="3.1"/><circle cx="-4.7" cy="26.0" r="3.1"/><circle cx="4.7" cy="26.0" r="3.1"/><circle cx="-4.7" cy="31.6" r="3.1"/><circle cx="4.7" cy="31.6" r="3.1"/><circle cx="-4.7" cy="37.2" r="3.1"/><circle cx="4.7" cy="37.2" r="3.1"/><circle cx="-4.7" cy="42.8" r="3.1"/><circle cx="4.7" cy="42.8" r="3.1"/><circle cx="-4.7" cy="48.4" r="3.1"/><circle cx="4.7" cy="48.4" r="3.1"/></g><rect x="-3.6" y="-6.2" width="5.6" height="63.7" rx="1.7" fill="#ffee00"/><path d="M2.5,0.0 L2.8,3.5 L2.7,7.0 L2.6,10.5 L2.1,14.0 L2.6,17.5 L2.2,21.0 L2.7,24.5 L2.7,28.0 L3.1,31.5 L1.8,35.0 L2.9,38.5 L2.9,42.0 L2.1,45.5 L2.6,49.0" fill="none" stroke="#30e030" stroke-width="1.2"/><g fill="#ffffff" opacity="0.9"><circle cx="-5.3" cy="-1.9" r="0.75"/><circle cx="5.3" cy="-1.9" r="0.75"/><circle cx="3.1" cy="0.9" r="0.95"/><circle cx="-5.3" cy="3.7" r="0.75"/><circle cx="5.3" cy="3.7" r="0.75"/><circle cx="3.1" cy="6.5" r="0.95"/><circle cx="-5.3" cy="9.3" r="0.75"/><circle cx="5.3" cy="9.3" r="0.75"/><circle cx="3.1" cy="12.1" r="0.95"/><circle cx="-5.3" cy="14.9" r="0.75"/><circle cx="5.3" cy="14.9" r="0.75"/><circle cx="3.1" cy="17.7" r="0.95"/><circle cx="-5.3" cy="20.5" r="0.75"/><circle cx="5.3" cy="20.5" r="0.75"/><circle cx="3.1" cy="23.2" r="0.95"/><circle cx="-5.3" cy="26.0" r="0.75"/><circle cx="5.3" cy="26.0" r="0.75"/><circle cx="3.1" cy="28.8" r="0.95"/><circle cx="-5.3" cy="31.6" r="0.75"/><circle cx="5.3" cy="31.6" r="0.75"/><circle cx="3.1" cy="34.4" r="0.95"/><circle cx="-5.3" cy="37.2" r="0.75"/><circle cx="5.3" cy="37.2" r="0.75"/><circle cx="3.1" cy="40.0" r="0.95"/><circle cx="-5.3" cy="42.8" r="0.75"/><circle cx="5.3" cy="42.8" r="0.75"/><circle cx="3.1" cy="45.6" r="0.95"/><circle cx="-5.3" cy="48.4" r="0.75"/><circle cx="5.3" cy="48.4" r="0.75"/><circle cx="3.1" cy="51.1" r="0.95"/></g></g>
<g transform="translate(98.0,359.5) rotate(-1.96)"><rect x="-7.5" y="-6.5" width="14.9" height="71.5" rx="7.4" fill="#f41414"/><g fill="#f41414"><circle cx="-4.7" cy="-1.9" r="3.1"/><circle cx="4.7" cy="-1.9" r="3.1"/><circle cx="-4.7" cy="3.7" r="3.1"/><circle cx="4.7" cy="3.7" r="3.1"/><circle cx="-4.7" cy="9.3" r="3.1"/><circle cx="4.7" cy="9.3" r="3.1"/><circle cx="-4.7" cy="14.9" r="3.1"/><circle cx="4.7" cy="14.9" r="3.1"/><circle cx="-4.7" cy="20.5" r="3.1"/><circle cx="4.7" cy="20.5" r="3.1"/><circle cx="-4.7" cy="26.0" r="3.1"/><circle cx="4.7" cy="26.0" r="3.1"/><circle cx="-4.7" cy="31.6" r="3.1"/><circle cx="4.7" cy="31.6" r="3.1"/><circle cx="-4.7" cy="37.2" r="3.1"/><circle cx="4.7" cy="37.2" r="3.1"/><circle cx="-4.7" cy="42.8" r="3.1"/><circle cx="4.7" cy="42.8" r="3.1"/><circle cx="-4.7" cy="48.4" r="3.1"/><circle cx="4.7" cy="48.4" r="3.1"/><circle cx="-4.7" cy="53.9" r="3.1"/><circle cx="4.7" cy="53.9" r="3.1"/><circle cx="-4.7" cy="59.5" r="3.1"/><circle cx="4.7" cy="59.5" r="3.1"/></g><rect x="-3.6" y="-6.2" width="5.6" height="70.9" rx="1.7" fill="#ffee00"/><path d="M2.9,0.0 L2.7,3.5 L3.0,7.0 L2.2,10.5 L2.9,14.0 L2.9,17.5 L2.1,21.0 L2.4,24.5 L2.3,28.0 L1.8,31.5 L1.8,35.0 L2.8,38.5 L3.0,42.0 L2.0,45.5 L2.6,49.0 L2.9,52.5 L1.8,56.0" fill="none" stroke="#30e030" stroke-width="1.2"/><g fill="#ffffff" opacity="0.9"><circle cx="-5.3" cy="-1.9" r="0.75"/><circle cx="5.3" cy="-1.9" r="0.75"/><circle cx="3.1" cy="0.9" r="0.95"/><circle cx="-5.3" cy="3.7" r="0.75"/><circle cx="5.3" cy="3.7" r="0.75"/><circle cx="3.1" cy="6.5" r="0.95"/><circle cx="-5.3" cy="9.3" r="0.75"/><circle cx="5.3" cy="9.3" r="0.75"/><circle cx="3.1" cy="12.1" r="0.95"/><circle cx="-5.3" cy="14.9" r="0.75"/><circle cx="5.3" cy="14.9" r="0.75"/><circle cx="3.1" cy="17.7" r="0.95"/><circle cx="-5.3" cy="20.5" r="0.75"/><circle cx="5.3" cy="20.5" r="0.75"/><circle cx="3.1" cy="23.2" r="0.95"/><circle cx="-5.3" cy="26.0" r="0.75"/><circle cx="5.3" cy="26.0" r="0.75"/><circle cx="3.1" cy="28.8" r="0.95"/><circle cx="-5.3" cy="31.6" r="0.75"/><circle cx="5.3" cy="31.6" r="0.75"/><circle cx="3.1" cy="34.4" r="0.95"/><circle cx="-5.3" cy="37.2" r="0.75"/><circle cx="5.3" cy="37.2" r="0.75"/><circle cx="3.1" cy="40.0" r="0.95"/><circle cx="-5.3" cy="42.8" r="0.75"/><circle cx="5.3" cy="42.8" r="0.75"/><circle cx="3.1" cy="45.6" r="0.95"/><circle cx="-5.3" cy="48.4" r="0.75"/><circle cx="5.3" cy="48.4" r="0.75"/><circle cx="3.1" cy="51.1" r="0.95"/><circle cx="-5.3" cy="53.9" r="0.75"/><circle cx="5.3" cy="53.9" r="0.75"/><circle cx="3.1" cy="56.7" r="0.95"/><circle cx="-5.3" cy="59.5" r="0.75"/><circle cx="5.3" cy="59.5" r="0.75"/><circle cx="3.1" cy="62.3" r="0.95"/></g></g>
<g transform="translate(30.0,391.5) rotate(-16.82)"><rect x="-7.5" y="-6.5" width="14.9" height="63.1" rx="7.4" fill="#f41414"/><g fill="#f41414"><circle cx="-4.7" cy="-1.9" r="3.1"/><circle cx="4.7" cy="-1.9" r="3.1"/><circle cx="-4.7" cy="3.7" r="3.1"/><circle cx="4.7" cy="3.7" r="3.1"/><circle cx="-4.7" cy="9.3" r="3.1"/><circle cx="4.7" cy="9.3" r="3.1"/><circle cx="-4.7" cy="14.9" r="3.1"/><circle cx="4.7" cy="14.9" r="3.1"/><circle cx="-4.7" cy="20.5" r="3.1"/><circle cx="4.7" cy="20.5" r="3.1"/><circle cx="-4.7" cy="26.0" r="3.1"/><circle cx="4.7" cy="26.0" r="3.1"/><circle cx="-4.7" cy="31.6" r="3.1"/><circle cx="4.7" cy="31.6" r="3.1"/><circle cx="-4.7" cy="37.2" r="3.1"/><circle cx="4.7" cy="37.2" r="3.1"/><circle cx="-4.7" cy="42.8" r="3.1"/><circle cx="4.7" cy="42.8" r="3.1"/><circle cx="-4.7" cy="48.4" r="3.1"/><circle cx="4.7" cy="48.4" r="3.1"/></g><rect x="-3.6" y="-6.2" width="5.6" height="62.5" rx="1.7" fill="#ffee00"/><path d="M2.1,0.0 L2.9,3.5 L2.6,7.0 L3.1,10.5 L2.6,14.0 L2.8,17.5 L2.6,21.0 L2.9,24.5 L2.1,28.0 L1.9,31.5 L3.0,35.0 L2.0,38.5 L2.9,42.0 L2.0,45.5 L2.1,49.0" fill="none" stroke="#30e030" stroke-width="1.2"/><g fill="#ffffff" opacity="0.9"><circle cx="-5.3" cy="-1.9" r="0.75"/><circle cx="5.3" cy="-1.9" r="0.75"/><circle cx="3.1" cy="0.9" r="0.95"/><circle cx="-5.3" cy="3.7" r="0.75"/><circle cx="5.3" cy="3.7" r="0.75"/><circle cx="3.1" cy="6.5" r="0.95"/><circle cx="-5.3" cy="9.3" r="0.75"/><circle cx="5.3" cy="9.3" r="0.75"/><circle cx="3.1" cy="12.1" r="0.95"/><circle cx="-5.3" cy="14.9" r="0.75"/><circle cx="5.3" cy="14.9" r="0.75"/><circle cx="3.1" cy="17.7" r="0.95"/><circle cx="-5.3" cy="20.5" r="0.75"/><circle cx="5.3" cy="20.5" r="0.75"/><circle cx="3.1" cy="23.2" r="0.95"/><circle cx="-5.3" cy="26.0" r="0.75"/><circle cx="5.3" cy="26.0" r="0.75"/><circle cx="3.1" cy="28.8" r="0.95"/><circle cx="-5.3" cy="31.6" r="0.75"/><circle cx="5.3" cy="31.6" r="0.75"/><circle cx="3.1" cy="34.4" r="0.95"/><circle cx="-5.3" cy="37.2" r="0.75"/><circle cx="5.3" cy="37.2" r="0.75"/><circle cx="3.1" cy="40.0" r="0.95"/><circle cx="-5.3" cy="42.8" r="0.75"/><circle cx="5.3" cy="42.8" r="0.75"/><circle cx="3.1" cy="45.6" r="0.95"/><circle cx="-5.3" cy="48.4" r="0.75"/><circle cx="5.3" cy="48.4" r="0.75"/><circle cx="3.1" cy="51.1" r="0.95"/></g></g>
<g transform="translate(63.0,388.5) rotate(1.02)"><rect x="-7.5" y="-6.5" width="14.9" height="69.0" rx="7.4" fill="#f41414"/><g fill="#f41414"><circle cx="-4.7" cy="-1.9" r="3.1"/><circle cx="4.7" cy="-1.9" r="3.1"/><circle cx="-4.7" cy="3.7" r="3.1"/><circle cx="4.7" cy="3.7" r="3.1"/><circle cx="-4.7" cy="9.3" r="3.1"/><circle cx="4.7" cy="9.3" r="3.1"/><circle cx="-4.7" cy="14.9" r="3.1"/><circle cx="4.7" cy="14.9" r="3.1"/><circle cx="-4.7" cy="20.5" r="3.1"/><circle cx="4.7" cy="20.5" r="3.1"/><circle cx="-4.7" cy="26.0" r="3.1"/><circle cx="4.7" cy="26.0" r="3.1"/><circle cx="-4.7" cy="31.6" r="3.1"/><circle cx="4.7" cy="31.6" r="3.1"/><circle cx="-4.7" cy="37.2" r="3.1"/><circle cx="4.7" cy="37.2" r="3.1"/><circle cx="-4.7" cy="42.8" r="3.1"/><circle cx="4.7" cy="42.8" r="3.1"/><circle cx="-4.7" cy="48.4" r="3.1"/><circle cx="4.7" cy="48.4" r="3.1"/><circle cx="-4.7" cy="53.9" r="3.1"/><circle cx="4.7" cy="53.9" r="3.1"/></g><rect x="-3.6" y="-6.2" width="5.6" height="68.4" rx="1.7" fill="#ffee00"/><path d="M1.8,0.0 L1.9,3.5 L3.1,7.0 L2.1,10.5 L3.1,14.0 L1.8,17.5 L2.3,21.0 L2.6,24.5 L3.1,28.0 L2.0,31.5 L2.3,35.0 L2.4,38.5 L2.2,42.0 L1.8,45.5 L2.3,49.0 L2.6,52.5" fill="none" stroke="#30e030" stroke-width="1.2"/><g fill="#ffffff" opacity="0.9"><circle cx="-5.3" cy="-1.9" r="0.75"/><circle cx="5.3" cy="-1.9" r="0.75"/><circle cx="3.1" cy="0.9" r="0.95"/><circle cx="-5.3" cy="3.7" r="0.75"/><circle cx="5.3" cy="3.7" r="0.75"/><circle cx="3.1" cy="6.5" r="0.95"/><circle cx="-5.3" cy="9.3" r="0.75"/><circle cx="5.3" cy="9.3" r="0.75"/><circle cx="3.1" cy="12.1" r="0.95"/><circle cx="-5.3" cy="14.9" r="0.75"/><circle cx="5.3" cy="14.9" r="0.75"/><circle cx="3.1" cy="17.7" r="0.95"/><circle cx="-5.3" cy="20.5" r="0.75"/><circle cx="5.3" cy="20.5" r="0.75"/><circle cx="3.1" cy="23.2" r="0.95"/><circle cx="-5.3" cy="26.0" r="0.75"/><circle cx="5.3" cy="26.0" r="0.75"/><circle cx="3.1" cy="28.8" r="0.95"/><circle cx="-5.3" cy="31.6" r="0.75"/><circle cx="5.3" cy="31.6" r="0.75"/><circle cx="3.1" cy="34.4" r="0.95"/><circle cx="-5.3" cy="37.2" r="0.75"/><circle cx="5.3" cy="37.2" r="0.75"/><circle cx="3.1" cy="40.0" r="0.95"/><circle cx="-5.3" cy="42.8" r="0.75"/><circle cx="5.3" cy="42.8" r="0.75"/><circle cx="3.1" cy="45.6" r="0.95"/><circle cx="-5.3" cy="48.4" r="0.75"/><circle cx="5.3" cy="48.4" r="0.75"/><circle cx="3.1" cy="51.1" r="0.95"/><circle cx="-5.3" cy="53.9" r="0.75"/><circle cx="5.3" cy="53.9" r="0.75"/><circle cx="3.1" cy="56.7" r="0.95"/></g></g>
<g transform="translate(89.0,387.5) rotate(5.29)"><rect x="-7.5" y="-6.5" width="14.9" height="67.2" rx="7.4" fill="#f41414"/><g fill="#f41414"><circle cx="-4.7" cy="-1.9" r="3.1"/><circle cx="4.7" cy="-1.9" r="3.1"/><circle cx="-4.7" cy="3.7" r="3.1"/><circle cx="4.7" cy="3.7" r="3.1"/><circle cx="-4.7" cy="9.3" r="3.1"/><circle cx="4.7" cy="9.3" r="3.1"/><circle cx="-4.7" cy="14.9" r="3.1"/><circle cx="4.7" cy="14.9" r="3.1"/><circle cx="-4.7" cy="20.5" r="3.1"/><circle cx="4.7" cy="20.5" r="3.1"/><circle cx="-4.7" cy="26.0" r="3.1"/><circle cx="4.7" cy="26.0" r="3.1"/><circle cx="-4.7" cy="31.6" r="3.1"/><circle cx="4.7" cy="31.6" r="3.1"/><circle cx="-4.7" cy="37.2" r="3.1"/><circle cx="4.7" cy="37.2" r="3.1"/><circle cx="-4.7" cy="42.8" r="3.1"/><circle cx="4.7" cy="42.8" r="3.1"/><circle cx="-4.7" cy="48.4" r="3.1"/><circle cx="4.7" cy="48.4" r="3.1"/><circle cx="-4.7" cy="53.9" r="3.1"/><circle cx="4.7" cy="53.9" r="3.1"/></g><rect x="-3.6" y="-6.2" width="5.6" height="66.6" rx="1.7" fill="#ffee00"/><path d="M2.4,0.0 L2.5,3.5 L2.0,7.0 L2.1,10.5 L2.4,14.0 L1.9,17.5 L2.2,21.0 L3.0,24.5 L3.0,28.0 L3.0,31.5 L2.4,35.0 L3.0,38.5 L2.5,42.0 L1.9,45.5 L2.4,49.0 L3.1,52.5" fill="none" stroke="#30e030" stroke-width="1.2"/><g fill="#ffffff" opacity="0.9"><circle cx="-5.3" cy="-1.9" r="0.75"/><circle cx="5.3" cy="-1.9" r="0.75"/><circle cx="3.1" cy="0.9" r="0.95"/><circle cx="-5.3" cy="3.7" r="0.75"/><circle cx="5.3" cy="3.7" r="0.75"/><circle cx="3.1" cy="6.5" r="0.95"/><circle cx="-5.3" cy="9.3" r="0.75"/><circle cx="5.3" cy="9.3" r="0.75"/><circle cx="3.1" cy="12.1" r="0.95"/><circle cx="-5.3" cy="14.9" r="0.75"/><circle cx="5.3" cy="14.9" r="0.75"/><circle cx="3.1" cy="17.7" r="0.95"/><circle cx="-5.3" cy="20.5" r="0.75"/><circle cx="5.3" cy="20.5" r="0.75"/><circle cx="3.1" cy="23.2" r="0.95"/><circle cx="-5.3" cy="26.0" r="0.75"/><circle cx="5.3" cy="26.0" r="0.75"/><circle cx="3.1" cy="28.8" r="0.95"/><circle cx="-5.3" cy="31.6" r="0.75"/><circle cx="5.3" cy="31.6" r="0.75"/><circle cx="3.1" cy="34.4" r="0.95"/><circle cx="-5.3" cy="37.2" r="0.75"/><circle cx="5.3" cy="37.2" r="0.75"/><circle cx="3.1" cy="40.0" r="0.95"/><circle cx="-5.3" cy="42.8" r="0.75"/><circle cx="5.3" cy="42.8" r="0.75"/><circle cx="3.1" cy="45.6" r="0.95"/><circle cx="-5.3" cy="48.4" r="0.75"/><circle cx="5.3" cy="48.4" r="0.75"/><circle cx="3.1" cy="51.1" r="0.95"/><circle cx="-5.3" cy="53.9" r="0.75"/><circle cx="5.3" cy="53.9" r="0.75"/><circle cx="3.1" cy="56.7" r="0.95"/></g></g>
<ellipse cx="50" cy="375" rx="3.4" ry="2.6" fill="#22bb22"/><circle cx="51" cy="374" r="1.2" fill="#88ee88"/>
<ellipse cx="38" cy="399" rx="3.4" ry="2.6" fill="#22bb22"/><circle cx="39" cy="398" r="1.2" fill="#88ee88"/>
<ellipse cx="69" cy="421" rx="3.4" ry="2.6" fill="#22bb22"/><circle cx="70" cy="420" r="1.2" fill="#88ee88"/>
<ellipse cx="86" cy="385" rx="3.4" ry="2.6" fill="#22bb22"/><circle cx="87" cy="384" r="1.2" fill="#88ee88"/>
<ellipse cx="95" cy="411" rx="3.4" ry="2.6" fill="#22bb22"/><circle cx="96" cy="410" r="1.2" fill="#88ee88"/>
<ellipse cx="104" cy="372" rx="3.4" ry="2.6" fill="#22bb22"/><circle cx="105" cy="371" r="1.2" fill="#88ee88"/>
<ellipse cx="70" cy="386" rx="3.4" ry="2.6" fill="#22bb22"/><circle cx="71" cy="385" r="1.2" fill="#88ee88"/>
<circle cx="55" cy="345" r="0.9" fill="#2233ee"/>
<circle cx="60" cy="350" r="0.9" fill="#2233ee"/>
<circle cx="52" cy="362" r="0.9" fill="#2233ee"/>
<circle cx="58" cy="366" r="0.9" fill="#2233ee"/>
<circle cx="62" cy="377" r="0.9" fill="#2233ee"/>
<circle cx="45" cy="410" r="0.9" fill="#2233ee"/>
<circle cx="50" cy="425" r="0.9" fill="#2233ee"/>
<circle cx="47" cy="432" r="0.9" fill="#2233ee"/>
<circle cx="70" cy="430" r="0.9" fill="#2233ee"/>
<circle cx="75" cy="432" r="0.9" fill="#2233ee"/>
<circle cx="60" cy="435" r="0.9" fill="#2233ee"/>
<circle cx="78" cy="405" r="0.9" fill="#2233ee"/>
<circle cx="38" cy="412" r="1.6" fill="none" stroke="#cc44cc" stroke-width="0.7"/>
<circle cx="49" cy="398" r="1.6" fill="none" stroke="#cc44cc" stroke-width="0.7"/>
<circle cx="98" cy="427" r="1.8" fill="#ee44ee"/>
<defs><linearGradient id="purp" x1="0" y1="0" x2="1" y2="1"><stop offset="0" stop-color="#7a2ad8"/><stop offset="1" stop-color="#b030ff"/></linearGradient></defs>
<path d="M45,321.5 C56,326 64.5,338 66,352 L73,353 L66,372.5 L58.5,351.5 L61.8,352 C60,341 54,331 45,324.5 Z" fill="url(#purp)"/>
<path d="M46,321 C57,325.5 65.5,337.5 67.2,351.8 M73.3,353.3 L66.5,372.6" fill="none" stroke="#a0a0b8" stroke-width="0.9"/>
<text transform="translate(47,334.5) rotate(62)" font-family="'Liberation Sans', Arial, sans-serif" font-size="8.8" font-style="italic" fill="#ff2a4a" stroke="#ff2a4a" stroke-width="0.2">fast</text>
<g stroke="#111" stroke-width="0.9" stroke-dasharray="2.5,1.8" fill="none"><line x1="110" y1="406" x2="195" y2="381"/><line x1="110" y1="410" x2="209" y2="455.5"/></g>
<g transform="translate(204.5,382.2) rotate(-9.58)"><rect x="-9.4" y="-8.2" width="18.9" height="82.5" rx="9.4" fill="#f41414"/><g fill="#f41414"><circle cx="-5.8" cy="-2.3" r="3.9"/><circle cx="5.8" cy="-2.3" r="3.9"/><circle cx="-5.8" cy="4.7" r="3.9"/><circle cx="5.8" cy="4.7" r="3.9"/><circle cx="-5.8" cy="11.7" r="3.9"/><circle cx="5.8" cy="11.7" r="3.9"/><circle cx="-5.8" cy="18.7" r="3.9"/><circle cx="5.8" cy="18.7" r="3.9"/><circle cx="-5.8" cy="25.7" r="3.9"/><circle cx="5.8" cy="25.7" r="3.9"/><circle cx="-5.8" cy="32.8" r="3.9"/><circle cx="5.8" cy="32.8" r="3.9"/><circle cx="-5.8" cy="39.8" r="3.9"/><circle cx="5.8" cy="39.8" r="3.9"/><circle cx="-5.8" cy="46.8" r="3.9"/><circle cx="5.8" cy="46.8" r="3.9"/><circle cx="-5.8" cy="53.8" r="3.9"/><circle cx="5.8" cy="53.8" r="3.9"/><circle cx="-5.8" cy="60.8" r="3.9"/><circle cx="5.8" cy="60.8" r="3.9"/><circle cx="-5.8" cy="67.9" r="3.9"/><circle cx="5.8" cy="67.9" r="3.9"/></g><rect x="-5.6" y="-7.8" width="7.2" height="81.7" rx="2.2" fill="#ffee00"/><path d="M1.8,0.0 L1.8,3.5 L1.5,7.0 L1.9,10.5 L1.5,14.0 L2.7,17.5 L2.1,21.0 L1.8,24.5 L1.8,28.0 L2.2,31.5 L1.6,35.0 L2.4,38.5 L1.8,42.0 L2.0,45.5 L2.7,49.0 L2.0,52.5 L1.9,56.0 L2.4,59.5 L2.7,63.0" fill="none" stroke="#30e030" stroke-width="1.2"/><g fill="#ffffff" opacity="0.9"><circle cx="-6.6" cy="-2.3" r="0.75"/><circle cx="6.6" cy="-2.3" r="0.75"/><circle cx="3.9" cy="1.2" r="0.95"/><circle cx="-6.6" cy="4.7" r="0.75"/><circle cx="6.6" cy="4.7" r="0.75"/><circle cx="3.9" cy="8.2" r="0.95"/><circle cx="-6.6" cy="11.7" r="0.75"/><circle cx="6.6" cy="11.7" r="0.75"/><circle cx="3.9" cy="15.2" r="0.95"/><circle cx="-6.6" cy="18.7" r="0.75"/><circle cx="6.6" cy="18.7" r="0.75"/><circle cx="3.9" cy="22.2" r="0.95"/><circle cx="-6.6" cy="25.7" r="0.75"/><circle cx="6.6" cy="25.7" r="0.75"/><circle cx="3.9" cy="29.3" r="0.95"/><circle cx="-6.6" cy="32.8" r="0.75"/><circle cx="6.6" cy="32.8" r="0.75"/><circle cx="3.9" cy="36.3" r="0.95"/><circle cx="-6.6" cy="39.8" r="0.75"/><circle cx="6.6" cy="39.8" r="0.75"/><circle cx="3.9" cy="43.3" r="0.95"/><circle cx="-6.6" cy="46.8" r="0.75"/><circle cx="6.6" cy="46.8" r="0.75"/><circle cx="3.9" cy="50.3" r="0.95"/><circle cx="-6.6" cy="53.8" r="0.75"/><circle cx="6.6" cy="53.8" r="0.75"/><circle cx="3.9" cy="57.3" r="0.95"/><circle cx="-6.6" cy="60.8" r="0.75"/><circle cx="6.6" cy="60.8" r="0.75"/><circle cx="3.9" cy="64.4" r="0.95"/><circle cx="-6.6" cy="67.9" r="0.75"/><circle cx="6.6" cy="67.9" r="0.75"/><circle cx="3.9" cy="71.4" r="0.95"/></g></g>
<g transform="translate(261.2,382.9) rotate(16.69)"><rect x="-9.7" y="-8.4" width="19.4" height="84.3" rx="9.6" fill="#f41414"/><g fill="#f41414"><circle cx="-6.0" cy="-2.4" r="4.0"/><circle cx="6.0" cy="-2.4" r="4.0"/><circle cx="-6.0" cy="4.8" r="4.0"/><circle cx="6.0" cy="4.8" r="4.0"/><circle cx="-6.0" cy="12.0" r="4.0"/><circle cx="6.0" cy="12.0" r="4.0"/><circle cx="-6.0" cy="19.2" r="4.0"/><circle cx="6.0" cy="19.2" r="4.0"/><circle cx="-6.0" cy="26.4" r="4.0"/><circle cx="6.0" cy="26.4" r="4.0"/><circle cx="-6.0" cy="33.6" r="4.0"/><circle cx="6.0" cy="33.6" r="4.0"/><circle cx="-6.0" cy="40.8" r="4.0"/><circle cx="6.0" cy="40.8" r="4.0"/><circle cx="-6.0" cy="48.0" r="4.0"/><circle cx="6.0" cy="48.0" r="4.0"/><circle cx="-6.0" cy="55.2" r="4.0"/><circle cx="6.0" cy="55.2" r="4.0"/><circle cx="-6.0" cy="62.4" r="4.0"/><circle cx="6.0" cy="62.4" r="4.0"/><circle cx="-6.0" cy="69.6" r="4.0"/><circle cx="6.0" cy="69.6" r="4.0"/></g><rect x="-4.5" y="-8.0" width="7.4" height="83.5" rx="2.2" fill="#ffee00"/><path d="M-4.6,0.0 L-4.9,3.5 L-4.3,7.0 L-5.3,10.5 L-4.3,14.0 L-4.7,17.5 L-5.4,21.0 L-5.3,24.5 L-5.3,28.0 L-5.2,31.5 L-4.6,35.0 L-4.6,38.5 L-4.8,42.0 L-5.0,45.5 L-5.3,49.0 L-5.5,52.5 L-4.9,56.0 L-4.7,59.5 L-4.5,63.0 L-5.3,66.5" fill="none" stroke="#30e030" stroke-width="1.2"/><g fill="#ffffff" opacity="0.9"><circle cx="-6.8" cy="-2.4" r="0.75"/><circle cx="6.8" cy="-2.4" r="0.75"/><circle cx="-4.0" cy="1.2" r="0.95"/><circle cx="-6.8" cy="4.8" r="0.75"/><circle cx="6.8" cy="4.8" r="0.75"/><circle cx="-4.0" cy="8.4" r="0.95"/><circle cx="-6.8" cy="12.0" r="0.75"/><circle cx="6.8" cy="12.0" r="0.75"/><circle cx="-4.0" cy="15.6" r="0.95"/><circle cx="-6.8" cy="19.2" r="0.75"/><circle cx="6.8" cy="19.2" r="0.75"/><circle cx="-4.0" cy="22.8" r="0.95"/><circle cx="-6.8" cy="26.4" r="0.75"/><circle cx="6.8" cy="26.4" r="0.75"/><circle cx="-4.0" cy="30.0" r="0.95"/><circle cx="-6.8" cy="33.6" r="0.75"/><circle cx="6.8" cy="33.6" r="0.75"/><circle cx="-4.0" cy="37.2" r="0.95"/><circle cx="-6.8" cy="40.8" r="0.75"/><circle cx="6.8" cy="40.8" r="0.75"/><circle cx="-4.0" cy="44.4" r="0.95"/><circle cx="-6.8" cy="48.0" r="0.75"/><circle cx="6.8" cy="48.0" r="0.75"/><circle cx="-4.0" cy="51.6" r="0.95"/><circle cx="-6.8" cy="55.2" r="0.75"/><circle cx="6.8" cy="55.2" r="0.75"/><circle cx="-4.0" cy="58.8" r="0.95"/><circle cx="-6.8" cy="62.4" r="0.75"/><circle cx="6.8" cy="62.4" r="0.75"/><circle cx="-4.0" cy="66.0" r="0.95"/><circle cx="-6.8" cy="69.6" r="0.75"/><circle cx="6.8" cy="69.6" r="0.75"/><circle cx="-4.0" cy="73.2" r="0.95"/></g></g>
<defs><linearGradient id="rainb" x1="0" y1="0" x2="1" y2="0"><stop offset="0" stop-color="#ff3030"/><stop offset="0.18" stop-color="#ff9a20"/><stop offset="0.3" stop-color="#e8e020"/><stop offset="0.42" stop-color="#40c060"/><stop offset="0.55" stop-color="#3050e0"/><stop offset="0.7" stop-color="#30c0a0"/><stop offset="0.85" stop-color="#e0e020"/><stop offset="1" stop-color="#ff7020"/></linearGradient></defs>
<path d="M185,362 C195,385 255,392 280,366" fill="none" stroke="url(#rainb)" stroke-width="2.8"/>
<path d="M186,361 L183.5,363 C189,372 194,377 197,379 L197,375 C193,372 189,367 186,361 Z" fill="#ff4a2a"/>
<path d="M275,362 L286,363 L282,373 Z" fill="#ff8a20"/>
<line x1="177.0" y1="357.0" x2="191.0" y2="357.0" stroke="#ffbb00" stroke-width="0.8" />
<line x1="184.0" y1="355.0" x2="184.0" y2="350.0" stroke="#888" stroke-width="0.8" />
<circle cx="184.0" cy="350.0" r="1.6" fill="#ee2222"/>
<circle cx="184.0" cy="355.0" r="1.7" fill="#bbbbbb"/>
<circle cx="178.0" cy="357.0" r="1.7" fill="#2233ee"/>
<circle cx="191.0" cy="357.0" r="1.7" fill="#2233ee"/>
<circle cx="174.0" cy="356.0" r="0.7" fill="#ffbb00"/>
<circle cx="177.0" cy="361.0" r="0.7" fill="#ffbb00"/>
<circle cx="193.0" cy="353.0" r="0.7" fill="#ffbb00"/>
<circle cx="194.0" cy="361.0" r="0.7" fill="#ffbb00"/>
<line x1="260.0" y1="353.9" x2="273.0" y2="353.9" stroke="#999" stroke-width="1" />
<circle cx="260.0" cy="353.9" r="2" fill="#ee2222"/>
<circle cx="266.5" cy="353.9" r="2" fill="#bbbbbb"/>
<circle cx="273.0" cy="353.9" r="2" fill="#ee2222"/>
<line x1="282.5" y1="353.9" x2="288.5" y2="353.9" stroke="#2233ee" stroke-width="1" />
<circle cx="282.5" cy="353.9" r="2" fill="#2233ee"/>
<circle cx="288.5" cy="353.9" r="2" fill="#2233ee"/>
<circle cx="299.0" cy="353.0" r="2" fill="#ee2222"/>
<circle cx="296.5" cy="356.0" r="0.8" fill="#ffbb00"/>
<circle cx="301.5" cy="356.0" r="0.8" fill="#ffbb00"/>
<text x="172.4" y="347.5" font-family="'Liberation Sans', Arial, sans-serif" font-size="5.5" font-weight="bold" fill="#ee3333">CO(NH<tspan font-size="3.8" dy="1.5">2</tspan><tspan dy="-1.5">)</tspan><tspan font-size="3.8" dy="1.5">2</tspan></text>
<text x="261" y="347.5" font-family="'Liberation Sans', Arial, sans-serif" font-size="5.5" font-weight="bold" fill="#ee3333">CO<tspan font-size="3.8" dy="1.5">2</tspan></text>
<text x="282.3" y="347.5" font-family="'Liberation Sans', Arial, sans-serif" font-size="5.5" font-weight="bold" fill="#ee3333">N<tspan font-size="3.8" dy="1.5">2</tspan></text>
<text x="294.8" y="347.5" font-family="'Liberation Sans', Arial, sans-serif" font-size="5.5" font-weight="bold" fill="#ee3333">H<tspan font-size="3.8" dy="1.5">2</tspan><tspan dy="-1.5">O</tspan></text>
<circle cx="218.0" cy="372.0" r="2" fill="#ee2222"/>
<circle cx="218.7" cy="369.8" r="0.8" fill="#ffbb00"/>
<circle cx="223.0" cy="381.0" r="2" fill="#2233ee"/>
<circle cx="224.0" cy="378.4" r="0.8" fill="#ffbb00"/>
<circle cx="228.0" cy="392.0" r="2" fill="#2233ee"/>
<circle cx="231.3" cy="391.8" r="0.8" fill="#ffbb00"/>
<circle cx="222.0" cy="402.0" r="2" fill="#ee2222"/>
<circle cx="219.5" cy="403.3" r="0.8" fill="#ffbb00"/>
<circle cx="233.0" cy="398.0" r="2" fill="#2233ee"/>
<circle cx="232.2" cy="400.2" r="0.8" fill="#ffbb00"/>
<circle cx="240.0" cy="388.0" r="2" fill="#ee2222"/>
<circle cx="241.1" cy="390.2" r="0.8" fill="#ffbb00"/>
<circle cx="236.0" cy="408.0" r="2" fill="#2233ee"/>
<circle cx="237.9" cy="409.0" r="0.8" fill="#ffbb00"/>
<circle cx="226.0" cy="416.0" r="2" fill="#2233ee"/>
<circle cx="223.3" cy="418.7" r="0.8" fill="#ffbb00"/>
<circle cx="232.0" cy="425.0" r="2" fill="#2233ee"/>
<circle cx="230.4" cy="422.2" r="0.8" fill="#ffbb00"/>
<circle cx="224.0" cy="432.0" r="2" fill="#aaaaaa"/>
<circle cx="223.8" cy="433.3" r="0.8" fill="#ffbb00"/>
<circle cx="238.0" cy="437.0" r="2" fill="#2233ee"/>
<circle cx="239.7" cy="439.5" r="0.8" fill="#ffbb00"/>
<circle cx="229.0" cy="444.0" r="2" fill="#2233ee"/>
<circle cx="230.8" cy="444.5" r="0.8" fill="#ffbb00"/>
<circle cx="246.0" cy="420.0" r="2" fill="#ee2222"/>
<circle cx="249.0" cy="417.6" r="0.8" fill="#ffbb00"/>
<circle cx="242.0" cy="430.0" r="2" fill="#ee2222"/>
<circle cx="242.0" cy="428.5" r="0.8" fill="#ffbb00"/>
<circle cx="189" cy="389" r="3" fill="none" stroke="#ffffff" stroke-width="1.1"/>
<circle cx="239.7" cy="372.8" r="3" fill="none" stroke="#ffffff" stroke-width="1.1"/>
<circle cx="262" cy="365.7" r="3" fill="none" stroke="#ffffff" stroke-width="1.1"/>
<circle cx="274" cy="388" r="3" fill="none" stroke="#ffffff" stroke-width="1.1"/>
<circle cx="283.5" cy="374" r="3.2" fill="none" stroke="#ffffff" stroke-width="1.1"/>
<circle cx="232.6" cy="410.6" r="2.8" fill="none" stroke="#ffffff" stroke-width="1.1"/>
<circle cx="243.3" cy="390.6" r="2.6" fill="none" stroke="#ffffff" stroke-width="1.1"/>
<circle cx="252.7" cy="449.7" r="2.5" fill="none" stroke="#ffffff" stroke-width="1.1"/>
<circle cx="200" cy="440" r="2.5" fill="none" stroke="#ffffff" stroke-width="1.1"/>
<circle cx="197" cy="410" r="2.5" fill="none" stroke="#ffffff" stroke-width="1.1"/>
<circle cx="266" cy="400" r="2.4" fill="none" stroke="#ffffff" stroke-width="1.1"/>
<ellipse cx="213" cy="398" rx="3" ry="2.2" fill="#22bb22"/>
<ellipse cx="253" cy="413" rx="3" ry="2.2" fill="#22bb22"/>
<text x="211.0" y="422.0" font-family="'Liberation Sans', Arial, sans-serif" font-size="4.5" fill="#cc33cc" text-anchor="start" font-weight="normal" font-style="normal" >G</text>
<text x="247.0" y="421.0" font-family="'Liberation Sans', Arial, sans-serif" font-size="4.5" fill="#cc33cc" text-anchor="start" font-weight="normal" font-style="normal" >G</text>
<clipPath id="ce"><rect x="370.6" y="313.7" width="168.60000000000002" height="131.7"/></clipPath>
<g clip-path="url(#ce)">
<path d="M371.0,433.8 C375.8,433.8 394.5,433.9 400.0,433.8 C405.5,433.8 402.7,433.8 404.0,433.5 C405.3,433.2 406.6,433.1 407.9,432.3 C409.2,431.5 410.3,430.2 412.0,428.5 C413.7,426.8 415.6,424.4 418.0,422.0 C420.4,419.6 420.6,419.6 426.4,413.8 C432.2,408.1 443.9,396.3 452.7,387.5 C461.5,378.7 471.0,369.2 479.1,361.1 C487.2,353.0 493.7,346.9 501.5,339.0 C509.3,331.1 521.2,318.8 526.0,314.0 C530.8,309.2 529.3,310.7 530.0,310.0" fill="none" stroke="#f01ef0" stroke-width="2.7" stroke-linejoin="round" stroke-linecap="round" />
<path d="M371.0,433.6 C375.8,433.6 393.9,433.7 400.0,433.6 C406.1,433.5 405.7,433.4 407.9,433.0 C410.1,432.6 411.2,431.5 413.0,431.0 C414.8,430.5 416.8,429.8 418.5,429.8 C420.2,429.8 421.4,430.5 423.0,430.8 C424.6,431.1 425.2,431.5 428.0,431.6 C430.8,431.7 436.5,431.6 439.5,431.2 C442.5,430.8 443.8,430.4 446.0,429.5 C448.2,428.6 450.5,427.0 452.7,425.7 C454.9,424.4 456.8,423.0 459.0,421.5 C461.2,420.0 462.5,419.1 465.9,416.5 C469.2,413.9 474.7,409.5 479.1,405.9 C483.5,402.3 487.9,398.5 492.3,394.8 C496.7,391.1 501.1,387.1 505.5,383.5 C509.9,379.9 514.2,376.5 518.6,373.0 C523.0,369.5 528.1,365.4 531.8,362.4 C535.5,359.4 539.5,356.2 541.0,355.0" fill="none" stroke="#1a1a7c" stroke-width="2.9" stroke-linejoin="round" stroke-linecap="round" />
</g>
<rect x="370.6" y="313.7" width="168.60000000000002" height="131.7" fill="none" stroke="#111" stroke-width="1.5"/>
<line x1="366.6" y1="434.0" x2="370.6" y2="434.0" stroke="#111" stroke-width="1.2" />
<text x="367.3" y="441.4" font-family="'Liberation Sans', Arial, sans-serif" font-size="14" fill="#111" text-anchor="end" font-weight="normal" font-style="normal" >0</text>
<line x1="368.3" y1="422.0" x2="370.6" y2="422.0" stroke="#111" stroke-width="1.2" />
<line x1="366.6" y1="409.9" x2="370.6" y2="409.9" stroke="#111" stroke-width="1.2" />
<text x="367.3" y="417.3" font-family="'Liberation Sans', Arial, sans-serif" font-size="14" fill="#111" text-anchor="end" font-weight="normal" font-style="normal" >200</text>
<line x1="368.3" y1="397.9" x2="370.6" y2="397.9" stroke="#111" stroke-width="1.2" />
<line x1="366.6" y1="385.9" x2="370.6" y2="385.9" stroke="#111" stroke-width="1.2" />
<text x="367.3" y="393.3" font-family="'Liberation Sans', Arial, sans-serif" font-size="14" fill="#111" text-anchor="end" font-weight="normal" font-style="normal" >400</text>
<line x1="368.3" y1="373.9" x2="370.6" y2="373.9" stroke="#111" stroke-width="1.2" />
<line x1="366.6" y1="361.8" x2="370.6" y2="361.8" stroke="#111" stroke-width="1.2" />
<text x="367.3" y="369.2" font-family="'Liberation Sans', Arial, sans-serif" font-size="14" fill="#111" text-anchor="end" font-weight="normal" font-style="normal" >600</text>
<line x1="368.3" y1="349.8" x2="370.6" y2="349.8" stroke="#111" stroke-width="1.2" />
<line x1="366.6" y1="337.8" x2="370.6" y2="337.8" stroke="#111" stroke-width="1.2" />
<text x="367.3" y="345.2" font-family="'Liberation Sans', Arial, sans-serif" font-size="14" fill="#111" text-anchor="end" font-weight="normal" font-style="normal" >800</text>
<line x1="368.3" y1="325.7" x2="370.6" y2="325.7" stroke="#111" stroke-width="1.2" />
<line x1="366.6" y1="313.7" x2="370.6" y2="313.7" stroke="#111" stroke-width="1.2" />
<text x="367.3" y="321.1" font-family="'Liberation Sans', Arial, sans-serif" font-size="14" fill="#111" text-anchor="end" font-weight="normal" font-style="normal" >1000</text>
<line x1="371.2" y1="445.4" x2="371.2" y2="447.7" stroke="#111" stroke-width="1.2" />
<line x1="389.9" y1="445.4" x2="389.9" y2="449.4" stroke="#111" stroke-width="1.2" />
<text x="389.9" y="460.4" font-family="'Liberation Sans', Arial, sans-serif" font-size="12.4" fill="#111" text-anchor="middle" font-weight="normal" font-style="normal" >0.2</text>
<line x1="408.5" y1="445.4" x2="408.5" y2="447.7" stroke="#111" stroke-width="1.2" />
<line x1="427.2" y1="445.4" x2="427.2" y2="449.4" stroke="#111" stroke-width="1.2" />
<text x="427.2" y="460.4" font-family="'Liberation Sans', Arial, sans-serif" font-size="12.4" fill="#111" text-anchor="middle" font-weight="normal" font-style="normal" >0.4</text>
<line x1="445.8" y1="445.4" x2="445.8" y2="447.7" stroke="#111" stroke-width="1.2" />
<line x1="464.5" y1="445.4" x2="464.5" y2="449.4" stroke="#111" stroke-width="1.2" />
<text x="464.5" y="460.4" font-family="'Liberation Sans', Arial, sans-serif" font-size="12.4" fill="#111" text-anchor="middle" font-weight="normal" font-style="normal" >0.6</text>
<line x1="483.1" y1="445.4" x2="483.1" y2="447.7" stroke="#111" stroke-width="1.2" />
<line x1="501.8" y1="445.4" x2="501.8" y2="449.4" stroke="#111" stroke-width="1.2" />
<text x="501.8" y="460.4" font-family="'Liberation Sans', Arial, sans-serif" font-size="12.4" fill="#111" text-anchor="middle" font-weight="normal" font-style="normal" >0.8</text>
<line x1="520.4" y1="445.4" x2="520.4" y2="447.7" stroke="#111" stroke-width="1.2" />
<line x1="539.1" y1="445.4" x2="539.1" y2="449.4" stroke="#111" stroke-width="1.2" />
<text x="539.1" y="460.4" font-family="'Liberation Sans', Arial, sans-serif" font-size="12.4" fill="#111" text-anchor="middle" font-weight="normal" font-style="normal" >1.0</text>
<text x="416.4" y="474.4" font-family="'Liberation Sans', Arial, sans-serif" font-size="12.6" fill="#111" textLength="76.8" lengthAdjust="spacingAndGlyphs"><tspan font-style="italic">E</tspan> (V vs. SCE)</text>
<text transform="translate(341.3,378.4) rotate(-90)" font-family="'Liberation Sans', Arial, sans-serif" font-size="13.6" fill="#111" text-anchor="middle"><tspan font-style="italic">j</tspan> (mA cm<tspan font-size="9" dy="-5.5">-2</tspan><tspan dy="5.5">)</tspan></text>
<line x1="372.2" y1="319.8" x2="390.7" y2="319.8" stroke="#f01ef0" stroke-width="2.5" />
<line x1="372.2" y1="326.8" x2="390.7" y2="326.8" stroke="#1a1a7c" stroke-width="2.5" />
<text x="392.8" y="322.8" font-family="'Liberation Sans', Arial, sans-serif" font-size="7.8" fill="#111" textLength="84.2" lengthAdjust="spacingAndGlyphs">1 M KOH + 0.33 M Urea</text>
<text x="392.8" y="329.8" font-family="'Liberation Sans', Arial, sans-serif" font-size="7.8" fill="#111" text-anchor="start" font-weight="normal" font-style="normal" >1 M KOH</text>
<text x="314.8" y="325.3" font-family="'Liberation Serif', 'Times New Roman', serif" font-size="19.5" fill="#111" text-anchor="start" font-weight="normal" font-style="normal" >(e)</text>
<rect x="388.2" y="332.4" width="66.40000000000003" height="47.30000000000001" fill="#fff" stroke="#222" stroke-width="0.9"/>
<path d="M388.2,371.9 C388.9,371.8 390.9,371.2 392.3,370.9 C393.6,370.6 394.3,370.4 396.3,370.3 C398.4,370.1 401.8,370.2 404.5,370.0 C407.2,369.9 410.8,369.8 412.6,369.4 C414.4,369.0 414.2,368.6 415.0,367.7 C415.8,366.9 416.7,364.8 417.5,364.3 C418.3,363.8 419.0,364.3 419.9,364.7 C420.9,365.0 421.7,365.9 423.2,366.2 C424.6,366.5 427.2,366.7 428.8,366.7 C430.5,366.7 431.6,366.5 432.9,365.9 C434.3,365.4 435.6,364.5 437.0,363.4 C438.3,362.3 439.7,360.8 441.0,359.2 C442.4,357.5 443.8,355.7 445.1,353.4 C446.5,351.2 447.8,348.7 449.2,345.8 C450.5,342.8 452.6,337.2 453.2,335.5" fill="none" stroke="#111" stroke-width="1.1" stroke-linejoin="round" stroke-linecap="round" />
<path d="M453.2,335.5 C452.6,337.4 450.5,343.2 449.2,346.4 C447.8,349.6 446.5,352.4 445.1,354.7 C443.8,357.0 442.4,358.8 441.0,360.4 C439.7,362.1 438.3,363.5 437.0,364.7 C435.6,365.8 434.3,366.5 432.9,367.2 C431.6,367.9 430.9,368.2 428.8,368.7 C426.8,369.3 423.2,369.9 420.7,370.3 C418.3,370.7 416.0,370.9 414.2,371.3 C412.5,371.7 411.6,372.1 410.2,372.8 C408.7,373.6 406.8,375.7 405.3,375.9 C403.8,376.1 402.7,374.7 401.2,374.1 C399.7,373.6 397.8,372.9 396.3,372.6 C394.8,372.2 393.6,372.2 392.3,372.1 C390.9,372.0 388.9,372.0 388.2,371.9" fill="none" stroke="#111" stroke-width="1.1" stroke-linejoin="round" stroke-linecap="round" />
<line x1="388.2" y1="371.3" x2="390.2" y2="371.3" stroke="#111" stroke-width="0.7" />
<text x="387.4" y="373.2" font-family="'Liberation Sans', Arial, sans-serif" font-size="5.4" fill="#222" text-anchor="end" font-weight="normal" font-style="normal" >0</text>
<line x1="388.2" y1="358.5" x2="390.2" y2="358.5" stroke="#111" stroke-width="0.7" />
<text x="387.4" y="360.4" font-family="'Liberation Sans', Arial, sans-serif" font-size="5.4" fill="#222" text-anchor="end" font-weight="normal" font-style="normal" >100</text>
<line x1="388.2" y1="345.8" x2="390.2" y2="345.8" stroke="#111" stroke-width="0.7" />
<text x="387.4" y="347.7" font-family="'Liberation Sans', Arial, sans-serif" font-size="5.4" fill="#222" text-anchor="end" font-weight="normal" font-style="normal" >200</text>
<line x1="388.2" y1="333.0" x2="390.2" y2="333.0" stroke="#111" stroke-width="0.7" />
<text x="387.4" y="334.9" font-family="'Liberation Sans', Arial, sans-serif" font-size="5.4" fill="#222" text-anchor="end" font-weight="normal" font-style="normal" >300</text>
<line x1="388.2" y1="379.7" x2="388.2" y2="377.7" stroke="#111" stroke-width="0.7" />
<text x="388.2" y="386.7" font-family="'Liberation Sans', Arial, sans-serif" font-size="5.2" fill="#222" text-anchor="middle" font-weight="normal" font-style="normal" >0.0</text>
<line x1="404.5" y1="379.7" x2="404.5" y2="377.7" stroke="#111" stroke-width="0.7" />
<text x="404.5" y="386.7" font-family="'Liberation Sans', Arial, sans-serif" font-size="5.2" fill="#222" text-anchor="middle" font-weight="normal" font-style="normal" >0.2</text>
<line x1="420.7" y1="379.7" x2="420.7" y2="377.7" stroke="#111" stroke-width="0.7" />
<text x="420.7" y="386.7" font-family="'Liberation Sans', Arial, sans-serif" font-size="5.2" fill="#222" text-anchor="middle" font-weight="normal" font-style="normal" >0.4</text>
<line x1="437.0" y1="379.7" x2="437.0" y2="377.7" stroke="#111" stroke-width="0.7" />
<text x="437.0" y="386.7" font-family="'Liberation Sans', Arial, sans-serif" font-size="5.2" fill="#222" text-anchor="middle" font-weight="normal" font-style="normal" >0.6</text>
<line x1="453.2" y1="379.7" x2="453.2" y2="377.7" stroke="#111" stroke-width="0.7" />
<text x="453.2" y="386.7" font-family="'Liberation Sans', Arial, sans-serif" font-size="5.2" fill="#222" text-anchor="middle" font-weight="normal" font-style="normal" >0.8</text>
<text x="408" y="392" font-family="'Liberation Sans', Arial, sans-serif" font-size="5.2" fill="#222"><tspan font-style="italic">E</tspan> (V vs. SCE)</text>
<text transform="translate(376.8,349.5) rotate(-90)" font-family="'Liberation Sans', Arial, sans-serif" font-size="4.6" fill="#222" text-anchor="middle"><tspan font-style="italic">j</tspan> (mA cm<tspan font-size="3.5" dy="-2">-2</tspan><tspan dy="2">)</tspan></text>
<rect x="25.9" y="493.5" width="121.5" height="51.0" fill="#fff" stroke="#8c8c8c" stroke-width="1"/>
<line x1="25.9" y1="494.6" x2="147.4" y2="494.6" stroke="#e6e6e6" stroke-width="0.8" />
<text x="22.1" y="497.6" font-family="'Liberation Sans', Arial, sans-serif" font-size="8.4" fill="#111" text-anchor="end" font-weight="bold" font-style="normal" >1.2</text>
<line x1="25.9" y1="511.0" x2="147.4" y2="511.0" stroke="#e6e6e6" stroke-width="0.8" />
<text x="22.1" y="514.0" font-family="'Liberation Sans', Arial, sans-serif" font-size="8.4" fill="#111" text-anchor="end" font-weight="bold" font-style="normal" >0.8</text>
<line x1="25.9" y1="527.4" x2="147.4" y2="527.4" stroke="#e6e6e6" stroke-width="0.8" />
<text x="22.1" y="530.4" font-family="'Liberation Sans', Arial, sans-serif" font-size="8.4" fill="#111" text-anchor="end" font-weight="bold" font-style="normal" >0.4</text>
<text x="22.1" y="546.7" font-family="'Liberation Sans', Arial, sans-serif" font-size="8.4" fill="#111" text-anchor="end" font-weight="bold" font-style="normal" >0</text>
<line x1="65.5" y1="493.5" x2="65.5" y2="544.5" stroke="#e6e6e6" stroke-width="0.8" />
<line x1="106.2" y1="493.5" x2="106.2" y2="544.5" stroke="#e6e6e6" stroke-width="0.8" />
<line x1="50.4" y1="543.7" x2="81.3" y2="498.2" stroke="#ff3a3a" stroke-width="1.0" />
<line x1="92.2" y1="498.2" x2="122.0" y2="506.4" stroke="#ff3a3a" stroke-width="1.0" />
<line x1="40.4" y1="543.7" x2="50.4" y2="543.7" stroke="#ee2020" stroke-width="2.3" />
<line x1="81.3" y1="498.2" x2="92.2" y2="498.2" stroke="#ee2020" stroke-width="2.3" />
<line x1="122.0" y1="506.4" x2="132.0" y2="506.4" stroke="#ee2020" stroke-width="2.3" />
<text x="45.5" y="556.9" font-family="'Liberation Sans', Arial, sans-serif" font-size="8.4" fill="#111" text-anchor="middle" font-weight="bold" font-style="normal" >IS</text>
<text x="86.2" y="556.9" font-family="'Liberation Sans', Arial, sans-serif" font-size="8.4" fill="#111" text-anchor="middle" font-weight="bold" font-style="normal" >TS</text>
<text x="126.8" y="556.9" font-family="'Liberation Sans', Arial, sans-serif" font-size="8.4" fill="#111" text-anchor="middle" font-weight="bold" font-style="normal" >FS</text>
<line x1="122.0" y1="507.4" x2="132.0" y2="507.4" stroke="#3344aa" stroke-width="1.0" />
<text x="83.2" y="519.3" font-family="'Liberation Serif', 'Times New Roman', serif" font-size="9.8" font-weight="bold" fill="#111" textLength="49" lengthAdjust="spacingAndGlyphs">TS Barrier:</text>
<text x="83.2" y="535.3" font-family="'Liberation Serif', 'Times New Roman', serif" font-size="9.8" font-weight="bold" fill="#111">1.11 eV</text>
<rect x="298.2" y="492.7" width="118.10000000000002" height="48.30000000000001" fill="#fff" stroke="#8c8c8c" stroke-width="1"/>
<text x="294.4" y="495.7" font-family="'Liberation Sans', Arial, sans-serif" font-size="8.4" fill="#111" text-anchor="end" font-weight="bold" font-style="normal" >0.4</text>
<line x1="298.2" y1="516.6" x2="416.3" y2="516.6" stroke="#e6e6e6" stroke-width="0.8" />
<text x="294.4" y="519.6" font-family="'Liberation Sans', Arial, sans-serif" font-size="8.4" fill="#111" text-anchor="end" font-weight="bold" font-style="normal" >0.2</text>
<text x="294.4" y="543.4" font-family="'Liberation Sans', Arial, sans-serif" font-size="8.4" fill="#111" text-anchor="end" font-weight="bold" font-style="normal" >0</text>
<line x1="339.0" y1="492.7" x2="339.0" y2="541.0" stroke="#e6e6e6" stroke-width="0.8" />
<line x1="377.3" y1="492.7" x2="377.3" y2="541.0" stroke="#e6e6e6" stroke-width="0.8" />
<line x1="322.7" y1="540.5" x2="352.7" y2="504.5" stroke="#3a60c0" stroke-width="1.0" />
<line x1="362.3" y1="504.5" x2="392.3" y2="516.7" stroke="#3a60c0" stroke-width="1.0" />
<line x1="313.2" y1="540.5" x2="322.7" y2="540.5" stroke="#1a3a9a" stroke-width="2.3" />
<line x1="352.7" y1="504.5" x2="362.3" y2="504.5" stroke="#1a3a9a" stroke-width="2.3" />
<line x1="392.3" y1="516.7" x2="401.8" y2="516.7" stroke="#1a3a9a" stroke-width="2.3" />
<text x="317.3" y="551.9" font-family="'Liberation Sans', Arial, sans-serif" font-size="8.4" fill="#111" text-anchor="middle" font-weight="bold" font-style="normal" >IS</text>
<text x="355.5" y="551.9" font-family="'Liberation Sans', Arial, sans-serif" font-size="8.4" fill="#111" text-anchor="middle" font-weight="bold" font-style="normal" >TS</text>
<text x="395.0" y="551.9" font-family="'Liberation Sans', Arial, sans-serif" font-size="8.4" fill="#111" text-anchor="middle" font-weight="bold" font-style="normal" >FS</text>
<text x="345.4" y="524.2" font-family="'Liberation Serif', 'Times New Roman', serif" font-size="9.8" font-weight="bold" fill="#111" textLength="49.6" lengthAdjust="spacingAndGlyphs">TS Barrier:</text>
<text x="345.4" y="540.7" font-family="'Liberation Serif', 'Times New Roman', serif" font-size="9.8" font-weight="bold" fill="#111">0.31 eV</text>
<text x="253.5" y="507.1" font-family="'Liberation Serif', 'Times New Roman', serif" font-size="19.5" fill="#111" text-anchor="start" font-weight="normal" font-style="normal" >(f)</text>
<text x="515.3" y="509.8" font-family="'Liberation Serif', 'Times New Roman', serif" font-size="20.6" fill="#111" text-anchor="start" font-weight="normal" font-style="normal" >(g)</text>
<text x="170.4" y="534" font-family="'Liberation Serif', 'Times New Roman', serif" font-size="15.5" font-weight="bold" fill="#111" textLength="77" lengthAdjust="spacingAndGlyphs">E<tspan font-size="10">ad</tspan>=0.92 eV</text>
<text x="459.4" y="540" font-family="'Liberation Serif', 'Times New Roman', serif" font-size="15.5" font-weight="bold" fill="#111" textLength="75.6" lengthAdjust="spacingAndGlyphs">E<tspan font-size="10">ad</tspan>=0.20eV</text>
<defs>
<radialGradient id="gNi" cx="0.38" cy="0.35" r="0.68"><stop offset="0" stop-color="#a8c2ec"/><stop offset="0.35" stop-color="#5d85c4"/><stop offset="0.85" stop-color="#3d62a0"/><stop offset="1" stop-color="#233d6e"/></radialGradient>
<radialGradient id="gO" cx="0.38" cy="0.35" r="0.68"><stop offset="0" stop-color="#ffb4b4"/><stop offset="0.28" stop-color="#ff1c1c"/><stop offset="0.85" stop-color="#cc0000"/><stop offset="1" stop-color="#700000"/></radialGradient>
<radialGradient id="gH" cx="0.38" cy="0.35" r="0.68"><stop offset="0" stop-color="#ffffff"/><stop offset="0.5" stop-color="#ececec"/><stop offset="0.85" stop-color="#b4b4b4"/><stop offset="1" stop-color="#5a5a5a"/></radialGradient>
<radialGradient id="gC" cx="0.38" cy="0.35" r="0.68"><stop offset="0" stop-color="#d0d0d0"/><stop offset="0.4" stop-color="#888888"/><stop offset="0.85" stop-color="#5a5a5a"/><stop offset="1" stop-color="#303030"/></radialGradient>
<radialGradient id="gS" cx="0.38" cy="0.35" r="0.68"><stop offset="0" stop-color="#ffd884"/><stop offset="0.4" stop-color="#f2a41e"/><stop offset="0.85" stop-color="#c88200"/><stop offset="1" stop-color="#805000"/></radialGradient>
</defs>
<clipPath id="clf"><rect x="20.5" y="538" width="256.0" height="98"/></clipPath>
<g clip-path="url(#clf)">
<line x1="53.1" y1="581.0" x2="74.2" y2="590.2" stroke="#5a84c4" stroke-width="2.3" />
<line x1="74.2" y1="590.2" x2="95.2" y2="599.5" stroke="#5a84c4" stroke-width="2.3" />
<line x1="95.2" y1="599.5" x2="115.6" y2="589.8" stroke="#5a84c4" stroke-width="2.3" />
<line x1="115.6" y1="589.8" x2="136.0" y2="580.0" stroke="#5a84c4" stroke-width="2.3" />
<line x1="53.1" y1="581.0" x2="53.4" y2="601.5" stroke="#5a84c4" stroke-width="2.3" />
<line x1="53.4" y1="601.5" x2="53.6" y2="622.0" stroke="#5a84c4" stroke-width="2.3" />
<line x1="54.5" y1="581.0" x2="55.0" y2="601.5" stroke="#5a84c4" stroke-width="2.3" />
<line x1="55.0" y1="601.5" x2="55.5" y2="622.0" stroke="#5a84c4" stroke-width="2.3" />
<line x1="136.0" y1="580.0" x2="136.0" y2="600.6" stroke="#5a84c4" stroke-width="2.3" />
<line x1="136.0" y1="600.6" x2="136.0" y2="621.2" stroke="#5a84c4" stroke-width="2.3" />
<line x1="137.5" y1="580.0" x2="137.8" y2="600.6" stroke="#5a84c4" stroke-width="2.3" />
<line x1="137.8" y1="600.6" x2="138.0" y2="621.2" stroke="#5a84c4" stroke-width="2.3" />
<line x1="95.2" y1="599.5" x2="115.6" y2="610.4" stroke="#5a84c4" stroke-width="2.3" />
<line x1="115.6" y1="610.4" x2="136.0" y2="621.2" stroke="#5a84c4" stroke-width="2.3" />
<line x1="53.1" y1="581.0" x2="74.2" y2="586.5" stroke="#5a84c4" stroke-width="2.3" />
<line x1="74.2" y1="586.5" x2="95.2" y2="592.0" stroke="#5a84c4" stroke-width="2.3" />
<line x1="95.2" y1="599.5" x2="115.6" y2="593.2" stroke="#5a84c4" stroke-width="2.3" />
<line x1="115.6" y1="593.2" x2="136.0" y2="587.0" stroke="#5a84c4" stroke-width="2.3" />
<line x1="136.0" y1="580.0" x2="156.8" y2="589.3" stroke="#5a84c4" stroke-width="2.3" />
<line x1="156.8" y1="589.3" x2="177.7" y2="598.6" stroke="#5a84c4" stroke-width="2.3" />
<line x1="177.7" y1="598.6" x2="198.1" y2="589.0" stroke="#5a84c4" stroke-width="2.3" />
<line x1="198.1" y1="589.0" x2="218.6" y2="579.5" stroke="#5a84c4" stroke-width="2.3" />
<line x1="218.6" y1="579.5" x2="218.6" y2="600.0" stroke="#5a84c4" stroke-width="2.3" />
<line x1="218.6" y1="600.0" x2="218.6" y2="620.4" stroke="#5a84c4" stroke-width="2.3" />
<line x1="220.0" y1="579.5" x2="220.2" y2="600.0" stroke="#5a84c4" stroke-width="2.3" />
<line x1="220.2" y1="600.0" x2="220.5" y2="620.4" stroke="#5a84c4" stroke-width="2.3" />
<line x1="177.7" y1="598.6" x2="198.1" y2="609.5" stroke="#5a84c4" stroke-width="2.3" />
<line x1="198.1" y1="609.5" x2="218.6" y2="620.4" stroke="#5a84c4" stroke-width="2.3" />
<line x1="218.6" y1="579.5" x2="239.8" y2="589.0" stroke="#5a84c4" stroke-width="2.3" />
<line x1="239.8" y1="589.0" x2="260.9" y2="598.6" stroke="#5a84c4" stroke-width="2.3" />
<line x1="260.9" y1="598.6" x2="275.4" y2="598.6" stroke="#5a84c4" stroke-width="2.3" />
<line x1="275.4" y1="598.6" x2="290.0" y2="598.6" stroke="#5a84c4" stroke-width="2.3" />
<line x1="136.0" y1="580.0" x2="156.8" y2="586.0" stroke="#5a84c4" stroke-width="2.3" />
<line x1="156.8" y1="586.0" x2="177.7" y2="592.0" stroke="#5a84c4" stroke-width="2.3" />
<line x1="177.7" y1="598.6" x2="198.1" y2="592.8" stroke="#5a84c4" stroke-width="2.3" />
<line x1="198.1" y1="592.8" x2="218.6" y2="587.0" stroke="#5a84c4" stroke-width="2.3" />
<line x1="218.6" y1="579.5" x2="239.8" y2="585.8" stroke="#5a84c4" stroke-width="2.3" />
<line x1="239.8" y1="585.8" x2="260.9" y2="592.0" stroke="#5a84c4" stroke-width="2.3" />
<line x1="53.1" y1="581.0" x2="41.0" y2="581.0" stroke="#5a84c4" stroke-width="2.3" />
<line x1="41.0" y1="581.0" x2="29.0" y2="581.0" stroke="#ee1c1c" stroke-width="2.3" />
<line x1="53.1" y1="581.0" x2="66.1" y2="578.9" stroke="#5a84c4" stroke-width="2.3" />
<line x1="66.1" y1="578.9" x2="79.1" y2="576.8" stroke="#ee1c1c" stroke-width="2.3" />
<line x1="53.1" y1="581.0" x2="59.9" y2="591.2" stroke="#5a84c4" stroke-width="2.3" />
<line x1="59.9" y1="591.2" x2="66.7" y2="601.5" stroke="#ee1c1c" stroke-width="2.3" />
<line x1="95.2" y1="599.5" x2="87.2" y2="588.1" stroke="#5a84c4" stroke-width="2.3" />
<line x1="87.2" y1="588.1" x2="79.1" y2="576.8" stroke="#ee1c1c" stroke-width="2.3" />
<line x1="95.2" y1="599.5" x2="103.1" y2="589.8" stroke="#5a84c4" stroke-width="2.3" />
<line x1="103.1" y1="589.8" x2="111.0" y2="580.0" stroke="#ee1c1c" stroke-width="2.3" />
<line x1="95.2" y1="599.5" x2="81.0" y2="600.5" stroke="#5a84c4" stroke-width="2.3" />
<line x1="81.0" y1="600.5" x2="66.7" y2="601.5" stroke="#ee1c1c" stroke-width="2.3" />
<line x1="95.2" y1="599.5" x2="109.3" y2="601.2" stroke="#5a84c4" stroke-width="2.3" />
<line x1="109.3" y1="601.2" x2="123.4" y2="603.0" stroke="#ee1c1c" stroke-width="2.3" />
<line x1="95.2" y1="599.5" x2="101.8" y2="610.1" stroke="#5a84c4" stroke-width="2.3" />
<line x1="101.8" y1="610.1" x2="108.3" y2="620.8" stroke="#ee1c1c" stroke-width="2.3" />
<line x1="136.0" y1="580.0" x2="123.5" y2="580.0" stroke="#5a84c4" stroke-width="2.3" />
<line x1="123.5" y1="580.0" x2="111.0" y2="580.0" stroke="#ee1c1c" stroke-width="2.3" />
<line x1="136.0" y1="580.0" x2="129.7" y2="591.5" stroke="#5a84c4" stroke-width="2.3" />
<line x1="129.7" y1="591.5" x2="123.4" y2="603.0" stroke="#ee1c1c" stroke-width="2.3" />
<line x1="136.0" y1="580.0" x2="143.2" y2="590.0" stroke="#5a84c4" stroke-width="2.3" />
<line x1="143.2" y1="590.0" x2="150.5" y2="600.0" stroke="#ee1c1c" stroke-width="2.3" />
<line x1="177.7" y1="598.6" x2="172.2" y2="587.0" stroke="#5a84c4" stroke-width="2.3" />
<line x1="172.2" y1="587.0" x2="166.8" y2="575.5" stroke="#ee1c1c" stroke-width="2.3" />
<line x1="177.7" y1="598.6" x2="185.8" y2="589.5" stroke="#5a84c4" stroke-width="2.3" />
<line x1="185.8" y1="589.5" x2="194.0" y2="580.4" stroke="#ee1c1c" stroke-width="2.3" />
<line x1="177.7" y1="598.6" x2="164.1" y2="599.3" stroke="#5a84c4" stroke-width="2.3" />
<line x1="164.1" y1="599.3" x2="150.5" y2="600.0" stroke="#ee1c1c" stroke-width="2.3" />
<line x1="177.7" y1="598.6" x2="184.6" y2="609.5" stroke="#5a84c4" stroke-width="2.3" />
<line x1="184.6" y1="609.5" x2="191.4" y2="620.4" stroke="#ee1c1c" stroke-width="2.3" />
<line x1="218.6" y1="579.5" x2="206.3" y2="580.0" stroke="#5a84c4" stroke-width="2.3" />
<line x1="206.3" y1="580.0" x2="194.0" y2="580.4" stroke="#ee1c1c" stroke-width="2.3" />
<line x1="218.6" y1="579.5" x2="225.4" y2="589.8" stroke="#5a84c4" stroke-width="2.3" />
<line x1="225.4" y1="589.8" x2="232.3" y2="600.0" stroke="#ee1c1c" stroke-width="2.3" />
<line x1="218.6" y1="579.5" x2="231.6" y2="577.5" stroke="#5a84c4" stroke-width="2.3" />
<line x1="231.6" y1="577.5" x2="244.5" y2="575.5" stroke="#ee1c1c" stroke-width="2.3" />
<line x1="260.9" y1="598.6" x2="246.6" y2="599.3" stroke="#5a84c4" stroke-width="2.3" />
<line x1="246.6" y1="599.3" x2="232.3" y2="600.0" stroke="#ee1c1c" stroke-width="2.3" />
<line x1="260.9" y1="598.6" x2="252.7" y2="587.0" stroke="#5a84c4" stroke-width="2.3" />
<line x1="252.7" y1="587.0" x2="244.5" y2="575.5" stroke="#ee1c1c" stroke-width="2.3" />
<line x1="260.9" y1="598.6" x2="267.0" y2="588.4" stroke="#5a84c4" stroke-width="2.3" />
<line x1="267.0" y1="588.4" x2="273.2" y2="578.2" stroke="#ee1c1c" stroke-width="2.3" />
<line x1="260.9" y1="598.6" x2="266.9" y2="609.5" stroke="#5a84c4" stroke-width="2.3" />
<line x1="266.9" y1="609.5" x2="273.0" y2="620.4" stroke="#ee1c1c" stroke-width="2.3" />
<line x1="53.6" y1="622.0" x2="60.2" y2="611.8" stroke="#5a84c4" stroke-width="2.3" />
<line x1="60.2" y1="611.8" x2="66.7" y2="601.5" stroke="#ee1c1c" stroke-width="2.3" />
<line x1="53.6" y1="622.0" x2="39.6" y2="622.0" stroke="#5a84c4" stroke-width="2.3" />
<line x1="39.6" y1="622.0" x2="25.7" y2="622.0" stroke="#ee1c1c" stroke-width="2.3" />
<line x1="136.0" y1="621.2" x2="129.7" y2="612.1" stroke="#5a84c4" stroke-width="2.3" />
<line x1="129.7" y1="612.1" x2="123.4" y2="603.0" stroke="#ee1c1c" stroke-width="2.3" />
<line x1="136.0" y1="621.2" x2="122.2" y2="621.0" stroke="#5a84c4" stroke-width="2.3" />
<line x1="122.2" y1="621.0" x2="108.3" y2="620.8" stroke="#ee1c1c" stroke-width="2.3" />
<line x1="136.0" y1="621.2" x2="143.2" y2="610.6" stroke="#5a84c4" stroke-width="2.3" />
<line x1="143.2" y1="610.6" x2="150.5" y2="600.0" stroke="#ee1c1c" stroke-width="2.3" />
<line x1="218.6" y1="620.4" x2="225.4" y2="610.2" stroke="#5a84c4" stroke-width="2.3" />
<line x1="225.4" y1="610.2" x2="232.3" y2="600.0" stroke="#ee1c1c" stroke-width="2.3" />
<line x1="218.6" y1="620.4" x2="205.0" y2="620.4" stroke="#5a84c4" stroke-width="2.3" />
<line x1="205.0" y1="620.4" x2="191.4" y2="620.4" stroke="#ee1c1c" stroke-width="2.3" />
<line x1="66.7" y1="601.5" x2="64.3" y2="601.0" stroke="#ee1c1c" stroke-width="2.3" />
<line x1="64.3" y1="601.0" x2="62.0" y2="600.5" stroke="#e8e8e8" stroke-width="2.3" />
<line x1="232.3" y1="600.0" x2="228.4" y2="599.0" stroke="#ee1c1c" stroke-width="2.3" />
<line x1="228.4" y1="599.0" x2="224.5" y2="598.0" stroke="#e8e8e8" stroke-width="2.3" />
<line x1="29.0" y1="581.0" x2="26.8" y2="574.8" stroke="#ee1c1c" stroke-width="2.3" />
<line x1="26.8" y1="574.8" x2="24.5" y2="568.6" stroke="#e8e8e8" stroke-width="2.3" />
<line x1="79.1" y1="576.8" x2="80.9" y2="573.6" stroke="#ee1c1c" stroke-width="2.3" />
<line x1="80.9" y1="573.6" x2="82.8" y2="570.5" stroke="#e8e8e8" stroke-width="2.3" />
<line x1="111.0" y1="580.0" x2="107.5" y2="573.6" stroke="#ee1c1c" stroke-width="2.3" />
<line x1="107.5" y1="573.6" x2="104.0" y2="567.3" stroke="#e8e8e8" stroke-width="2.3" />
<line x1="123.4" y1="603.0" x2="121.1" y2="598.9" stroke="#ee1c1c" stroke-width="2.3" />
<line x1="121.1" y1="598.9" x2="118.8" y2="594.8" stroke="#e8e8e8" stroke-width="2.3" />
<line x1="194.0" y1="580.4" x2="191.3" y2="573.1" stroke="#ee1c1c" stroke-width="2.3" />
<line x1="191.3" y1="573.1" x2="188.6" y2="565.9" stroke="#e8e8e8" stroke-width="2.3" />
<line x1="166.8" y1="575.5" x2="172.9" y2="575.5" stroke="#ee1c1c" stroke-width="2.3" />
<line x1="172.9" y1="575.5" x2="179.0" y2="575.5" stroke="#e8e8e8" stroke-width="2.3" />
<line x1="244.5" y1="575.5" x2="246.6" y2="572.0" stroke="#ee1c1c" stroke-width="2.3" />
<line x1="246.6" y1="572.0" x2="248.6" y2="568.6" stroke="#e8e8e8" stroke-width="2.3" />
<line x1="273.2" y1="578.2" x2="271.1" y2="572.0" stroke="#ee1c1c" stroke-width="2.3" />
<line x1="271.1" y1="572.0" x2="269.0" y2="565.9" stroke="#e8e8e8" stroke-width="2.3" />
<line x1="25.7" y1="622.0" x2="39.6" y2="622.0" stroke="#ee1c1c" stroke-width="2.3" />
<line x1="39.6" y1="622.0" x2="53.6" y2="622.0" stroke="#5a84c4" stroke-width="2.3" />
<line x1="53.6" y1="622.0" x2="67.8" y2="621.4" stroke="#5a84c4" stroke-width="2.3" />
<line x1="67.8" y1="621.4" x2="82.0" y2="620.7" stroke="#e8e8e8" stroke-width="2.3" />
<line x1="82.0" y1="620.7" x2="88.6" y2="610.1" stroke="#e8e8e8" stroke-width="2.3" />
<line x1="88.6" y1="610.1" x2="95.2" y2="599.5" stroke="#ee1c1c" stroke-width="2.3" />
<line x1="108.3" y1="620.8" x2="122.2" y2="621.0" stroke="#ee1c1c" stroke-width="2.3" />
<line x1="122.2" y1="621.0" x2="136.0" y2="621.2" stroke="#5a84c4" stroke-width="2.3" />
<line x1="136.0" y1="621.2" x2="150.0" y2="620.8" stroke="#5a84c4" stroke-width="2.3" />
<line x1="150.0" y1="620.8" x2="164.0" y2="620.4" stroke="#e8e8e8" stroke-width="2.3" />
<line x1="191.4" y1="620.4" x2="205.0" y2="620.4" stroke="#ee1c1c" stroke-width="2.3" />
<line x1="205.0" y1="620.4" x2="218.6" y2="620.4" stroke="#5a84c4" stroke-width="2.3" />
<line x1="218.6" y1="620.4" x2="232.9" y2="619.7" stroke="#5a84c4" stroke-width="2.3" />
<line x1="232.9" y1="619.7" x2="247.3" y2="619.0" stroke="#e8e8e8" stroke-width="2.3" />
<line x1="273.0" y1="620.4" x2="266.9" y2="609.5" stroke="#ee1c1c" stroke-width="2.3" />
<line x1="266.9" y1="609.5" x2="260.9" y2="598.6" stroke="#5a84c4" stroke-width="2.3" />
<line x1="153.2" y1="556.4" x2="160.7" y2="557.0" stroke="#ee1c1c" stroke-width="2.3" />
<line x1="160.7" y1="557.0" x2="168.2" y2="557.7" stroke="#888888" stroke-width="2.3" />
<line x1="168.2" y1="557.7" x2="175.7" y2="552.2" stroke="#888888" stroke-width="2.3" />
<line x1="175.7" y1="552.2" x2="183.2" y2="546.8" stroke="#ee1c1c" stroke-width="2.3" />
<line x1="166.8" y1="575.5" x2="167.5" y2="566.6" stroke="#ee1c1c" stroke-width="2.3" />
<line x1="167.5" y1="566.6" x2="168.2" y2="557.7" stroke="#888888" stroke-width="2.3" />
<circle cx="62.0" cy="600.5" r="7.1" fill="url(#gH)"/>
<circle cx="202.0" cy="597.0" r="7.1" fill="url(#gH)"/>
<circle cx="224.5" cy="598.0" r="7.1" fill="url(#gH)"/>
<circle cx="53.1" cy="581.0" r="7.2" fill="url(#gNi)"/>
<circle cx="95.2" cy="599.5" r="7.2" fill="url(#gNi)"/>
<circle cx="136.0" cy="580.0" r="7.2" fill="url(#gNi)"/>
<circle cx="177.7" cy="598.6" r="7.2" fill="url(#gNi)"/>
<circle cx="218.6" cy="579.5" r="7.2" fill="url(#gNi)"/>
<circle cx="260.9" cy="598.6" r="7.2" fill="url(#gNi)"/>
<circle cx="53.6" cy="622.0" r="7.2" fill="url(#gNi)"/>
<circle cx="136.0" cy="621.2" r="7.2" fill="url(#gNi)"/>
<circle cx="218.6" cy="620.4" r="7.2" fill="url(#gNi)"/>
<circle cx="29.0" cy="581.0" r="7.4" fill="url(#gO)"/>
<circle cx="79.1" cy="576.8" r="7.4" fill="url(#gO)"/>
<circle cx="111.0" cy="580.0" r="7.4" fill="url(#gO)"/>
<circle cx="66.7" cy="601.5" r="7.4" fill="url(#gO)"/>
<circle cx="123.4" cy="603.0" r="7.4" fill="url(#gO)"/>
<circle cx="25.7" cy="622.0" r="7.4" fill="url(#gO)"/>
<circle cx="108.3" cy="620.8" r="7.4" fill="url(#gO)"/>
<circle cx="166.8" cy="575.5" r="7.4" fill="url(#gO)"/>
<circle cx="194.0" cy="580.4" r="7.4" fill="url(#gO)"/>
<circle cx="150.5" cy="600.0" r="7.4" fill="url(#gO)"/>
<circle cx="232.3" cy="600.0" r="7.4" fill="url(#gO)"/>
<circle cx="191.4" cy="620.4" r="7.4" fill="url(#gO)"/>
<circle cx="244.5" cy="575.5" r="7.4" fill="url(#gO)"/>
<circle cx="273.2" cy="578.2" r="7.4" fill="url(#gO)"/>
<circle cx="273.0" cy="620.4" r="7.4" fill="url(#gO)"/>
<circle cx="24.5" cy="568.6" r="7.1" fill="url(#gH)"/>
<circle cx="82.8" cy="570.5" r="7.1" fill="url(#gH)"/>
<circle cx="104.0" cy="567.3" r="7.1" fill="url(#gH)"/>
<circle cx="38.5" cy="599.0" r="7.1" fill="url(#gH)"/>
<circle cx="118.8" cy="594.8" r="7.1" fill="url(#gH)"/>
<circle cx="82.0" cy="620.7" r="7.1" fill="url(#gH)"/>
<circle cx="188.6" cy="565.9" r="7.1" fill="url(#gH)"/>
<circle cx="179.0" cy="575.5" r="7.1" fill="url(#gH)"/>
<circle cx="248.6" cy="568.6" r="7.1" fill="url(#gH)"/>
<circle cx="269.0" cy="565.9" r="7.1" fill="url(#gH)"/>
<circle cx="164.0" cy="620.4" r="7.1" fill="url(#gH)"/>
<circle cx="247.3" cy="619.0" r="7.1" fill="url(#gH)"/>
<circle cx="206.0" cy="598.0" r="7.1" fill="url(#gH)"/>
<circle cx="153.2" cy="556.4" r="7.4" fill="url(#gO)"/>
<circle cx="168.2" cy="557.7" r="6.4" fill="url(#gC)"/>
<circle cx="183.2" cy="546.8" r="7.4" fill="url(#gO)"/>
</g>
<clipPath id="clg"><rect x="284.5" y="538" width="258.0" height="98"/></clipPath>
<g clip-path="url(#clg)">
<line x1="318.6" y1="579.5" x2="339.1" y2="589.0" stroke="#5a84c4" stroke-width="2.3" />
<line x1="339.1" y1="589.0" x2="359.5" y2="598.6" stroke="#5a84c4" stroke-width="2.3" />
<line x1="359.5" y1="598.6" x2="381.6" y2="587.7" stroke="#5a84c4" stroke-width="2.3" />
<line x1="381.6" y1="587.7" x2="403.6" y2="576.8" stroke="#5a84c4" stroke-width="2.3" />
<line x1="318.6" y1="579.5" x2="318.6" y2="600.0" stroke="#5a84c4" stroke-width="2.3" />
<line x1="318.6" y1="600.0" x2="318.6" y2="620.4" stroke="#5a84c4" stroke-width="2.3" />
<line x1="320.0" y1="579.5" x2="320.2" y2="600.0" stroke="#5a84c4" stroke-width="2.3" />
<line x1="320.2" y1="600.0" x2="320.5" y2="620.4" stroke="#5a84c4" stroke-width="2.3" />
<line x1="403.6" y1="576.8" x2="403.1" y2="598.6" stroke="#5a84c4" stroke-width="2.3" />
<line x1="403.1" y1="598.6" x2="402.5" y2="620.4" stroke="#5a84c4" stroke-width="2.3" />
<line x1="405.0" y1="576.8" x2="404.5" y2="598.6" stroke="#5a84c4" stroke-width="2.3" />
<line x1="404.5" y1="598.6" x2="404.0" y2="620.4" stroke="#5a84c4" stroke-width="2.3" />
<line x1="359.5" y1="598.6" x2="381.0" y2="609.5" stroke="#5a84c4" stroke-width="2.3" />
<line x1="381.0" y1="609.5" x2="402.5" y2="620.4" stroke="#5a84c4" stroke-width="2.3" />
<line x1="318.6" y1="579.5" x2="339.1" y2="585.8" stroke="#5a84c4" stroke-width="2.3" />
<line x1="339.1" y1="585.8" x2="359.5" y2="592.0" stroke="#5a84c4" stroke-width="2.3" />
<line x1="359.5" y1="598.6" x2="381.6" y2="591.8" stroke="#5a84c4" stroke-width="2.3" />
<line x1="381.6" y1="591.8" x2="403.6" y2="585.0" stroke="#5a84c4" stroke-width="2.3" />
<line x1="403.6" y1="576.8" x2="423.6" y2="588.4" stroke="#5a84c4" stroke-width="2.3" />
<line x1="423.6" y1="588.4" x2="443.6" y2="600.0" stroke="#5a84c4" stroke-width="2.3" />
<line x1="443.6" y1="600.0" x2="464.1" y2="589.8" stroke="#5a84c4" stroke-width="2.3" />
<line x1="464.1" y1="589.8" x2="484.5" y2="579.5" stroke="#5a84c4" stroke-width="2.3" />
<line x1="484.5" y1="579.5" x2="483.9" y2="600.0" stroke="#5a84c4" stroke-width="2.3" />
<line x1="483.9" y1="600.0" x2="483.2" y2="620.4" stroke="#5a84c4" stroke-width="2.3" />
<line x1="486.0" y1="579.5" x2="485.5" y2="600.0" stroke="#5a84c4" stroke-width="2.3" />
<line x1="485.5" y1="600.0" x2="485.0" y2="620.4" stroke="#5a84c4" stroke-width="2.3" />
<line x1="443.6" y1="600.0" x2="463.4" y2="610.2" stroke="#5a84c4" stroke-width="2.3" />
<line x1="463.4" y1="610.2" x2="483.2" y2="620.4" stroke="#5a84c4" stroke-width="2.3" />
<line x1="484.5" y1="579.5" x2="504.2" y2="589.0" stroke="#5a84c4" stroke-width="2.3" />
<line x1="504.2" y1="589.0" x2="524.0" y2="598.6" stroke="#5a84c4" stroke-width="2.3" />
<line x1="524.0" y1="598.6" x2="534.5" y2="593.3" stroke="#5a84c4" stroke-width="2.3" />
<line x1="534.5" y1="593.3" x2="545.0" y2="588.0" stroke="#5a84c4" stroke-width="2.3" />
<line x1="403.6" y1="576.8" x2="423.6" y2="584.4" stroke="#5a84c4" stroke-width="2.3" />
<line x1="423.6" y1="584.4" x2="443.6" y2="592.0" stroke="#5a84c4" stroke-width="2.3" />
<line x1="443.6" y1="600.0" x2="464.1" y2="593.5" stroke="#5a84c4" stroke-width="2.3" />
<line x1="464.1" y1="593.5" x2="484.5" y2="587.0" stroke="#5a84c4" stroke-width="2.3" />
<line x1="484.5" y1="579.5" x2="504.2" y2="585.8" stroke="#5a84c4" stroke-width="2.3" />
<line x1="504.2" y1="585.8" x2="524.0" y2="592.0" stroke="#5a84c4" stroke-width="2.3" />
<line x1="524.0" y1="598.6" x2="534.5" y2="605.3" stroke="#5a84c4" stroke-width="2.3" />
<line x1="534.5" y1="605.3" x2="545.0" y2="612.0" stroke="#5a84c4" stroke-width="2.3" />
<line x1="318.6" y1="579.5" x2="310.1" y2="589.8" stroke="#5a84c4" stroke-width="2.3" />
<line x1="310.1" y1="589.8" x2="301.5" y2="600.0" stroke="#ee1c1c" stroke-width="2.3" />
<line x1="318.6" y1="579.5" x2="306.3" y2="578.9" stroke="#5a84c4" stroke-width="2.3" />
<line x1="306.3" y1="578.9" x2="294.0" y2="578.2" stroke="#ee1c1c" stroke-width="2.3" />
<line x1="318.6" y1="579.5" x2="330.2" y2="579.5" stroke="#5a84c4" stroke-width="2.3" />
<line x1="330.2" y1="579.5" x2="341.8" y2="579.5" stroke="#ee1c1c" stroke-width="2.3" />
<line x1="318.6" y1="579.5" x2="325.5" y2="589.8" stroke="#5a84c4" stroke-width="2.3" />
<line x1="325.5" y1="589.8" x2="332.3" y2="600.0" stroke="#ee1c1c" stroke-width="2.3" />
<line x1="359.5" y1="598.6" x2="350.6" y2="589.0" stroke="#5a84c4" stroke-width="2.3" />
<line x1="350.6" y1="589.0" x2="341.8" y2="579.5" stroke="#ee1c1c" stroke-width="2.3" />
<line x1="359.5" y1="598.6" x2="345.9" y2="599.3" stroke="#5a84c4" stroke-width="2.3" />
<line x1="345.9" y1="599.3" x2="332.3" y2="600.0" stroke="#ee1c1c" stroke-width="2.3" />
<line x1="359.5" y1="598.6" x2="366.4" y2="609.5" stroke="#5a84c4" stroke-width="2.3" />
<line x1="366.4" y1="609.5" x2="373.2" y2="620.4" stroke="#ee1c1c" stroke-width="2.3" />
<line x1="403.6" y1="576.8" x2="418.8" y2="576.1" stroke="#5a84c4" stroke-width="2.3" />
<line x1="418.8" y1="576.1" x2="434.0" y2="575.5" stroke="#ee1c1c" stroke-width="2.3" />
<line x1="403.6" y1="576.8" x2="410.0" y2="587.7" stroke="#5a84c4" stroke-width="2.3" />
<line x1="410.0" y1="587.7" x2="416.4" y2="598.6" stroke="#ee1c1c" stroke-width="2.3" />
<line x1="443.6" y1="600.0" x2="438.8" y2="587.8" stroke="#5a84c4" stroke-width="2.3" />
<line x1="438.8" y1="587.8" x2="434.0" y2="575.5" stroke="#ee1c1c" stroke-width="2.3" />
<line x1="443.6" y1="600.0" x2="430.0" y2="599.3" stroke="#5a84c4" stroke-width="2.3" />
<line x1="430.0" y1="599.3" x2="416.4" y2="598.6" stroke="#ee1c1c" stroke-width="2.3" />
<line x1="443.6" y1="600.0" x2="452.5" y2="589.8" stroke="#5a84c4" stroke-width="2.3" />
<line x1="452.5" y1="589.8" x2="461.4" y2="579.5" stroke="#ee1c1c" stroke-width="2.3" />
<line x1="443.6" y1="600.0" x2="456.6" y2="600.7" stroke="#5a84c4" stroke-width="2.3" />
<line x1="456.6" y1="600.7" x2="469.5" y2="601.4" stroke="#ee1c1c" stroke-width="2.3" />
<line x1="443.6" y1="600.0" x2="449.8" y2="610.2" stroke="#5a84c4" stroke-width="2.3" />
<line x1="449.8" y1="610.2" x2="456.0" y2="620.4" stroke="#ee1c1c" stroke-width="2.3" />
<line x1="484.5" y1="579.5" x2="472.9" y2="579.5" stroke="#5a84c4" stroke-width="2.3" />
<line x1="472.9" y1="579.5" x2="461.4" y2="579.5" stroke="#ee1c1c" stroke-width="2.3" />
<line x1="484.5" y1="579.5" x2="477.0" y2="590.5" stroke="#5a84c4" stroke-width="2.3" />
<line x1="477.0" y1="590.5" x2="469.5" y2="601.4" stroke="#ee1c1c" stroke-width="2.3" />
<line x1="484.5" y1="579.5" x2="490.6" y2="590.5" stroke="#5a84c4" stroke-width="2.3" />
<line x1="490.6" y1="590.5" x2="496.8" y2="601.4" stroke="#ee1c1c" stroke-width="2.3" />
<line x1="484.5" y1="579.5" x2="496.1" y2="580.2" stroke="#5a84c4" stroke-width="2.3" />
<line x1="496.1" y1="580.2" x2="507.7" y2="581.0" stroke="#ee1c1c" stroke-width="2.3" />
<line x1="524.0" y1="598.6" x2="510.4" y2="600.0" stroke="#5a84c4" stroke-width="2.3" />
<line x1="510.4" y1="600.0" x2="496.8" y2="601.4" stroke="#ee1c1c" stroke-width="2.3" />
<line x1="524.0" y1="598.6" x2="515.9" y2="589.8" stroke="#5a84c4" stroke-width="2.3" />
<line x1="515.9" y1="589.8" x2="507.7" y2="581.0" stroke="#ee1c1c" stroke-width="2.3" />
<line x1="524.0" y1="598.6" x2="530.9" y2="610.2" stroke="#5a84c4" stroke-width="2.3" />
<line x1="530.9" y1="610.2" x2="537.7" y2="621.8" stroke="#ee1c1c" stroke-width="2.3" />
<line x1="318.6" y1="620.4" x2="310.1" y2="610.2" stroke="#5a84c4" stroke-width="2.3" />
<line x1="310.1" y1="610.2" x2="301.5" y2="600.0" stroke="#ee1c1c" stroke-width="2.3" />
<line x1="318.6" y1="620.4" x2="325.5" y2="610.2" stroke="#5a84c4" stroke-width="2.3" />
<line x1="325.5" y1="610.2" x2="332.3" y2="600.0" stroke="#ee1c1c" stroke-width="2.3" />
<line x1="318.6" y1="620.4" x2="305.0" y2="620.4" stroke="#5a84c4" stroke-width="2.3" />
<line x1="305.0" y1="620.4" x2="291.4" y2="620.4" stroke="#ee1c1c" stroke-width="2.3" />
<line x1="402.5" y1="620.4" x2="387.9" y2="620.4" stroke="#5a84c4" stroke-width="2.3" />
<line x1="387.9" y1="620.4" x2="373.2" y2="620.4" stroke="#ee1c1c" stroke-width="2.3" />
<line x1="402.5" y1="620.4" x2="409.4" y2="609.5" stroke="#5a84c4" stroke-width="2.3" />
<line x1="409.4" y1="609.5" x2="416.4" y2="598.6" stroke="#ee1c1c" stroke-width="2.3" />
<line x1="483.2" y1="620.4" x2="476.4" y2="610.9" stroke="#5a84c4" stroke-width="2.3" />
<line x1="476.4" y1="610.9" x2="469.5" y2="601.4" stroke="#ee1c1c" stroke-width="2.3" />
<line x1="483.2" y1="620.4" x2="490.0" y2="610.9" stroke="#5a84c4" stroke-width="2.3" />
<line x1="490.0" y1="610.9" x2="496.8" y2="601.4" stroke="#ee1c1c" stroke-width="2.3" />
<line x1="483.2" y1="620.4" x2="469.6" y2="620.4" stroke="#5a84c4" stroke-width="2.3" />
<line x1="469.6" y1="620.4" x2="456.0" y2="620.4" stroke="#ee1c1c" stroke-width="2.3" />
<line x1="332.3" y1="600.0" x2="329.6" y2="599.0" stroke="#ee1c1c" stroke-width="2.3" />
<line x1="329.6" y1="599.0" x2="327.0" y2="598.0" stroke="#e8e8e8" stroke-width="2.3" />
<line x1="294.0" y1="578.2" x2="292.0" y2="572.0" stroke="#ee1c1c" stroke-width="2.3" />
<line x1="292.0" y1="572.0" x2="290.0" y2="565.9" stroke="#e8e8e8" stroke-width="2.3" />
<line x1="341.8" y1="579.5" x2="345.9" y2="573.4" stroke="#ee1c1c" stroke-width="2.3" />
<line x1="345.9" y1="573.4" x2="350.0" y2="567.3" stroke="#e8e8e8" stroke-width="2.3" />
<line x1="301.5" y1="600.0" x2="304.6" y2="599.3" stroke="#ee1c1c" stroke-width="2.3" />
<line x1="304.6" y1="599.3" x2="307.7" y2="598.6" stroke="#e8e8e8" stroke-width="2.3" />
<line x1="461.4" y1="579.5" x2="457.3" y2="573.4" stroke="#ee1c1c" stroke-width="2.3" />
<line x1="457.3" y1="573.4" x2="453.2" y2="567.3" stroke="#e8e8e8" stroke-width="2.3" />
<line x1="434.0" y1="575.5" x2="439.5" y2="575.5" stroke="#ee1c1c" stroke-width="2.3" />
<line x1="439.5" y1="575.5" x2="445.0" y2="575.5" stroke="#e8e8e8" stroke-width="2.3" />
<line x1="507.7" y1="581.0" x2="511.1" y2="574.8" stroke="#ee1c1c" stroke-width="2.3" />
<line x1="511.1" y1="574.8" x2="514.5" y2="568.6" stroke="#e8e8e8" stroke-width="2.3" />
<line x1="469.5" y1="601.4" x2="471.6" y2="600.0" stroke="#ee1c1c" stroke-width="2.3" />
<line x1="471.6" y1="600.0" x2="473.6" y2="598.6" stroke="#e8e8e8" stroke-width="2.3" />
<line x1="496.8" y1="601.4" x2="499.6" y2="597.3" stroke="#ee1c1c" stroke-width="2.3" />
<line x1="499.6" y1="597.3" x2="502.3" y2="593.2" stroke="#e8e8e8" stroke-width="2.3" />
<line x1="291.4" y1="620.4" x2="305.0" y2="620.4" stroke="#ee1c1c" stroke-width="2.3" />
<line x1="305.0" y1="620.4" x2="318.6" y2="620.4" stroke="#5a84c4" stroke-width="2.3" />
<line x1="318.6" y1="620.4" x2="333.0" y2="619.7" stroke="#5a84c4" stroke-width="2.3" />
<line x1="333.0" y1="619.7" x2="347.3" y2="619.0" stroke="#e8e8e8" stroke-width="2.3" />
<line x1="373.2" y1="620.4" x2="387.9" y2="620.4" stroke="#ee1c1c" stroke-width="2.3" />
<line x1="387.9" y1="620.4" x2="402.5" y2="620.4" stroke="#5a84c4" stroke-width="2.3" />
<line x1="402.5" y1="620.4" x2="415.6" y2="619.7" stroke="#5a84c4" stroke-width="2.3" />
<line x1="415.6" y1="619.7" x2="428.6" y2="619.0" stroke="#e8e8e8" stroke-width="2.3" />
<line x1="456.0" y1="620.4" x2="469.6" y2="620.4" stroke="#ee1c1c" stroke-width="2.3" />
<line x1="469.6" y1="620.4" x2="483.2" y2="620.4" stroke="#5a84c4" stroke-width="2.3" />
<line x1="483.2" y1="620.4" x2="497.5" y2="619.7" stroke="#5a84c4" stroke-width="2.3" />
<line x1="497.5" y1="619.7" x2="511.8" y2="619.0" stroke="#e8e8e8" stroke-width="2.3" />
<line x1="537.7" y1="621.8" x2="530.9" y2="610.2" stroke="#ee1c1c" stroke-width="2.3" />
<line x1="530.9" y1="610.2" x2="524.0" y2="598.6" stroke="#5a84c4" stroke-width="2.3" />
<line x1="359.5" y1="598.6" x2="366.4" y2="583.0" stroke="#5a84c4" stroke-width="2.3" />
<line x1="366.4" y1="583.0" x2="373.2" y2="567.3" stroke="#e8a020" stroke-width="2.3" />
<line x1="373.2" y1="567.3" x2="388.4" y2="572.0" stroke="#e8a020" stroke-width="2.3" />
<line x1="388.4" y1="572.0" x2="403.6" y2="576.8" stroke="#5a84c4" stroke-width="2.3" />
<line x1="373.2" y1="567.3" x2="371.1" y2="559.1" stroke="#e8a020" stroke-width="2.3" />
<line x1="371.1" y1="559.1" x2="369.0" y2="551.0" stroke="#e8e8e8" stroke-width="2.3" />
<line x1="524.0" y1="598.6" x2="531.5" y2="583.0" stroke="#5a84c4" stroke-width="2.3" />
<line x1="531.5" y1="583.0" x2="539.0" y2="567.3" stroke="#e8a020" stroke-width="2.3" />
<line x1="539.0" y1="567.3" x2="536.3" y2="559.8" stroke="#e8a020" stroke-width="2.3" />
<line x1="536.3" y1="559.8" x2="533.6" y2="552.3" stroke="#e8e8e8" stroke-width="2.3" />
<line x1="421.8" y1="555.0" x2="429.3" y2="556.4" stroke="#ee1c1c" stroke-width="2.3" />
<line x1="429.3" y1="556.4" x2="436.8" y2="557.7" stroke="#888888" stroke-width="2.3" />
<line x1="436.8" y1="557.7" x2="444.3" y2="552.2" stroke="#888888" stroke-width="2.3" />
<line x1="444.3" y1="552.2" x2="451.8" y2="546.8" stroke="#ee1c1c" stroke-width="2.3" />
<line x1="434.0" y1="575.5" x2="435.4" y2="566.6" stroke="#ee1c1c" stroke-width="2.3" />
<line x1="435.4" y1="566.6" x2="436.8" y2="557.7" stroke="#888888" stroke-width="2.3" />
<circle cx="327.0" cy="598.0" r="7.1" fill="url(#gH)"/>
<circle cx="301.5" cy="600.0" r="7.4" fill="url(#gO)"/>
<circle cx="318.6" cy="579.5" r="7.2" fill="url(#gNi)"/>
<circle cx="359.5" cy="598.6" r="7.2" fill="url(#gNi)"/>
<circle cx="403.6" cy="576.8" r="7.2" fill="url(#gNi)"/>
<circle cx="443.6" cy="600.0" r="7.2" fill="url(#gNi)"/>
<circle cx="484.5" cy="579.5" r="7.2" fill="url(#gNi)"/>
<circle cx="524.0" cy="598.6" r="7.2" fill="url(#gNi)"/>
<circle cx="318.6" cy="620.4" r="7.2" fill="url(#gNi)"/>
<circle cx="402.5" cy="620.4" r="7.2" fill="url(#gNi)"/>
<circle cx="483.2" cy="620.4" r="7.2" fill="url(#gNi)"/>
<circle cx="294.0" cy="578.2" r="7.4" fill="url(#gO)"/>
<circle cx="341.8" cy="579.5" r="7.4" fill="url(#gO)"/>
<circle cx="332.3" cy="600.0" r="7.4" fill="url(#gO)"/>
<circle cx="291.4" cy="620.4" r="7.4" fill="url(#gO)"/>
<circle cx="373.2" cy="620.4" r="7.4" fill="url(#gO)"/>
<circle cx="434.0" cy="575.5" r="7.4" fill="url(#gO)"/>
<circle cx="416.4" cy="598.6" r="7.4" fill="url(#gO)"/>
<circle cx="461.4" cy="579.5" r="7.4" fill="url(#gO)"/>
<circle cx="469.5" cy="601.4" r="7.4" fill="url(#gO)"/>
<circle cx="496.8" cy="601.4" r="7.4" fill="url(#gO)"/>
<circle cx="507.7" cy="581.0" r="7.4" fill="url(#gO)"/>
<circle cx="456.0" cy="620.4" r="7.4" fill="url(#gO)"/>
<circle cx="537.7" cy="621.8" r="7.4" fill="url(#gO)"/>
<circle cx="290.0" cy="565.9" r="7.1" fill="url(#gH)"/>
<circle cx="350.0" cy="567.3" r="7.1" fill="url(#gH)"/>
<circle cx="307.7" cy="598.6" r="7.1" fill="url(#gH)"/>
<circle cx="386.8" cy="597.3" r="7.1" fill="url(#gH)"/>
<circle cx="347.3" cy="619.0" r="7.1" fill="url(#gH)"/>
<circle cx="453.2" cy="567.3" r="7.1" fill="url(#gH)"/>
<circle cx="445.0" cy="575.5" r="7.1" fill="url(#gH)"/>
<circle cx="514.5" cy="568.6" r="7.1" fill="url(#gH)"/>
<circle cx="473.6" cy="598.6" r="7.1" fill="url(#gH)"/>
<circle cx="502.3" cy="593.2" r="7.1" fill="url(#gH)"/>
<circle cx="428.6" cy="619.0" r="7.1" fill="url(#gH)"/>
<circle cx="511.8" cy="619.0" r="7.1" fill="url(#gH)"/>
<circle cx="373.2" cy="567.3" r="6.6" fill="url(#gS)"/>
<circle cx="369.0" cy="551.0" r="7.1" fill="url(#gH)"/>
<circle cx="539.0" cy="567.3" r="6.6" fill="url(#gS)"/>
<circle cx="533.6" cy="552.3" r="7.1" fill="url(#gH)"/>
<circle cx="421.8" cy="555.0" r="7.4" fill="url(#gO)"/>
<circle cx="436.8" cy="557.7" r="6.4" fill="url(#gC)"/>
<circle cx="451.8" cy="546.8" r="7.4" fill="url(#gO)"/>
</g>
</svg></body></html>
